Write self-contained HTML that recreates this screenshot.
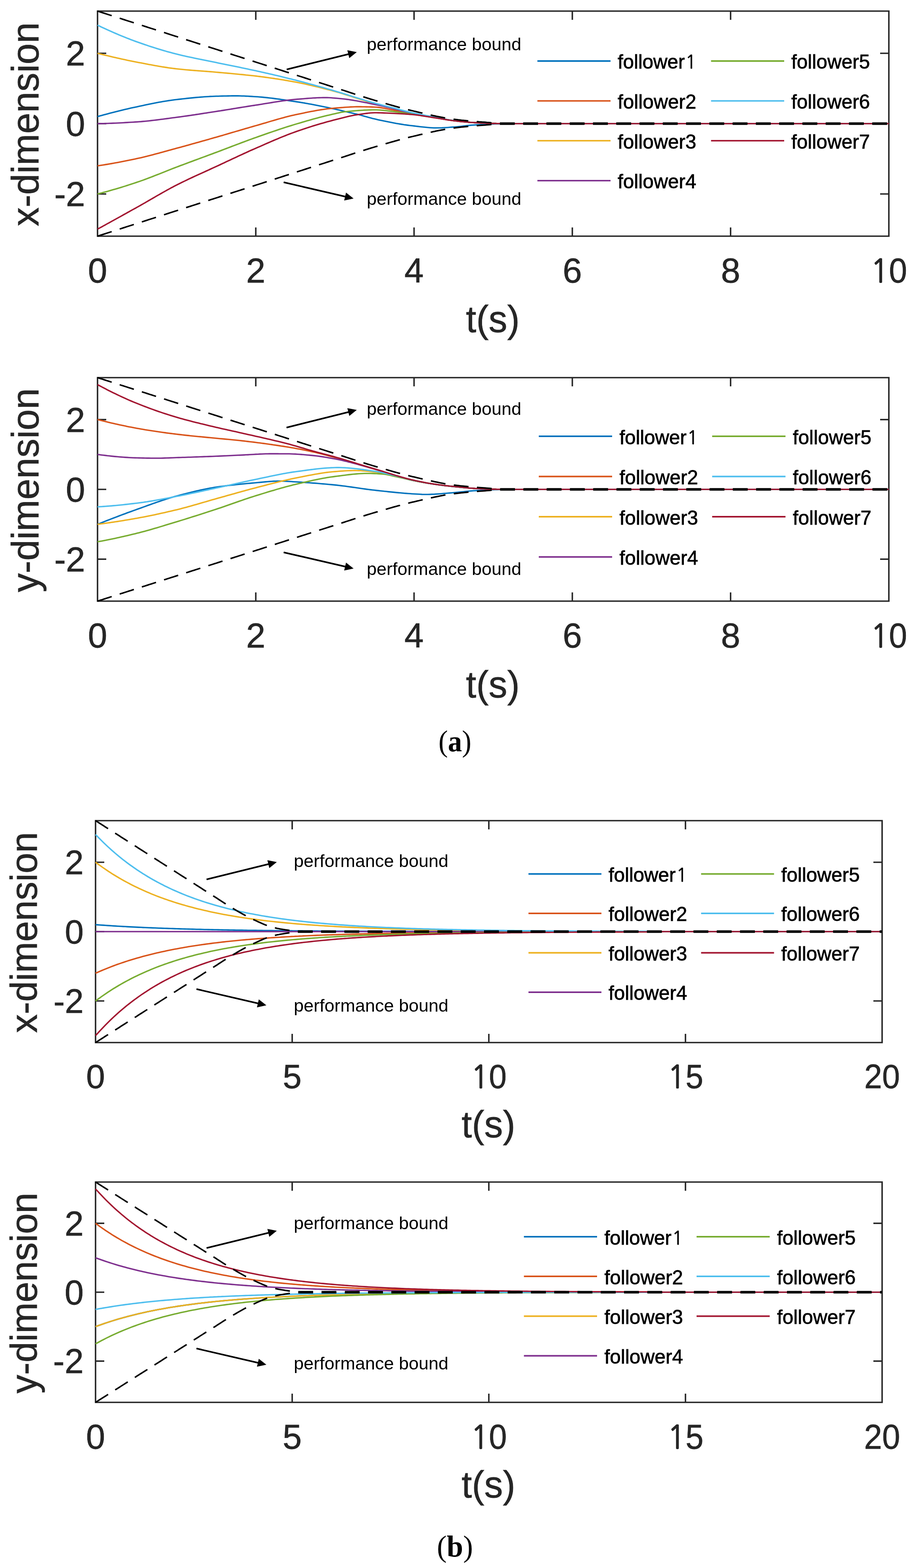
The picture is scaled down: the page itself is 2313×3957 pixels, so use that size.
<!DOCTYPE html>
<html><head><meta charset="utf-8"><title>follower trajectories with performance bounds</title>
<style>
html,body{margin:0;padding:0;background:#fff;}
svg{display:block;}
.ax{font-family:"Liberation Sans",Arial,Helvetica,sans-serif;fill:#262626;stroke:#262626;stroke-width:0.8px;}
.lg{font-family:"Liberation Sans",Arial,Helvetica,sans-serif;fill:#000;stroke:#000;stroke-width:0.9px;}
.an{font-family:"Liberation Sans",Arial,Helvetica,sans-serif;fill:#000;}
.cap{font-family:"Liberation Serif","Times New Roman",serif;fill:#000;}
</style></head><body>
<svg width="2313" height="3957" viewBox="0 0 2313 3957">
<rect width="2313" height="3957" fill="#fff"/>
<g>
<path d="M246 28H2242V596H246ZM246 596V574M246 28V50M645.2 596V574M645.2 28V50M1044.4 596V574M1044.4 28V50M1443.6 596V574M1443.6 28V50M1842.8 596V574M1842.8 28V50M2242 596V574M2242 28V50M246 489.5H268M2242 489.5H2220M246 312H268M2242 312H2220M246 134.5H268M2242 134.5H2220" stroke="#262626" stroke-width="3.7" fill="none"/>
<g fill="none" stroke-width="3.6" stroke-linejoin="round">
<path d="M246 294.2 L251 292.8 L256 291.5 L261 290.1 L266 288.7 L270.9 287.4 L275.9 286 L280.9 284.7 L285.9 283.4 L290.9 282.2 L295.9 280.9 L300.9 279.7 L305.9 278.4 L310.9 277.2 L315.9 276 L320.8 274.9 L325.8 273.7 L330.8 272.6 L335.8 271.5 L340.8 270.4 L345.8 269.4 L350.8 268.3 L355.8 267.2 L360.8 266.2 L365.8 265.1 L370.8 264.1 L375.7 263.1 L380.7 262.1 L385.7 261 L390.7 260.1 L395.7 259.1 L400.7 258.1 L405.7 257.2 L410.7 256.3 L415.7 255.5 L420.6 254.7 L425.6 253.9 L430.6 253.2 L435.6 252.5 L440.6 251.8 L445.6 251.2 L450.6 250.6 L455.6 250.1 L460.6 249.5 L465.6 249 L470.6 248.4 L475.5 247.9 L480.5 247.4 L485.5 246.9 L490.5 246.4 L495.5 245.9 L500.5 245.5 L505.5 245.1 L510.5 244.7 L515.5 244.3 L520.5 244 L525.4 243.7 L530.4 243.4 L535.4 243.2 L540.4 243 L545.4 242.8 L550.4 242.7 L555.4 242.5 L560.4 242.4 L565.4 242.3 L570.3 242.2 L575.3 242.1 L580.3 242 L585.3 241.9 L590.3 241.9 L595.3 241.9 L600.3 241.9 L605.3 242 L610.3 242.2 L615.3 242.3 L620.2 242.6 L625.2 242.8 L630.2 243.1 L635.2 243.4 L640.2 243.7 L645.2 244 L650.2 244.3 L655.2 244.7 L660.2 245.1 L665.2 245.6 L670.1 246.1 L675.1 246.6 L680.1 247.2 L685.1 247.8 L690.1 248.4 L695.1 249.1 L700.1 249.7 L705.1 250.4 L710.1 251.2 L715.1 251.9 L720 252.6 L725 253.4 L730 254.1 L735 254.9 L740 255.6 L745 256.4 L750 257.1 L755 257.9 L760 258.7 L765 259.6 L770 260.4 L774.9 261.3 L779.9 262.2 L784.9 263.1 L789.9 264.1 L794.9 265 L799.9 266 L804.9 267 L809.9 268 L814.9 269 L819.8 270.1 L824.8 271.1 L829.8 272.1 L834.8 273.2 L839.8 274.2 L844.8 275.3 L849.8 276.5 L854.8 277.6 L859.8 278.8 L864.8 280 L869.7 281.2 L874.7 282.3 L879.7 283.5 L884.7 284.6 L889.7 285.7 L894.7 286.9 L899.7 288.1 L904.7 289.3 L909.7 290.6 L914.7 292 L919.6 293.4 L924.6 294.8 L929.6 296.3 L934.6 297.6 L939.6 298.9 L944.6 300.1 L949.6 301.3 L954.6 302.4 L959.6 303.4 L964.6 304.5 L969.5 305.5 L974.5 306.6 L979.5 307.6 L984.5 308.6 L989.5 309.5 L994.5 310.5 L999.5 311.4 L1004.5 312.3 L1009.5 313.1 L1014.5 313.9 L1019.4 314.7 L1024.4 315.4 L1029.4 316.1 L1034.4 316.7 L1039.4 317.3 L1044.4 317.9 L1049.4 318.5 L1054.4 319.1 L1059.4 319.7 L1064.4 320.3 L1069.3 320.8 L1074.3 321.3 L1079.3 321.8 L1084.3 322.2 L1089.3 322.5 L1094.3 322.7 L1099.3 322.8 L1104.3 322.8 L1109.3 322.7 L1114.3 322.6 L1119.2 322.3 L1124.2 322 L1129.2 321.7 L1134.2 321.3 L1139.2 320.9 L1144.2 320.6 L1149.2 320.2 L1154.2 319.7 L1159.2 319.2 L1164.2 318.7 L1169.2 318.1 L1174.1 317.5 L1179.1 316.9 L1184.1 316.4 L1189.1 315.9 L1194.1 315.6 L1199.1 315.2 L1204.1 314.9 L1209.1 314.5 L1214.1 314.2 L1219 313.9 L1224 313.7 L1229 313.4 L1234 313.2 L1239 313 L1244 312.9 L1249 312.8 L1254 312.7 L1259 312.6 L1264 312.4 L1268.9 312.4 L1273.9 312.3 L1278.9 312.2 L1283.9 312.1 L1288.9 312.1 L1293.9 312 L1298.9 312 L1303.9 312 L2242 312" stroke="#0072BD"/>
<path d="M246 418.5 L251 417.8 L256 417 L261 416.2 L266 415.4 L270.9 414.6 L275.9 413.7 L280.9 412.9 L285.9 412 L290.9 411.1 L295.9 410.2 L300.9 409.2 L305.9 408.3 L310.9 407.3 L315.9 406.3 L320.8 405.3 L325.8 404.3 L330.8 403.3 L335.8 402.2 L340.8 401.2 L345.8 400.1 L350.8 399 L355.8 397.9 L360.8 396.7 L365.8 395.5 L370.8 394.3 L375.7 393 L380.7 391.7 L385.7 390.4 L390.7 389.1 L395.7 387.8 L400.7 386.4 L405.7 385.1 L410.7 383.7 L415.7 382.3 L420.6 381 L425.6 379.6 L430.6 378.2 L435.6 376.8 L440.6 375.5 L445.6 374.1 L450.6 372.8 L455.6 371.4 L460.6 370.1 L465.6 368.7 L470.6 367.3 L475.5 365.9 L480.5 364.5 L485.5 363.1 L490.5 361.7 L495.5 360.3 L500.5 358.9 L505.5 357.5 L510.5 356.1 L515.5 354.7 L520.5 353.3 L525.4 351.9 L530.4 350.4 L535.4 349 L540.4 347.6 L545.4 346.2 L550.4 344.7 L555.4 343.3 L560.4 341.9 L565.4 340.4 L570.3 339 L575.3 337.5 L580.3 336 L585.3 334.6 L590.3 333.1 L595.3 331.6 L600.3 330.2 L605.3 328.7 L610.3 327.2 L615.3 325.8 L620.2 324.3 L625.2 322.9 L630.2 321.4 L635.2 320 L640.2 318.6 L645.2 317.1 L650.2 315.7 L655.2 314.3 L660.2 312.8 L665.2 311.3 L670.1 309.9 L675.1 308.4 L680.1 306.9 L685.1 305.4 L690.1 304 L695.1 302.5 L700.1 301.1 L705.1 299.6 L710.1 298.2 L715.1 296.9 L720 295.6 L725 294.3 L730 293 L735 291.8 L740 290.7 L745 289.6 L750 288.5 L755 287.5 L760 286.4 L765 285.4 L770 284.3 L774.9 283.3 L779.9 282.3 L784.9 281.3 L789.9 280.4 L794.9 279.5 L799.9 278.6 L804.9 277.7 L809.9 276.9 L814.9 276.2 L819.8 275.5 L824.8 274.8 L829.8 274.2 L834.8 273.7 L839.8 273.2 L844.8 272.8 L849.8 272.4 L854.8 272 L859.8 271.6 L864.8 271.2 L869.7 270.8 L874.7 270.5 L879.7 270.2 L884.7 269.9 L889.7 269.7 L894.7 269.5 L899.7 269.4 L904.7 269.4 L909.7 269.4 L914.7 269.5 L919.6 269.5 L924.6 269.6 L929.6 269.8 L934.6 269.9 L939.6 270.1 L944.6 270.2 L949.6 270.5 L954.6 270.9 L959.6 271.6 L964.6 272.4 L969.5 273.3 L974.5 274.3 L979.5 275.3 L984.5 276.3 L989.5 277.3 L994.5 278.3 L999.5 279.2 L1004.5 280.2 L1009.5 281.1 L1014.5 282.1 L1019.4 283.2 L1024.4 284.2 L1029.4 285.2 L1034.4 286.1 L1039.4 287 L1044.4 287.9 L1049.4 288.8 L1054.4 289.6 L1059.4 290.4 L1064.4 291.2 L1069.3 292 L1074.3 292.8 L1079.3 293.6 L1084.3 294.4 L1089.3 295.2 L1094.3 296 L1099.3 296.9 L1104.3 297.7 L1109.3 298.6 L1114.3 299.5 L1119.2 300.4 L1124.2 301.3 L1129.2 302.2 L1134.2 303 L1139.2 303.7 L1144.2 304.4 L1149.2 305 L1154.2 305.6 L1159.2 306.2 L1164.2 306.7 L1169.2 307.3 L1174.1 307.8 L1179.1 308.2 L1184.1 308.6 L1189.1 309 L1194.1 309.3 L1199.1 309.6 L1204.1 309.9 L1209.1 310.2 L1214.1 310.5 L1219 310.7 L1224 311 L1229 311.2 L1234 311.3 L1239 311.5 L1244 311.6 L1249 311.6 L1254 311.7 L1259 311.7 L1264 311.8 L1268.9 311.8 L1273.9 311.9 L1278.9 311.9 L1283.9 311.9 L1288.9 312 L1293.9 312 L1298.9 312 L1303.9 312 L2242 312" stroke="#D95319"/>
<path d="M246 134.5 L251 135.8 L256 137 L261 138.2 L266 139.4 L270.9 140.6 L275.9 141.8 L280.9 143 L285.9 144.2 L290.9 145.3 L295.9 146.5 L300.9 147.6 L305.9 148.7 L310.9 149.8 L315.9 150.8 L320.8 151.9 L325.8 152.9 L330.8 154 L335.8 155 L340.8 155.9 L345.8 156.9 L350.8 157.9 L355.8 158.8 L360.8 159.8 L365.8 160.8 L370.8 161.7 L375.7 162.7 L380.7 163.6 L385.7 164.5 L390.7 165.4 L395.7 166.3 L400.7 167.2 L405.7 168 L410.7 168.9 L415.7 169.6 L420.6 170.4 L425.6 171.2 L430.6 171.9 L435.6 172.5 L440.6 173.1 L445.6 173.7 L450.6 174.3 L455.6 174.8 L460.6 175.3 L465.6 175.8 L470.6 176.2 L475.5 176.6 L480.5 177.1 L485.5 177.5 L490.5 177.9 L495.5 178.2 L500.5 178.6 L505.5 179 L510.5 179.4 L515.5 179.7 L520.5 180.1 L525.4 180.5 L530.4 180.9 L535.4 181.3 L540.4 181.8 L545.4 182.2 L550.4 182.6 L555.4 183.1 L560.4 183.5 L565.4 184 L570.3 184.4 L575.3 184.9 L580.3 185.3 L585.3 185.8 L590.3 186.2 L595.3 186.7 L600.3 187.2 L605.3 187.7 L610.3 188.1 L615.3 188.6 L620.2 189.2 L625.2 189.7 L630.2 190.2 L635.2 190.8 L640.2 191.3 L645.2 191.9 L650.2 192.5 L655.2 193.1 L660.2 193.8 L665.2 194.4 L670.1 195.1 L675.1 195.8 L680.1 196.5 L685.1 197.2 L690.1 197.9 L695.1 198.7 L700.1 199.4 L705.1 200.2 L710.1 201 L715.1 201.8 L720 202.7 L725 203.5 L730 204.4 L735 205.3 L740 206.2 L745 207.1 L750 208 L755 209 L760 210 L765 211.1 L770 212.1 L774.9 213.2 L779.9 214.4 L784.9 215.5 L789.9 216.7 L794.9 217.9 L799.9 219.1 L804.9 220.3 L809.9 221.6 L814.9 222.9 L819.8 224.2 L824.8 225.5 L829.8 226.8 L834.8 228.1 L839.8 229.4 L844.8 230.8 L849.8 232.2 L854.8 233.6 L859.8 235.1 L864.8 236.6 L869.7 238.2 L874.7 239.7 L879.7 241.3 L884.7 242.9 L889.7 244.5 L894.7 246.2 L899.7 247.8 L904.7 249.4 L909.7 251 L914.7 252.6 L919.6 254.1 L924.6 255.7 L929.6 257.2 L934.6 258.7 L939.6 260.1 L944.6 261.5 L949.6 262.8 L954.6 264.1 L959.6 265.4 L964.6 266.6 L969.5 267.8 L974.5 269 L979.5 270.2 L984.5 271.4 L989.5 272.6 L994.5 273.8 L999.5 275.1 L1004.5 276.4 L1009.5 277.7 L1014.5 279.1 L1019.4 280.4 L1024.4 281.7 L1029.4 282.9 L1034.4 284.1 L1039.4 285.2 L1044.4 286.3 L1049.4 287.3 L1054.4 288.3 L1059.4 289.3 L1064.4 290.2 L1069.3 291.1 L1074.3 292 L1079.3 292.9 L1084.3 293.8 L1089.3 294.7 L1094.3 295.6 L1099.3 296.5 L1104.3 297.4 L1109.3 298.3 L1114.3 299.3 L1119.2 300.2 L1124.2 301.1 L1129.2 301.9 L1134.2 302.8 L1139.2 303.5 L1144.2 304.2 L1149.2 304.9 L1154.2 305.5 L1159.2 306.1 L1164.2 306.6 L1169.2 307.2 L1174.1 307.7 L1179.1 308.2 L1184.1 308.6 L1189.1 309 L1194.1 309.3 L1199.1 309.6 L1204.1 309.9 L1209.1 310.2 L1214.1 310.5 L1219 310.8 L1224 311 L1229 311.2 L1234 311.3 L1239 311.5 L1244 311.6 L1249 311.6 L1254 311.7 L1259 311.7 L1264 311.8 L1268.9 311.8 L1273.9 311.9 L1278.9 311.9 L1283.9 311.9 L1288.9 312 L1293.9 312 L1298.9 312 L1303.9 312 L2242 312" stroke="#EDB120"/>
<path d="M246 312 L251 311.9 L256 311.9 L261 311.8 L266 311.6 L270.9 311.5 L275.9 311.3 L280.9 311.1 L285.9 310.9 L290.9 310.7 L295.9 310.5 L300.9 310.2 L305.9 310 L310.9 309.7 L315.9 309.4 L320.8 309.1 L325.8 308.8 L330.8 308.5 L335.8 308.2 L340.8 307.9 L345.8 307.6 L350.8 307.2 L355.8 306.9 L360.8 306.4 L365.8 306 L370.8 305.5 L375.7 305 L380.7 304.4 L385.7 303.8 L390.7 303.2 L395.7 302.6 L400.7 302 L405.7 301.3 L410.7 300.7 L415.7 300 L420.6 299.4 L425.6 298.7 L430.6 298 L435.6 297.3 L440.6 296.7 L445.6 296 L450.6 295.4 L455.6 294.7 L460.6 294 L465.6 293.3 L470.6 292.6 L475.5 291.9 L480.5 291.2 L485.5 290.4 L490.5 289.7 L495.5 288.9 L500.5 288.2 L505.5 287.4 L510.5 286.6 L515.5 285.8 L520.5 285.1 L525.4 284.3 L530.4 283.5 L535.4 282.7 L540.4 282 L545.4 281.2 L550.4 280.4 L555.4 279.7 L560.4 278.9 L565.4 278.1 L570.3 277.3 L575.3 276.5 L580.3 275.7 L585.3 274.9 L590.3 274 L595.3 273.2 L600.3 272.4 L605.3 271.6 L610.3 270.8 L615.3 270 L620.2 269.2 L625.2 268.4 L630.2 267.6 L635.2 266.8 L640.2 266.1 L645.2 265.3 L650.2 264.6 L655.2 263.8 L660.2 263 L665.2 262.1 L670.1 261.3 L675.1 260.5 L680.1 259.7 L685.1 258.9 L690.1 258 L695.1 257.3 L700.1 256.5 L705.1 255.7 L710.1 255 L715.1 254.3 L720 253.6 L725 253 L730 252.4 L735 251.8 L740 251.3 L745 250.8 L750 250.4 L755 250 L760 249.6 L765 249.2 L770 248.8 L774.9 248.4 L779.9 248 L784.9 247.7 L789.9 247.3 L794.9 247.1 L799.9 246.8 L804.9 246.6 L809.9 246.5 L814.9 246.4 L819.8 246.3 L824.8 246.4 L829.8 246.5 L834.8 246.8 L839.8 247.2 L844.8 247.6 L849.8 248 L854.8 248.5 L859.8 249 L864.8 249.5 L869.7 250 L874.7 250.6 L879.7 251.3 L884.7 252.1 L889.7 252.9 L894.7 253.7 L899.7 254.6 L904.7 255.5 L909.7 256.4 L914.7 257.4 L919.6 258.4 L924.6 259.3 L929.6 260.4 L934.6 261.4 L939.6 262.4 L944.6 263.4 L949.6 264.4 L954.6 265.4 L959.6 266.5 L964.6 267.6 L969.5 268.8 L974.5 269.9 L979.5 271.1 L984.5 272.3 L989.5 273.5 L994.5 274.7 L999.5 276 L1004.5 277.2 L1009.5 278.6 L1014.5 279.9 L1019.4 281.2 L1024.4 282.6 L1029.4 283.8 L1034.4 285 L1039.4 286.1 L1044.4 287.2 L1049.4 288.2 L1054.4 289.1 L1059.4 290 L1064.4 290.9 L1069.3 291.8 L1074.3 292.6 L1079.3 293.5 L1084.3 294.3 L1089.3 295.2 L1094.3 296 L1099.3 296.9 L1104.3 297.8 L1109.3 298.7 L1114.3 299.6 L1119.2 300.5 L1124.2 301.4 L1129.2 302.2 L1134.2 303 L1139.2 303.7 L1144.2 304.4 L1149.2 305 L1154.2 305.6 L1159.2 306.2 L1164.2 306.7 L1169.2 307.3 L1174.1 307.8 L1179.1 308.2 L1184.1 308.6 L1189.1 309 L1194.1 309.3 L1199.1 309.6 L1204.1 309.9 L1209.1 310.2 L1214.1 310.5 L1219 310.7 L1224 311 L1229 311.2 L1234 311.3 L1239 311.5 L1244 311.6 L1249 311.6 L1254 311.7 L1259 311.7 L1264 311.8 L1268.9 311.8 L1273.9 311.9 L1278.9 311.9 L1283.9 311.9 L1288.9 312 L1293.9 312 L1298.9 312 L1303.9 312 L2242 312" stroke="#7E2F8E"/>
<path d="M246 489.5 L251 488.2 L256 486.9 L261 485.6 L266 484.2 L270.9 482.9 L275.9 481.5 L280.9 480 L285.9 478.6 L290.9 477.2 L295.9 475.7 L300.9 474.2 L305.9 472.7 L310.9 471.1 L315.9 469.6 L320.8 468 L325.8 466.4 L330.8 464.8 L335.8 463.1 L340.8 461.5 L345.8 459.8 L350.8 458.1 L355.8 456.4 L360.8 454.6 L365.8 452.8 L370.8 450.9 L375.7 449 L380.7 447.1 L385.7 445.2 L390.7 443.2 L395.7 441.3 L400.7 439.3 L405.7 437.3 L410.7 435.3 L415.7 433.3 L420.6 431.3 L425.6 429.3 L430.6 427.4 L435.6 425.4 L440.6 423.5 L445.6 421.6 L450.6 419.7 L455.6 417.8 L460.6 416 L465.6 414.1 L470.6 412.3 L475.5 410.4 L480.5 408.5 L485.5 406.7 L490.5 404.8 L495.5 403 L500.5 401.1 L505.5 399.3 L510.5 397.4 L515.5 395.6 L520.5 393.7 L525.4 391.9 L530.4 390 L535.4 388.2 L540.4 386.3 L545.4 384.5 L550.4 382.6 L555.4 380.7 L560.4 378.8 L565.4 376.9 L570.3 375 L575.3 373.1 L580.3 371.2 L585.3 369.3 L590.3 367.4 L595.3 365.5 L600.3 363.6 L605.3 361.7 L610.3 359.8 L615.3 358 L620.2 356.1 L625.2 354.3 L630.2 352.4 L635.2 350.6 L640.2 348.8 L645.2 347.1 L650.2 345.3 L655.2 343.5 L660.2 341.8 L665.2 340 L670.1 338.3 L675.1 336.5 L680.1 334.8 L685.1 333.1 L690.1 331.4 L695.1 329.7 L700.1 328 L705.1 326.3 L710.1 324.6 L715.1 323 L720 321.4 L725 319.8 L730 318.2 L735 316.7 L740 315.1 L745 313.6 L750 312.1 L755 310.7 L760 309.2 L765 307.7 L770 306.3 L774.9 304.8 L779.9 303.4 L784.9 302 L789.9 300.6 L794.9 299.3 L799.9 297.9 L804.9 296.6 L809.9 295.3 L814.9 294 L819.8 292.8 L824.8 291.5 L829.8 290.4 L834.8 289.2 L839.8 288.1 L844.8 287 L849.8 285.8 L854.8 284.7 L859.8 283.6 L864.8 282.7 L869.7 282 L874.7 281.5 L879.7 281 L884.7 280.5 L889.7 280.1 L894.7 279.6 L899.7 279.2 L904.7 278.9 L909.7 278.5 L914.7 278.2 L919.6 277.9 L924.6 277.7 L929.6 277.5 L934.6 277.4 L939.6 277.3 L944.6 277.2 L949.6 277.3 L954.6 277.5 L959.6 277.8 L964.6 278.2 L969.5 278.8 L974.5 279.3 L979.5 280 L984.5 280.6 L989.5 281.2 L994.5 281.8 L999.5 282.4 L1004.5 283 L1009.5 283.7 L1014.5 284.4 L1019.4 285.1 L1024.4 285.8 L1029.4 286.5 L1034.4 287.2 L1039.4 288 L1044.4 288.7 L1049.4 289.4 L1054.4 290.2 L1059.4 291 L1064.4 291.7 L1069.3 292.5 L1074.3 293.3 L1079.3 294.1 L1084.3 294.9 L1089.3 295.7 L1094.3 296.5 L1099.3 297.3 L1104.3 298.1 L1109.3 298.9 L1114.3 299.8 L1119.2 300.6 L1124.2 301.5 L1129.2 302.3 L1134.2 303 L1139.2 303.8 L1144.2 304.4 L1149.2 305 L1154.2 305.6 L1159.2 306.2 L1164.2 306.7 L1169.2 307.3 L1174.1 307.7 L1179.1 308.2 L1184.1 308.6 L1189.1 309 L1194.1 309.3 L1199.1 309.6 L1204.1 309.9 L1209.1 310.2 L1214.1 310.5 L1219 310.7 L1224 311 L1229 311.2 L1234 311.3 L1239 311.5 L1244 311.6 L1249 311.6 L1254 311.7 L1259 311.7 L1264 311.8 L1268.9 311.8 L1273.9 311.9 L1278.9 311.9 L1283.9 311.9 L1288.9 312 L1293.9 312 L1298.9 312 L1303.9 312 L2242 312" stroke="#77AC30"/>
<path d="M246 63.5 L251 65.9 L256 68.3 L261 70.6 L266 72.9 L270.9 75.2 L275.9 77.4 L280.9 79.7 L285.9 81.9 L290.9 84 L295.9 86.2 L300.9 88.3 L305.9 90.4 L310.9 92.4 L315.9 94.4 L320.8 96.4 L325.8 98.3 L330.8 100.3 L335.8 102.1 L340.8 104 L345.8 105.8 L350.8 107.5 L355.8 109.3 L360.8 111 L365.8 112.7 L370.8 114.4 L375.7 116.1 L380.7 117.7 L385.7 119.3 L390.7 120.9 L395.7 122.5 L400.7 124 L405.7 125.5 L410.7 127 L415.7 128.4 L420.6 129.9 L425.6 131.3 L430.6 132.6 L435.6 134 L440.6 135.3 L445.6 136.5 L450.6 137.8 L455.6 139 L460.6 140.2 L465.6 141.3 L470.6 142.4 L475.5 143.5 L480.5 144.6 L485.5 145.6 L490.5 146.7 L495.5 147.7 L500.5 148.7 L505.5 149.7 L510.5 150.7 L515.5 151.7 L520.5 152.7 L525.4 153.7 L530.4 154.7 L535.4 155.7 L540.4 156.8 L545.4 157.8 L550.4 158.9 L555.4 159.9 L560.4 160.9 L565.4 162 L570.3 163 L575.3 164 L580.3 165 L585.3 166 L590.3 167.1 L595.3 168.1 L600.3 169.1 L605.3 170.1 L610.3 171.2 L615.3 172.2 L620.2 173.2 L625.2 174.3 L630.2 175.4 L635.2 176.4 L640.2 177.5 L645.2 178.6 L650.2 179.7 L655.2 180.8 L660.2 181.9 L665.2 183.1 L670.1 184.2 L675.1 185.3 L680.1 186.5 L685.1 187.6 L690.1 188.8 L695.1 190 L700.1 191.1 L705.1 192.3 L710.1 193.5 L715.1 194.7 L720 195.9 L725 197.2 L730 198.4 L735 199.6 L740 200.9 L745 202.1 L750 203.4 L755 204.7 L760 206 L765 207.3 L770 208.7 L774.9 210 L779.9 211.4 L784.9 212.7 L789.9 214.1 L794.9 215.5 L799.9 216.9 L804.9 218.3 L809.9 219.7 L814.9 221.1 L819.8 222.5 L824.8 223.9 L829.8 225.4 L834.8 226.8 L839.8 228.3 L844.8 229.7 L849.8 231.2 L854.8 232.7 L859.8 234.2 L864.8 235.7 L869.7 237.3 L874.7 238.8 L879.7 240.4 L884.7 242 L889.7 243.6 L894.7 245.1 L899.7 246.7 L904.7 248.3 L909.7 249.8 L914.7 251.3 L919.6 252.9 L924.6 254.4 L929.6 255.9 L934.6 257.3 L939.6 258.7 L944.6 260.1 L949.6 261.5 L954.6 262.8 L959.6 264.1 L964.6 265.4 L969.5 266.7 L974.5 267.9 L979.5 269.2 L984.5 270.4 L989.5 271.7 L994.5 272.9 L999.5 274.2 L1004.5 275.5 L1009.5 276.9 L1014.5 278.2 L1019.4 279.5 L1024.4 280.8 L1029.4 282 L1034.4 283.2 L1039.4 284.4 L1044.4 285.4 L1049.4 286.5 L1054.4 287.5 L1059.4 288.5 L1064.4 289.5 L1069.3 290.5 L1074.3 291.4 L1079.3 292.3 L1084.3 293.3 L1089.3 294.2 L1094.3 295.1 L1099.3 296.1 L1104.3 297.1 L1109.3 298 L1114.3 299 L1119.2 300 L1124.2 300.9 L1129.2 301.9 L1134.2 302.7 L1139.2 303.5 L1144.2 304.2 L1149.2 304.9 L1154.2 305.5 L1159.2 306.1 L1164.2 306.7 L1169.2 307.2 L1174.1 307.7 L1179.1 308.2 L1184.1 308.6 L1189.1 309 L1194.1 309.3 L1199.1 309.6 L1204.1 309.9 L1209.1 310.2 L1214.1 310.5 L1219 310.8 L1224 311 L1229 311.2 L1234 311.3 L1239 311.5 L1244 311.6 L1249 311.6 L1254 311.7 L1259 311.7 L1264 311.8 L1268.9 311.8 L1273.9 311.9 L1278.9 311.9 L1283.9 311.9 L1288.9 312 L1293.9 312 L1298.9 312 L1303.9 312 L2242 312" stroke="#4DBEEE"/>
<path d="M246 578.2 L251 575.5 L256 572.8 L261 570 L266 567.3 L270.9 564.5 L275.9 561.8 L280.9 559 L285.9 556.2 L290.9 553.5 L295.9 550.7 L300.9 548 L305.9 545.2 L310.9 542.4 L315.9 539.7 L320.8 536.9 L325.8 534.1 L330.8 531.3 L335.8 528.5 L340.8 525.8 L345.8 523 L350.8 520.2 L355.8 517.4 L360.8 514.5 L365.8 511.7 L370.8 508.8 L375.7 505.9 L380.7 503 L385.7 500.1 L390.7 497.2 L395.7 494.3 L400.7 491.5 L405.7 488.6 L410.7 485.8 L415.7 483 L420.6 480.2 L425.6 477.5 L430.6 474.7 L435.6 472.1 L440.6 469.4 L445.6 466.9 L450.6 464.3 L455.6 461.8 L460.6 459.4 L465.6 457 L470.6 454.6 L475.5 452.2 L480.5 449.8 L485.5 447.5 L490.5 445.2 L495.5 442.9 L500.5 440.6 L505.5 438.3 L510.5 436.1 L515.5 433.8 L520.5 431.5 L525.4 429.3 L530.4 427 L535.4 424.7 L540.4 422.4 L545.4 420.1 L550.4 417.8 L555.4 415.5 L560.4 413.1 L565.4 410.8 L570.3 408.4 L575.3 406.1 L580.3 403.8 L585.3 401.4 L590.3 399.1 L595.3 396.8 L600.3 394.4 L605.3 392.1 L610.3 389.8 L615.3 387.5 L620.2 385.3 L625.2 383 L630.2 380.7 L635.2 378.5 L640.2 376.3 L645.2 374.1 L650.2 371.9 L655.2 369.8 L660.2 367.6 L665.2 365.4 L670.1 363.2 L675.1 361 L680.1 358.8 L685.1 356.7 L690.1 354.5 L695.1 352.4 L700.1 350.3 L705.1 348.2 L710.1 346.2 L715.1 344.1 L720 342.2 L725 340.2 L730 338.3 L735 336.4 L740 334.6 L745 332.8 L750 331 L755 329.3 L760 327.6 L765 325.9 L770 324.2 L774.9 322.6 L779.9 321 L784.9 319.4 L789.9 317.8 L794.9 316.3 L799.9 314.8 L804.9 313.3 L809.9 311.8 L814.9 310.4 L819.8 309 L824.8 307.6 L829.8 306.3 L834.8 304.9 L839.8 303.6 L844.8 302.3 L849.8 301 L854.8 299.7 L859.8 298.4 L864.8 297.2 L869.7 296 L874.7 294.8 L879.7 293.6 L884.7 292.5 L889.7 291.5 L894.7 290.6 L899.7 289.7 L904.7 289 L909.7 288.2 L914.7 287.5 L919.6 286.8 L924.6 286.1 L929.6 285.5 L934.6 285 L939.6 284.7 L944.6 284.5 L949.6 284.5 L954.6 284.6 L959.6 284.7 L964.6 284.9 L969.5 285.1 L974.5 285.3 L979.5 285.5 L984.5 285.8 L989.5 286 L994.5 286.3 L999.5 286.5 L1004.5 286.7 L1009.5 287 L1014.5 287.3 L1019.4 287.5 L1024.4 287.9 L1029.4 288.2 L1034.4 288.6 L1039.4 289 L1044.4 289.4 L1049.4 290 L1054.4 290.6 L1059.4 291.3 L1064.4 292.1 L1069.3 292.9 L1074.3 293.7 L1079.3 294.5 L1084.3 295.3 L1089.3 296.1 L1094.3 296.9 L1099.3 297.7 L1104.3 298.5 L1109.3 299.3 L1114.3 300.1 L1119.2 301 L1124.2 301.8 L1129.2 302.6 L1134.2 303.3 L1139.2 304 L1144.2 304.7 L1149.2 305.3 L1154.2 305.8 L1159.2 306.4 L1164.2 306.9 L1169.2 307.4 L1174.1 307.8 L1179.1 308.3 L1184.1 308.7 L1189.1 309 L1194.1 309.3 L1199.1 309.6 L1204.1 309.9 L1209.1 310.2 L1214.1 310.5 L1219 310.7 L1224 311 L1229 311.2 L1234 311.3 L1239 311.5 L1244 311.6 L1249 311.6 L1254 311.7 L1259 311.7 L1264 311.8 L1268.9 311.8 L1273.9 311.9 L1278.9 311.9 L1283.9 311.9 L1288.9 312 L1293.9 312 L1298.9 312 L1303.9 312 L2242 312" stroke="#A2142F"/>
</g>
<g fill="none" stroke="#000" stroke-width="3.8" stroke-dasharray="37.5 21.2">
<path d="M246 28 L250 29.3 L254 30.6 L258 31.9 L262 33.1 L266 34.4 L270 35.7 L273.9 37 L277.9 38.3 L281.9 39.6 L285.9 40.9 L289.9 42.2 L293.9 43.4 L297.9 44.7 L301.9 46 L305.9 47.3 L309.9 48.6 L313.9 49.9 L317.9 51.2 L321.8 52.5 L325.8 53.7 L329.8 55 L333.8 56.3 L337.8 57.6 L341.8 58.9 L345.8 60.2 L349.8 61.5 L353.8 62.7 L357.8 64 L361.8 65.3 L365.8 66.6 L369.8 67.9 L373.7 69.2 L377.7 70.5 L381.7 71.8 L385.7 73 L389.7 74.3 L393.7 75.6 L397.7 76.9 L401.7 78.2 L405.7 79.5 L409.7 80.8 L413.7 82 L417.7 83.3 L421.6 84.6 L425.6 85.9 L429.6 87.2 L433.6 88.5 L437.6 89.8 L441.6 91.1 L445.6 92.3 L449.6 93.6 L453.6 94.9 L457.6 96.2 L461.6 97.5 L465.6 98.8 L469.6 100.1 L473.5 101.4 L477.5 102.6 L481.5 103.9 L485.5 105.2 L489.5 106.5 L493.5 107.8 L497.5 109.1 L501.5 110.4 L505.5 111.6 L509.5 112.9 L513.5 114.2 L517.5 115.5 L521.4 116.8 L525.4 118.1 L529.4 119.4 L533.4 120.7 L537.4 121.9 L541.4 123.2 L545.4 124.5 L549.4 125.8 L553.4 127.1 L557.4 128.4 L561.4 129.7 L565.4 130.9 L569.4 132.2 L573.3 133.5 L577.3 134.8 L581.3 136.1 L585.3 137.4 L589.3 138.7 L593.3 140 L597.3 141.2 L601.3 142.5 L605.3 143.8 L609.3 145.1 L613.3 146.4 L617.3 147.7 L621.2 149 L625.2 150.3 L629.2 151.5 L633.2 152.8 L637.2 154.1 L641.2 155.4 L645.2 156.7 L649.2 158 L653.2 159.3 L657.2 160.5 L661.2 161.8 L665.2 163.1 L669.2 164.4 L673.1 165.7 L677.1 167 L681.1 168.3 L685.1 169.6 L689.1 170.9 L693.1 172.1 L697.1 173.4 L701.1 174.7 L705.1 176 L709.1 177.3 L713.1 178.6 L717.1 179.9 L721 181.2 L725 182.4 L729 183.7 L733 185 L737 186.3 L741 187.6 L745 188.9 L749 190.2 L753 191.5 L757 192.8 L761 194 L765 195.3 L769 196.6 L772.9 197.9 L776.9 199.2 L780.9 200.5 L784.9 201.8 L788.9 203.1 L792.9 204.3 L796.9 205.6 L800.9 206.9 L804.9 208.2 L808.9 209.5 L812.9 210.8 L816.9 212 L820.8 213.3 L824.8 214.6 L828.8 215.9 L832.8 217.2 L836.8 218.5 L840.8 219.7 L844.8 221 L848.8 222.3 L852.8 223.6 L856.8 224.9 L860.8 226.2 L864.8 227.5 L868.8 228.8 L872.7 230.1 L876.7 231.4 L880.7 232.7 L884.7 234.1 L888.7 235.4 L892.7 236.7 L896.7 238 L900.7 239.3 L904.7 240.6 L908.7 241.8 L912.7 243.1 L916.7 244.4 L920.6 245.6 L924.6 246.9 L928.6 248.1 L932.6 249.4 L936.6 250.6 L940.6 251.8 L944.6 253 L948.6 254.2 L952.6 255.3 L956.6 256.5 L960.6 257.7 L964.6 258.9 L968.6 260 L972.5 261.2 L976.5 262.4 L980.5 263.5 L984.5 264.7 L988.5 265.8 L992.5 266.9 L996.5 268.1 L1000.5 269.2 L1004.5 270.3 L1008.5 271.4 L1012.5 272.4 L1016.5 273.5 L1020.4 274.5 L1024.4 275.6 L1028.4 276.6 L1032.4 277.6 L1036.4 278.6 L1040.4 279.5 L1044.4 280.5 L1048.4 281.4 L1052.4 282.4 L1056.4 283.3 L1060.4 284.3 L1064.4 285.2 L1068.4 286.1 L1072.3 287.1 L1076.3 288 L1080.3 288.9 L1084.3 289.8 L1088.3 290.7 L1092.3 291.6 L1096.3 292.4 L1100.3 293.3 L1104.3 294.1 L1108.3 294.9 L1112.3 295.7 L1116.3 296.4 L1120.2 297.2 L1124.2 297.9 L1128.2 298.5 L1132.2 299.2 L1136.2 299.8 L1140.2 300.4 L1144.2 300.9 L1148.2 301.4 L1152.2 301.9 L1156.2 302.4 L1160.2 302.8 L1164.2 303.3 L1168.2 303.7 L1172.1 304.1 L1176.1 304.5 L1180.1 304.8 L1184.1 305.2 L1188.1 305.6 L1192.1 305.9 L1196.1 306.3 L1200.1 306.6 L1204.1 306.9 L1208.1 307.3 L1212.1 307.6 L1216.1 307.9 L1220 308.1 L1224 308.4 L1228 308.8 L1232 309.1 L1236 309.4 L1240 309.8 L1244 310.3 L1248 310.7 L2242 310.7"/>
<path d="M246 596 L250 594.7 L254 593.4 L258 592.1 L262 590.9 L266 589.6 L270 588.3 L273.9 587 L277.9 585.7 L281.9 584.4 L285.9 583.1 L289.9 581.8 L293.9 580.6 L297.9 579.3 L301.9 578 L305.9 576.7 L309.9 575.4 L313.9 574.1 L317.9 572.8 L321.8 571.5 L325.8 570.3 L329.8 569 L333.8 567.7 L337.8 566.4 L341.8 565.1 L345.8 563.8 L349.8 562.5 L353.8 561.3 L357.8 560 L361.8 558.7 L365.8 557.4 L369.8 556.1 L373.7 554.8 L377.7 553.5 L381.7 552.2 L385.7 551 L389.7 549.7 L393.7 548.4 L397.7 547.1 L401.7 545.8 L405.7 544.5 L409.7 543.2 L413.7 542 L417.7 540.7 L421.6 539.4 L425.6 538.1 L429.6 536.8 L433.6 535.5 L437.6 534.2 L441.6 532.9 L445.6 531.7 L449.6 530.4 L453.6 529.1 L457.6 527.8 L461.6 526.5 L465.6 525.2 L469.6 523.9 L473.5 522.6 L477.5 521.4 L481.5 520.1 L485.5 518.8 L489.5 517.5 L493.5 516.2 L497.5 514.9 L501.5 513.6 L505.5 512.4 L509.5 511.1 L513.5 509.8 L517.5 508.5 L521.4 507.2 L525.4 505.9 L529.4 504.6 L533.4 503.3 L537.4 502.1 L541.4 500.8 L545.4 499.5 L549.4 498.2 L553.4 496.9 L557.4 495.6 L561.4 494.3 L565.4 493.1 L569.4 491.8 L573.3 490.5 L577.3 489.2 L581.3 487.9 L585.3 486.6 L589.3 485.3 L593.3 484 L597.3 482.8 L601.3 481.5 L605.3 480.2 L609.3 478.9 L613.3 477.6 L617.3 476.3 L621.2 475 L625.2 473.7 L629.2 472.5 L633.2 471.2 L637.2 469.9 L641.2 468.6 L645.2 467.3 L649.2 466 L653.2 464.7 L657.2 463.5 L661.2 462.2 L665.2 460.9 L669.2 459.6 L673.1 458.3 L677.1 457 L681.1 455.7 L685.1 454.4 L689.1 453.1 L693.1 451.9 L697.1 450.6 L701.1 449.3 L705.1 448 L709.1 446.7 L713.1 445.4 L717.1 444.1 L721 442.8 L725 441.6 L729 440.3 L733 439 L737 437.7 L741 436.4 L745 435.1 L749 433.8 L753 432.5 L757 431.2 L761 430 L765 428.7 L769 427.4 L772.9 426.1 L776.9 424.8 L780.9 423.5 L784.9 422.2 L788.9 420.9 L792.9 419.7 L796.9 418.4 L800.9 417.1 L804.9 415.8 L808.9 414.5 L812.9 413.2 L816.9 412 L820.8 410.7 L824.8 409.4 L828.8 408.1 L832.8 406.8 L836.8 405.5 L840.8 404.3 L844.8 403 L848.8 401.7 L852.8 400.4 L856.8 399.1 L860.8 397.8 L864.8 396.5 L868.8 395.2 L872.7 393.9 L876.7 392.6 L880.7 391.3 L884.7 389.9 L888.7 388.6 L892.7 387.3 L896.7 386 L900.7 384.7 L904.7 383.4 L908.7 382.2 L912.7 380.9 L916.7 379.6 L920.6 378.4 L924.6 377.1 L928.6 375.9 L932.6 374.6 L936.6 373.4 L940.6 372.2 L944.6 371 L948.6 369.8 L952.6 368.7 L956.6 367.5 L960.6 366.3 L964.6 365.1 L968.6 364 L972.5 362.8 L976.5 361.6 L980.5 360.5 L984.5 359.3 L988.5 358.2 L992.5 357.1 L996.5 355.9 L1000.5 354.8 L1004.5 353.7 L1008.5 352.6 L1012.5 351.6 L1016.5 350.5 L1020.4 349.5 L1024.4 348.4 L1028.4 347.4 L1032.4 346.4 L1036.4 345.4 L1040.4 344.5 L1044.4 343.5 L1048.4 342.6 L1052.4 341.6 L1056.4 340.7 L1060.4 339.7 L1064.4 338.8 L1068.4 337.9 L1072.3 336.9 L1076.3 336 L1080.3 335.1 L1084.3 334.2 L1088.3 333.3 L1092.3 332.4 L1096.3 331.6 L1100.3 330.7 L1104.3 329.9 L1108.3 329.1 L1112.3 328.3 L1116.3 327.6 L1120.2 326.8 L1124.2 326.1 L1128.2 325.5 L1132.2 324.8 L1136.2 324.2 L1140.2 323.6 L1144.2 323.1 L1148.2 322.6 L1152.2 322.1 L1156.2 321.6 L1160.2 321.2 L1164.2 320.7 L1168.2 320.3 L1172.1 319.9 L1176.1 319.5 L1180.1 319.2 L1184.1 318.8 L1188.1 318.4 L1192.1 318.1 L1196.1 317.7 L1200.1 317.4 L1204.1 317.1 L1208.1 316.7 L1212.1 316.4 L1216.1 316.1 L1220 315.9 L1224 315.6 L1228 315.2 L1232 314.9 L1236 314.6 L1240 314.2 L1244 313.7 L1248 313.3 L2242 313.3"/>
</g>
<text class="ax" x="246" y="713" font-size="87.5" text-anchor="middle">0</text>
<text class="ax" x="645.2" y="713" font-size="87.5" text-anchor="middle">2</text>
<text class="ax" x="1044.4" y="713" font-size="87.5" text-anchor="middle">4</text>
<text class="ax" x="1443.6" y="713" font-size="87.5" text-anchor="middle">6</text>
<text class="ax" x="1842.8" y="713" font-size="87.5" text-anchor="middle">8</text>
<text class="ax" x="2242" y="713" font-size="87.5" text-anchor="middle" textLength="91.9" lengthAdjust="spacingAndGlyphs"><tspan font-family="NanumGothic" font-size="81" style="stroke-width:2px">1</tspan>0</text>
<text class="ax" x="214.7" y="165.4" font-size="87.5" text-anchor="end">2</text>
<text class="ax" x="214.7" y="342.9" font-size="87.5" text-anchor="end">0</text>
<text class="ax" x="214.7" y="520.4" font-size="87.5" text-anchor="end">-2</text>
<text class="ax" x="1243" y="837.5" font-size="94" text-anchor="middle">t(s)</text>
<text class="ax" transform="translate(96.9 313.6) rotate(-90)" font-size="95.5" text-anchor="middle">x-dimension</text>
<line x1="723.2" y1="175.3" x2="880.5" y2="136.2" stroke="#000" stroke-width="4.1"/>
<path d="M899.9 131.4L881 146.7L876.1 126.7Z" fill="#000"/>
<text class="an" x="925" y="126.8" font-size="45" textLength="390" lengthAdjust="spacingAndGlyphs">performance bound</text>
<line x1="715.5" y1="459.9" x2="872.4" y2="496.6" stroke="#000" stroke-width="4.1"/>
<path d="M891.9 501.1L868.1 506.1L872.8 486.1Z" fill="#000"/>
<text class="an" x="925" y="516.8" font-size="45" textLength="390" lengthAdjust="spacingAndGlyphs">performance bound</text>
<line x1="1355.5" y1="154" x2="1540" y2="154" stroke="#0072BD" stroke-width="3.8"/>
<text class="lg" x="1558" y="173.3" font-size="49.5" textLength="198.2" lengthAdjust="spacing">follower<tspan dx="1.5" font-family="NanumGothic" font-size="45.8">1</tspan></text>
<line x1="1355.5" y1="254.6" x2="1540" y2="254.6" stroke="#D95319" stroke-width="3.8"/>
<text class="lg" x="1558" y="273.9" font-size="49.5" textLength="198.2" lengthAdjust="spacing">follower2</text>
<line x1="1355.5" y1="355.2" x2="1540" y2="355.2" stroke="#EDB120" stroke-width="3.8"/>
<text class="lg" x="1558" y="374.5" font-size="49.5" textLength="198.2" lengthAdjust="spacing">follower3</text>
<line x1="1355.5" y1="455.8" x2="1540" y2="455.8" stroke="#7E2F8E" stroke-width="3.8"/>
<text class="lg" x="1558" y="475.1" font-size="49.5" textLength="198.2" lengthAdjust="spacing">follower4</text>
<line x1="1793.5" y1="154" x2="1978" y2="154" stroke="#77AC30" stroke-width="3.8"/>
<text class="lg" x="1996" y="173.3" font-size="49.5" textLength="198.2" lengthAdjust="spacing">follower5</text>
<line x1="1793.5" y1="254.6" x2="1978" y2="254.6" stroke="#4DBEEE" stroke-width="3.8"/>
<text class="lg" x="1996" y="273.9" font-size="49.5" textLength="198.2" lengthAdjust="spacing">follower6</text>
<line x1="1793.5" y1="355.2" x2="1978" y2="355.2" stroke="#A2142F" stroke-width="3.8"/>
<text class="lg" x="1996" y="374.5" font-size="49.5" textLength="198.2" lengthAdjust="spacing">follower7</text>
</g>
<g>
<path d="M246 953H2242V1517H246ZM246 1517V1495M246 953V975M645.2 1517V1495M645.2 953V975M1044.4 1517V1495M1044.4 953V975M1443.6 1517V1495M1443.6 953V975M1842.8 1517V1495M1842.8 953V975M2242 1517V1495M2242 953V975M246 1411.2H268M2242 1411.2H2220M246 1235H268M2242 1235H2220M246 1058.8H268M2242 1058.8H2220" stroke="#262626" stroke-width="3.7" fill="none"/>
<g fill="none" stroke-width="3.6" stroke-linejoin="round">
<path d="M246 1323.1 L251 1321.1 L256 1319.1 L261 1317.2 L266 1315.2 L270.9 1313.3 L275.9 1311.3 L280.9 1309.4 L285.9 1307.5 L290.9 1305.6 L295.9 1303.7 L300.9 1301.8 L305.9 1299.9 L310.9 1298 L315.9 1296.2 L320.8 1294.3 L325.8 1292.5 L330.8 1290.7 L335.8 1288.9 L340.8 1287.1 L345.8 1285.3 L350.8 1283.5 L355.8 1281.7 L360.8 1279.9 L365.8 1278.1 L370.8 1276.3 L375.7 1274.5 L380.7 1272.7 L385.7 1270.9 L390.7 1269.2 L395.7 1267.4 L400.7 1265.7 L405.7 1264 L410.7 1262.3 L415.7 1260.7 L420.6 1259.1 L425.6 1257.5 L430.6 1256 L435.6 1254.5 L440.6 1253.1 L445.6 1251.7 L450.6 1250.4 L455.6 1249.1 L460.6 1247.8 L465.6 1246.5 L470.6 1245.2 L475.5 1243.9 L480.5 1242.7 L485.5 1241.4 L490.5 1240.2 L495.5 1239.1 L500.5 1237.9 L505.5 1236.8 L510.5 1235.7 L515.5 1234.7 L520.5 1233.7 L525.4 1232.7 L530.4 1231.8 L535.4 1231 L540.4 1230.1 L545.4 1229.4 L550.4 1228.6 L555.4 1227.9 L560.4 1227.2 L565.4 1226.6 L570.3 1225.9 L575.3 1225.3 L580.3 1224.7 L585.3 1224.1 L590.3 1223.6 L595.3 1223 L600.3 1222.5 L605.3 1222 L610.3 1221.5 L615.3 1221 L620.2 1220.5 L625.2 1220 L630.2 1219.6 L635.2 1219.1 L640.2 1218.7 L645.2 1218.3 L650.2 1217.8 L655.2 1217.4 L660.2 1216.9 L665.2 1216.4 L670.1 1215.9 L675.1 1215.5 L680.1 1215.1 L685.1 1214.7 L690.1 1214.4 L695.1 1214.2 L700.1 1214.1 L705.1 1214 L710.1 1214.1 L715.1 1214.2 L720 1214.4 L725 1214.7 L730 1215 L735 1215.3 L740 1215.7 L745 1216 L750 1216.3 L755 1216.6 L760 1216.9 L765 1217.3 L770 1217.6 L774.9 1217.9 L779.9 1218.3 L784.9 1218.7 L789.9 1219.1 L794.9 1219.4 L799.9 1219.8 L804.9 1220.3 L809.9 1220.7 L814.9 1221.1 L819.8 1221.5 L824.8 1222 L829.8 1222.5 L834.8 1222.9 L839.8 1223.4 L844.8 1223.9 L849.8 1224.4 L854.8 1225 L859.8 1225.6 L864.8 1226.2 L869.7 1226.8 L874.7 1227.5 L879.7 1228.2 L884.7 1228.9 L889.7 1229.6 L894.7 1230.3 L899.7 1231 L904.7 1231.8 L909.7 1232.5 L914.7 1233.2 L919.6 1233.9 L924.6 1234.6 L929.6 1235.2 L934.6 1235.9 L939.6 1236.5 L944.6 1237 L949.6 1237.6 L954.6 1238.1 L959.6 1238.7 L964.6 1239.2 L969.5 1239.8 L974.5 1240.3 L979.5 1240.9 L984.5 1241.4 L989.5 1241.9 L994.5 1242.4 L999.5 1242.9 L1004.5 1243.4 L1009.5 1243.8 L1014.5 1244.3 L1019.4 1244.7 L1024.4 1245.1 L1029.4 1245.5 L1034.4 1245.8 L1039.4 1246.2 L1044.4 1246.5 L1049.4 1246.7 L1054.4 1247 L1059.4 1247.3 L1064.4 1247.6 L1069.3 1247.7 L1074.3 1247.8 L1079.3 1247.7 L1084.3 1247.6 L1089.3 1247.4 L1094.3 1247.2 L1099.3 1246.9 L1104.3 1246.6 L1109.3 1246.2 L1114.3 1245.8 L1119.2 1245.4 L1124.2 1245 L1129.2 1244.5 L1134.2 1244.1 L1139.2 1243.7 L1144.2 1243.2 L1149.2 1242.8 L1154.2 1242.4 L1159.2 1241.9 L1164.2 1241.4 L1169.2 1240.9 L1174.1 1240.3 L1179.1 1239.8 L1184.1 1239.3 L1189.1 1238.9 L1194.1 1238.5 L1199.1 1238.2 L1204.1 1237.9 L1209.1 1237.5 L1214.1 1237.2 L1219 1236.9 L1224 1236.7 L1229 1236.4 L1234 1236.2 L1239 1236 L1244 1235.9 L1249 1235.8 L1254 1235.7 L1259 1235.5 L1264 1235.4 L1268.9 1235.4 L1273.9 1235.3 L1278.9 1235.2 L1283.9 1235.1 L1288.9 1235.1 L1293.9 1235 L1298.9 1235 L1303.9 1235 L2242 1235" stroke="#0072BD"/>
<path d="M246 1058.8 L251 1060 L256 1061.3 L261 1062.6 L266 1063.8 L270.9 1065 L275.9 1066.2 L280.9 1067.4 L285.9 1068.6 L290.9 1069.7 L295.9 1070.8 L300.9 1071.9 L305.9 1073 L310.9 1074.1 L315.9 1075.1 L320.8 1076.2 L325.8 1077.2 L330.8 1078.1 L335.8 1079.1 L340.8 1080 L345.8 1080.9 L350.8 1081.8 L355.8 1082.7 L360.8 1083.5 L365.8 1084.4 L370.8 1085.2 L375.7 1086 L380.7 1086.8 L385.7 1087.5 L390.7 1088.3 L395.7 1089 L400.7 1089.8 L405.7 1090.5 L410.7 1091.2 L415.7 1091.9 L420.6 1092.6 L425.6 1093.2 L430.6 1093.9 L435.6 1094.5 L440.6 1095.1 L445.6 1095.8 L450.6 1096.4 L455.6 1096.9 L460.6 1097.5 L465.6 1098.1 L470.6 1098.6 L475.5 1099.1 L480.5 1099.7 L485.5 1100.2 L490.5 1100.7 L495.5 1101.2 L500.5 1101.7 L505.5 1102.1 L510.5 1102.6 L515.5 1103.1 L520.5 1103.6 L525.4 1104.1 L530.4 1104.5 L535.4 1105 L540.4 1105.5 L545.4 1106 L550.4 1106.5 L555.4 1107 L560.4 1107.4 L565.4 1107.9 L570.3 1108.4 L575.3 1108.8 L580.3 1109.3 L585.3 1109.8 L590.3 1110.2 L595.3 1110.7 L600.3 1111.3 L605.3 1111.8 L610.3 1112.4 L615.3 1112.9 L620.2 1113.5 L625.2 1114.1 L630.2 1114.7 L635.2 1115.3 L640.2 1115.9 L645.2 1116.5 L650.2 1117.2 L655.2 1117.8 L660.2 1118.5 L665.2 1119.1 L670.1 1119.8 L675.1 1120.5 L680.1 1121.2 L685.1 1121.9 L690.1 1122.7 L695.1 1123.4 L700.1 1124.1 L705.1 1124.9 L710.1 1125.7 L715.1 1126.4 L720 1127.2 L725 1128 L730 1128.8 L735 1129.7 L740 1130.6 L745 1131.5 L750 1132.4 L755 1133.3 L760 1134.3 L765 1135.3 L770 1136.3 L774.9 1137.3 L779.9 1138.3 L784.9 1139.4 L789.9 1140.5 L794.9 1141.6 L799.9 1142.7 L804.9 1143.9 L809.9 1145.2 L814.9 1146.4 L819.8 1147.7 L824.8 1149 L829.8 1150.4 L834.8 1151.7 L839.8 1153.1 L844.8 1154.5 L849.8 1155.8 L854.8 1157.2 L859.8 1158.6 L864.8 1160.1 L869.7 1161.5 L874.7 1162.9 L879.7 1164.4 L884.7 1165.9 L889.7 1167.3 L894.7 1168.8 L899.7 1170.3 L904.7 1171.8 L909.7 1173.3 L914.7 1174.8 L919.6 1176.3 L924.6 1177.8 L929.6 1179.3 L934.6 1180.8 L939.6 1182.2 L944.6 1183.7 L949.6 1185.2 L954.6 1186.7 L959.6 1188.2 L964.6 1189.8 L969.5 1191.4 L974.5 1193 L979.5 1194.6 L984.5 1196.2 L989.5 1197.8 L994.5 1199.3 L999.5 1200.9 L1004.5 1202.4 L1009.5 1203.9 L1014.5 1205.3 L1019.4 1206.8 L1024.4 1208.1 L1029.4 1209.4 L1034.4 1210.7 L1039.4 1211.9 L1044.4 1213 L1049.4 1214 L1054.4 1215 L1059.4 1216 L1064.4 1216.9 L1069.3 1217.8 L1074.3 1218.7 L1079.3 1219.5 L1084.3 1220.3 L1089.3 1221 L1094.3 1221.8 L1099.3 1222.5 L1104.3 1223.2 L1109.3 1223.8 L1114.3 1224.5 L1119.2 1225.1 L1124.2 1225.7 L1129.2 1226.3 L1134.2 1226.9 L1139.2 1227.4 L1144.2 1227.9 L1149.2 1228.5 L1154.2 1229 L1159.2 1229.5 L1164.2 1229.9 L1169.2 1230.4 L1174.1 1230.9 L1179.1 1231.3 L1184.1 1231.7 L1189.1 1232 L1194.1 1232.4 L1199.1 1232.7 L1204.1 1232.9 L1209.1 1233.2 L1214.1 1233.5 L1219 1233.7 L1224 1234 L1229 1234.2 L1234 1234.3 L1239 1234.5 L1244 1234.6 L1249 1234.6 L1254 1234.7 L1259 1234.7 L1264 1234.8 L1268.9 1234.8 L1273.9 1234.9 L1278.9 1234.9 L1283.9 1234.9 L1288.9 1235 L1293.9 1235 L1298.9 1235 L1303.9 1235 L2242 1235" stroke="#D95319"/>
<path d="M246 1323.1 L251 1322.5 L256 1321.8 L261 1321.2 L266 1320.5 L270.9 1319.8 L275.9 1319.1 L280.9 1318.3 L285.9 1317.6 L290.9 1316.8 L295.9 1316.1 L300.9 1315.3 L305.9 1314.5 L310.9 1313.7 L315.9 1312.8 L320.8 1312 L325.8 1311.2 L330.8 1310.3 L335.8 1309.4 L340.8 1308.5 L345.8 1307.7 L350.8 1306.7 L355.8 1305.8 L360.8 1304.9 L365.8 1303.9 L370.8 1302.9 L375.7 1301.9 L380.7 1300.9 L385.7 1299.9 L390.7 1298.9 L395.7 1297.8 L400.7 1296.7 L405.7 1295.6 L410.7 1294.5 L415.7 1293.4 L420.6 1292.3 L425.6 1291.1 L430.6 1289.9 L435.6 1288.8 L440.6 1287.6 L445.6 1286.4 L450.6 1285.2 L455.6 1283.9 L460.6 1282.6 L465.6 1281.3 L470.6 1279.9 L475.5 1278.6 L480.5 1277.2 L485.5 1275.8 L490.5 1274.3 L495.5 1272.9 L500.5 1271.5 L505.5 1270 L510.5 1268.6 L515.5 1267.1 L520.5 1265.7 L525.4 1264.2 L530.4 1262.8 L535.4 1261.3 L540.4 1259.9 L545.4 1258.5 L550.4 1257.1 L555.4 1255.7 L560.4 1254.3 L565.4 1252.9 L570.3 1251.5 L575.3 1250.1 L580.3 1248.7 L585.3 1247.3 L590.3 1245.9 L595.3 1244.5 L600.3 1243.1 L605.3 1241.7 L610.3 1240.3 L615.3 1238.9 L620.2 1237.5 L625.2 1236.2 L630.2 1234.8 L635.2 1233.5 L640.2 1232.2 L645.2 1230.9 L650.2 1229.6 L655.2 1228.3 L660.2 1227 L665.2 1225.7 L670.1 1224.4 L675.1 1223.1 L680.1 1221.8 L685.1 1220.5 L690.1 1219.2 L695.1 1217.9 L700.1 1216.7 L705.1 1215.5 L710.1 1214.3 L715.1 1213.1 L720 1211.9 L725 1210.8 L730 1209.7 L735 1208.6 L740 1207.6 L745 1206.6 L750 1205.6 L755 1204.6 L760 1203.6 L765 1202.6 L770 1201.6 L774.9 1200.6 L779.9 1199.6 L784.9 1198.7 L789.9 1197.7 L794.9 1196.8 L799.9 1195.9 L804.9 1195.1 L809.9 1194.3 L814.9 1193.5 L819.8 1192.8 L824.8 1192.1 L829.8 1191.5 L834.8 1191 L839.8 1190.5 L844.8 1190.1 L849.8 1189.7 L854.8 1189.3 L859.8 1188.9 L864.8 1188.6 L869.7 1188.3 L874.7 1188 L879.7 1187.7 L884.7 1187.6 L889.7 1187.5 L894.7 1187.4 L899.7 1187.5 L904.7 1187.6 L909.7 1187.8 L914.7 1188.2 L919.6 1188.5 L924.6 1189 L929.6 1189.4 L934.6 1189.9 L939.6 1190.4 L944.6 1190.9 L949.6 1191.5 L954.6 1192.3 L959.6 1193.1 L964.6 1194.1 L969.5 1195.1 L974.5 1196.2 L979.5 1197.3 L984.5 1198.4 L989.5 1199.5 L994.5 1200.6 L999.5 1201.8 L1004.5 1203 L1009.5 1204.2 L1014.5 1205.6 L1019.4 1206.9 L1024.4 1208.2 L1029.4 1209.5 L1034.4 1210.7 L1039.4 1211.9 L1044.4 1213 L1049.4 1214 L1054.4 1215 L1059.4 1215.9 L1064.4 1216.9 L1069.3 1217.8 L1074.3 1218.6 L1079.3 1219.5 L1084.3 1220.3 L1089.3 1221 L1094.3 1221.8 L1099.3 1222.5 L1104.3 1223.2 L1109.3 1223.8 L1114.3 1224.5 L1119.2 1225.1 L1124.2 1225.7 L1129.2 1226.3 L1134.2 1226.9 L1139.2 1227.4 L1144.2 1227.9 L1149.2 1228.5 L1154.2 1229 L1159.2 1229.5 L1164.2 1229.9 L1169.2 1230.4 L1174.1 1230.9 L1179.1 1231.3 L1184.1 1231.7 L1189.1 1232 L1194.1 1232.4 L1199.1 1232.7 L1204.1 1232.9 L1209.1 1233.2 L1214.1 1233.5 L1219 1233.7 L1224 1234 L1229 1234.2 L1234 1234.3 L1239 1234.5 L1244 1234.6 L1249 1234.6 L1254 1234.7 L1259 1234.7 L1264 1234.8 L1268.9 1234.8 L1273.9 1234.9 L1278.9 1234.9 L1283.9 1234.9 L1288.9 1235 L1293.9 1235 L1298.9 1235 L1303.9 1235 L2242 1235" stroke="#EDB120"/>
<path d="M246 1146.9 L251 1147.5 L256 1148.2 L261 1148.8 L266 1149.4 L270.9 1150 L275.9 1150.5 L280.9 1151.1 L285.9 1151.6 L290.9 1152.1 L295.9 1152.5 L300.9 1153 L305.9 1153.4 L310.9 1153.8 L315.9 1154.1 L320.8 1154.4 L325.8 1154.7 L330.8 1155 L335.8 1155.2 L340.8 1155.4 L345.8 1155.5 L350.8 1155.6 L355.8 1155.7 L360.8 1155.9 L365.8 1156 L370.8 1156.1 L375.7 1156.1 L380.7 1156.2 L385.7 1156.3 L390.7 1156.3 L395.7 1156.3 L400.7 1156.3 L405.7 1156.2 L410.7 1156.1 L415.7 1155.9 L420.6 1155.8 L425.6 1155.6 L430.6 1155.4 L435.6 1155.2 L440.6 1155 L445.6 1154.8 L450.6 1154.6 L455.6 1154.5 L460.6 1154.3 L465.6 1154.2 L470.6 1154 L475.5 1153.8 L480.5 1153.7 L485.5 1153.5 L490.5 1153.3 L495.5 1153.1 L500.5 1153 L505.5 1152.8 L510.5 1152.6 L515.5 1152.4 L520.5 1152.2 L525.4 1152.1 L530.4 1151.9 L535.4 1151.7 L540.4 1151.5 L545.4 1151.3 L550.4 1151.1 L555.4 1150.9 L560.4 1150.6 L565.4 1150.4 L570.3 1150.2 L575.3 1150 L580.3 1149.7 L585.3 1149.5 L590.3 1149.3 L595.3 1149 L600.3 1148.8 L605.3 1148.6 L610.3 1148.4 L615.3 1148.1 L620.2 1147.8 L625.2 1147.6 L630.2 1147.3 L635.2 1147 L640.2 1146.7 L645.2 1146.4 L650.2 1146.2 L655.2 1145.9 L660.2 1145.7 L665.2 1145.5 L670.1 1145.3 L675.1 1145.2 L680.1 1145.1 L685.1 1145.1 L690.1 1145.1 L695.1 1145.1 L700.1 1145.1 L705.1 1145.2 L710.1 1145.2 L715.1 1145.2 L720 1145.2 L725 1145.3 L730 1145.3 L735 1145.5 L740 1145.7 L745 1145.9 L750 1146.2 L755 1146.5 L760 1146.9 L765 1147.3 L770 1147.7 L774.9 1148.2 L779.9 1148.6 L784.9 1149.1 L789.9 1149.6 L794.9 1150.1 L799.9 1150.7 L804.9 1151.4 L809.9 1152.1 L814.9 1152.9 L819.8 1153.7 L824.8 1154.5 L829.8 1155.4 L834.8 1156.3 L839.8 1157.2 L844.8 1158.1 L849.8 1159.1 L854.8 1160.1 L859.8 1161.1 L864.8 1162.2 L869.7 1163.4 L874.7 1164.6 L879.7 1165.9 L884.7 1167.1 L889.7 1168.4 L894.7 1169.8 L899.7 1171.1 L904.7 1172.5 L909.7 1173.9 L914.7 1175.3 L919.6 1176.7 L924.6 1178.1 L929.6 1179.5 L934.6 1180.9 L939.6 1182.3 L944.6 1183.7 L949.6 1185.1 L954.6 1186.6 L959.6 1188 L964.6 1189.6 L969.5 1191.1 L974.5 1192.7 L979.5 1194.3 L984.5 1195.9 L989.5 1197.5 L994.5 1199.1 L999.5 1200.7 L1004.5 1202.2 L1009.5 1203.7 L1014.5 1205.2 L1019.4 1206.7 L1024.4 1208.1 L1029.4 1209.4 L1034.4 1210.7 L1039.4 1211.9 L1044.4 1213 L1049.4 1214 L1054.4 1215 L1059.4 1216 L1064.4 1216.9 L1069.3 1217.8 L1074.3 1218.7 L1079.3 1219.5 L1084.3 1220.3 L1089.3 1221 L1094.3 1221.8 L1099.3 1222.5 L1104.3 1223.2 L1109.3 1223.8 L1114.3 1224.5 L1119.2 1225.1 L1124.2 1225.7 L1129.2 1226.3 L1134.2 1226.9 L1139.2 1227.4 L1144.2 1227.9 L1149.2 1228.5 L1154.2 1229 L1159.2 1229.5 L1164.2 1229.9 L1169.2 1230.4 L1174.1 1230.9 L1179.1 1231.3 L1184.1 1231.7 L1189.1 1232 L1194.1 1232.4 L1199.1 1232.7 L1204.1 1232.9 L1209.1 1233.2 L1214.1 1233.5 L1219 1233.7 L1224 1234 L1229 1234.2 L1234 1234.3 L1239 1234.5 L1244 1234.6 L1249 1234.6 L1254 1234.7 L1259 1234.7 L1264 1234.8 L1268.9 1234.8 L1273.9 1234.9 L1278.9 1234.9 L1283.9 1234.9 L1288.9 1235 L1293.9 1235 L1298.9 1235 L1303.9 1235 L2242 1235" stroke="#7E2F8E"/>
<path d="M246 1367.2 L251 1366.3 L256 1365.4 L261 1364.4 L266 1363.5 L270.9 1362.5 L275.9 1361.5 L280.9 1360.4 L285.9 1359.4 L290.9 1358.4 L295.9 1357.3 L300.9 1356.2 L305.9 1355.1 L310.9 1353.9 L315.9 1352.8 L320.8 1351.7 L325.8 1350.5 L330.8 1349.3 L335.8 1348.1 L340.8 1346.9 L345.8 1345.6 L350.8 1344.4 L355.8 1343.1 L360.8 1341.8 L365.8 1340.4 L370.8 1339.1 L375.7 1337.7 L380.7 1336.2 L385.7 1334.8 L390.7 1333.3 L395.7 1331.9 L400.7 1330.4 L405.7 1328.9 L410.7 1327.4 L415.7 1325.8 L420.6 1324.3 L425.6 1322.8 L430.6 1321.3 L435.6 1319.7 L440.6 1318.2 L445.6 1316.7 L450.6 1315.2 L455.6 1313.6 L460.6 1312.1 L465.6 1310.6 L470.6 1309 L475.5 1307.5 L480.5 1305.9 L485.5 1304.3 L490.5 1302.7 L495.5 1301.2 L500.5 1299.6 L505.5 1298 L510.5 1296.4 L515.5 1294.7 L520.5 1293.1 L525.4 1291.5 L530.4 1289.9 L535.4 1288.3 L540.4 1286.6 L545.4 1285 L550.4 1283.3 L555.4 1281.7 L560.4 1280 L565.4 1278.3 L570.3 1276.5 L575.3 1274.8 L580.3 1273 L585.3 1271.3 L590.3 1269.5 L595.3 1267.8 L600.3 1266 L605.3 1264.3 L610.3 1262.6 L615.3 1260.8 L620.2 1259.1 L625.2 1257.5 L630.2 1255.8 L635.2 1254.2 L640.2 1252.6 L645.2 1251 L650.2 1249.5 L655.2 1248 L660.2 1246.4 L665.2 1244.9 L670.1 1243.4 L675.1 1241.8 L680.1 1240.3 L685.1 1238.8 L690.1 1237.4 L695.1 1235.9 L700.1 1234.4 L705.1 1233 L710.1 1231.6 L715.1 1230.2 L720 1228.8 L725 1227.5 L730 1226.2 L735 1224.9 L740 1223.6 L745 1222.4 L750 1221.2 L755 1220 L760 1218.9 L765 1217.7 L770 1216.6 L774.9 1215.4 L779.9 1214.3 L784.9 1213.2 L789.9 1212.1 L794.9 1211.1 L799.9 1210 L804.9 1209 L809.9 1208.1 L814.9 1207.1 L819.8 1206.2 L824.8 1205.3 L829.8 1204.5 L834.8 1203.8 L839.8 1203.1 L844.8 1202.4 L849.8 1201.8 L854.8 1201.1 L859.8 1200.5 L864.8 1199.8 L869.7 1199.2 L874.7 1198.5 L879.7 1197.9 L884.7 1197.4 L889.7 1196.8 L894.7 1196.4 L899.7 1195.9 L904.7 1195.5 L909.7 1195.2 L914.7 1195 L919.6 1194.8 L924.6 1194.7 L929.6 1194.7 L934.6 1194.8 L939.6 1194.9 L944.6 1195.1 L949.6 1195.3 L954.6 1195.6 L959.6 1195.9 L964.6 1196.2 L969.5 1196.7 L974.5 1197.4 L979.5 1198.4 L984.5 1199.5 L989.5 1200.7 L994.5 1201.9 L999.5 1203.1 L1004.5 1204.2 L1009.5 1205.2 L1014.5 1206.3 L1019.4 1207.5 L1024.4 1208.6 L1029.4 1209.8 L1034.4 1210.9 L1039.4 1212 L1044.4 1213 L1049.4 1213.9 L1054.4 1214.9 L1059.4 1215.9 L1064.4 1216.8 L1069.3 1217.7 L1074.3 1218.6 L1079.3 1219.4 L1084.3 1220.3 L1089.3 1221 L1094.3 1221.8 L1099.3 1222.5 L1104.3 1223.2 L1109.3 1223.8 L1114.3 1224.5 L1119.2 1225.1 L1124.2 1225.7 L1129.2 1226.3 L1134.2 1226.9 L1139.2 1227.4 L1144.2 1227.9 L1149.2 1228.5 L1154.2 1229 L1159.2 1229.5 L1164.2 1229.9 L1169.2 1230.4 L1174.1 1230.9 L1179.1 1231.3 L1184.1 1231.7 L1189.1 1232 L1194.1 1232.4 L1199.1 1232.7 L1204.1 1232.9 L1209.1 1233.2 L1214.1 1233.5 L1219 1233.7 L1224 1234 L1229 1234.2 L1234 1234.3 L1239 1234.5 L1244 1234.6 L1249 1234.6 L1254 1234.7 L1259 1234.7 L1264 1234.8 L1268.9 1234.8 L1273.9 1234.9 L1278.9 1234.9 L1283.9 1234.9 L1288.9 1235 L1293.9 1235 L1298.9 1235 L1303.9 1235 L2242 1235" stroke="#77AC30"/>
<path d="M246 1279.1 L251 1278.8 L256 1278.5 L261 1278.1 L266 1277.8 L270.9 1277.4 L275.9 1277 L280.9 1276.6 L285.9 1276.1 L290.9 1275.7 L295.9 1275.2 L300.9 1274.7 L305.9 1274.2 L310.9 1273.7 L315.9 1273.1 L320.8 1272.6 L325.8 1272 L330.8 1271.4 L335.8 1270.9 L340.8 1270.3 L345.8 1269.7 L350.8 1269 L355.8 1268.4 L360.8 1267.7 L365.8 1266.9 L370.8 1266.2 L375.7 1265.4 L380.7 1264.6 L385.7 1263.7 L390.7 1262.9 L395.7 1262 L400.7 1261.1 L405.7 1260.2 L410.7 1259.2 L415.7 1258.3 L420.6 1257.4 L425.6 1256.4 L430.6 1255.5 L435.6 1254.5 L440.6 1253.6 L445.6 1252.6 L450.6 1251.7 L455.6 1250.7 L460.6 1249.7 L465.6 1248.7 L470.6 1247.7 L475.5 1246.7 L480.5 1245.6 L485.5 1244.6 L490.5 1243.5 L495.5 1242.4 L500.5 1241.4 L505.5 1240.3 L510.5 1239.2 L515.5 1238.1 L520.5 1237 L525.4 1235.9 L530.4 1234.8 L535.4 1233.8 L540.4 1232.7 L545.4 1231.6 L550.4 1230.5 L555.4 1229.4 L560.4 1228.3 L565.4 1227.2 L570.3 1226.1 L575.3 1225 L580.3 1223.9 L585.3 1222.8 L590.3 1221.7 L595.3 1220.5 L600.3 1219.4 L605.3 1218.3 L610.3 1217.2 L615.3 1216.1 L620.2 1215 L625.2 1213.9 L630.2 1212.8 L635.2 1211.8 L640.2 1210.7 L645.2 1209.7 L650.2 1208.7 L655.2 1207.6 L660.2 1206.6 L665.2 1205.5 L670.1 1204.4 L675.1 1203.4 L680.1 1202.3 L685.1 1201.2 L690.1 1200.2 L695.1 1199.2 L700.1 1198.2 L705.1 1197.2 L710.1 1196.2 L715.1 1195.3 L720 1194.4 L725 1193.5 L730 1192.7 L735 1191.9 L740 1191.1 L745 1190.5 L750 1189.8 L755 1189.1 L760 1188.5 L765 1187.8 L770 1187.1 L774.9 1186.4 L779.9 1185.8 L784.9 1185.1 L789.9 1184.5 L794.9 1183.9 L799.9 1183.3 L804.9 1182.8 L809.9 1182.3 L814.9 1181.8 L819.8 1181.4 L824.8 1181 L829.8 1180.7 L834.8 1180.4 L839.8 1180.2 L844.8 1180 L849.8 1179.9 L854.8 1179.9 L859.8 1180 L864.8 1180.2 L869.7 1180.4 L874.7 1180.7 L879.7 1181.1 L884.7 1181.5 L889.7 1182 L894.7 1182.5 L899.7 1183 L904.7 1183.6 L909.7 1184.3 L914.7 1184.9 L919.6 1185.6 L924.6 1186.3 L929.6 1187 L934.6 1187.7 L939.6 1188.5 L944.6 1189.2 L949.6 1189.9 L954.6 1190.8 L959.6 1191.8 L964.6 1192.8 L969.5 1193.9 L974.5 1195 L979.5 1196.2 L984.5 1197.4 L989.5 1198.6 L994.5 1199.8 L999.5 1200.9 L1004.5 1202.2 L1009.5 1203.5 L1014.5 1204.9 L1019.4 1206.2 L1024.4 1207.6 L1029.4 1208.9 L1034.4 1210.2 L1039.4 1211.4 L1044.4 1212.5 L1049.4 1213.6 L1054.4 1214.6 L1059.4 1215.6 L1064.4 1216.6 L1069.3 1217.6 L1074.3 1218.5 L1079.3 1219.4 L1084.3 1220.2 L1089.3 1221 L1094.3 1221.8 L1099.3 1222.5 L1104.3 1223.2 L1109.3 1223.9 L1114.3 1224.5 L1119.2 1225.1 L1124.2 1225.7 L1129.2 1226.3 L1134.2 1226.9 L1139.2 1227.4 L1144.2 1227.9 L1149.2 1228.5 L1154.2 1229 L1159.2 1229.5 L1164.2 1229.9 L1169.2 1230.4 L1174.1 1230.9 L1179.1 1231.3 L1184.1 1231.7 L1189.1 1232 L1194.1 1232.4 L1199.1 1232.7 L1204.1 1232.9 L1209.1 1233.2 L1214.1 1233.5 L1219 1233.7 L1224 1234 L1229 1234.2 L1234 1234.3 L1239 1234.5 L1244 1234.6 L1249 1234.6 L1254 1234.7 L1259 1234.7 L1264 1234.8 L1268.9 1234.8 L1273.9 1234.9 L1278.9 1234.9 L1283.9 1234.9 L1288.9 1235 L1293.9 1235 L1298.9 1235 L1303.9 1235 L2242 1235" stroke="#4DBEEE"/>
<path d="M246 970.6 L251 973.3 L256 976 L261 978.6 L266 981.2 L270.9 983.8 L275.9 986.3 L280.9 988.8 L285.9 991.3 L290.9 993.7 L295.9 996.1 L300.9 998.5 L305.9 1000.9 L310.9 1003.2 L315.9 1005.4 L320.8 1007.7 L325.8 1009.8 L330.8 1012 L335.8 1014.1 L340.8 1016.2 L345.8 1018.2 L350.8 1020.2 L355.8 1022.2 L360.8 1024.1 L365.8 1026 L370.8 1027.9 L375.7 1029.8 L380.7 1031.6 L385.7 1033.4 L390.7 1035.2 L395.7 1037 L400.7 1038.7 L405.7 1040.4 L410.7 1042.1 L415.7 1043.7 L420.6 1045.3 L425.6 1046.9 L430.6 1048.5 L435.6 1050 L440.6 1051.5 L445.6 1053 L450.6 1054.5 L455.6 1055.9 L460.6 1057.3 L465.6 1058.7 L470.6 1060 L475.5 1061.3 L480.5 1062.6 L485.5 1063.9 L490.5 1065.2 L495.5 1066.4 L500.5 1067.6 L505.5 1068.9 L510.5 1070.1 L515.5 1071.3 L520.5 1072.5 L525.4 1073.7 L530.4 1074.9 L535.4 1076 L540.4 1077.2 L545.4 1078.4 L550.4 1079.6 L555.4 1080.7 L560.4 1081.9 L565.4 1083 L570.3 1084.1 L575.3 1085.2 L580.3 1086.3 L585.3 1087.4 L590.3 1088.5 L595.3 1089.6 L600.3 1090.7 L605.3 1091.9 L610.3 1093 L615.3 1094.2 L620.2 1095.3 L625.2 1096.4 L630.2 1097.5 L635.2 1098.6 L640.2 1099.8 L645.2 1100.9 L650.2 1102 L655.2 1103.1 L660.2 1104.3 L665.2 1105.4 L670.1 1106.5 L675.1 1107.7 L680.1 1108.8 L685.1 1110 L690.1 1111.2 L695.1 1112.4 L700.1 1113.6 L705.1 1114.8 L710.1 1116 L715.1 1117.3 L720 1118.5 L725 1119.8 L730 1121.1 L735 1122.5 L740 1123.9 L745 1125.3 L750 1126.7 L755 1128.2 L760 1129.7 L765 1131.1 L770 1132.6 L774.9 1134.1 L779.9 1135.6 L784.9 1137 L789.9 1138.4 L794.9 1139.8 L799.9 1141.2 L804.9 1142.5 L809.9 1143.8 L814.9 1145.2 L819.8 1146.5 L824.8 1147.8 L829.8 1149.1 L834.8 1150.4 L839.8 1151.8 L844.8 1153.1 L849.8 1154.6 L854.8 1156 L859.8 1157.4 L864.8 1158.9 L869.7 1160.4 L874.7 1161.9 L879.7 1163.4 L884.7 1165 L889.7 1166.5 L894.7 1168 L899.7 1169.6 L904.7 1171.1 L909.7 1172.7 L914.7 1174.2 L919.6 1175.7 L924.6 1177.3 L929.6 1178.8 L934.6 1180.3 L939.6 1181.8 L944.6 1183.3 L949.6 1184.8 L954.6 1186.3 L959.6 1187.8 L964.6 1189.3 L969.5 1190.9 L974.5 1192.4 L979.5 1194 L984.5 1195.5 L989.5 1197 L994.5 1198.6 L999.5 1200.1 L1004.5 1201.5 L1009.5 1203 L1014.5 1204.4 L1019.4 1205.8 L1024.4 1207.2 L1029.4 1208.5 L1034.4 1209.7 L1039.4 1210.9 L1044.4 1212.1 L1049.4 1213.2 L1054.4 1214.3 L1059.4 1215.3 L1064.4 1216.3 L1069.3 1217.3 L1074.3 1218.3 L1079.3 1219.2 L1084.3 1220 L1089.3 1220.8 L1094.3 1221.6 L1099.3 1222.3 L1104.3 1223 L1109.3 1223.7 L1114.3 1224.3 L1119.2 1225 L1124.2 1225.6 L1129.2 1226.1 L1134.2 1226.7 L1139.2 1227.2 L1144.2 1227.8 L1149.2 1228.3 L1154.2 1228.8 L1159.2 1229.3 L1164.2 1229.8 L1169.2 1230.3 L1174.1 1230.8 L1179.1 1231.3 L1184.1 1231.7 L1189.1 1232 L1194.1 1232.4 L1199.1 1232.7 L1204.1 1232.9 L1209.1 1233.2 L1214.1 1233.5 L1219 1233.7 L1224 1234 L1229 1234.2 L1234 1234.3 L1239 1234.5 L1244 1234.6 L1249 1234.6 L1254 1234.7 L1259 1234.7 L1264 1234.8 L1268.9 1234.8 L1273.9 1234.9 L1278.9 1234.9 L1283.9 1234.9 L1288.9 1235 L1293.9 1235 L1298.9 1235 L1303.9 1235 L2242 1235" stroke="#A2142F"/>
</g>
<g fill="none" stroke="#000" stroke-width="3.8" stroke-dasharray="37.5 21.2">
<path d="M246 953 L250 954.3 L254 955.6 L258 956.8 L262 958.1 L266 959.4 L270 960.7 L273.9 961.9 L277.9 963.2 L281.9 964.5 L285.9 965.8 L289.9 967.1 L293.9 968.3 L297.9 969.6 L301.9 970.9 L305.9 972.2 L309.9 973.4 L313.9 974.7 L317.9 976 L321.8 977.3 L325.8 978.6 L329.8 979.8 L333.8 981.1 L337.8 982.4 L341.8 983.7 L345.8 984.9 L349.8 986.2 L353.8 987.5 L357.8 988.8 L361.8 990.1 L365.8 991.3 L369.8 992.6 L373.7 993.9 L377.7 995.2 L381.7 996.4 L385.7 997.7 L389.7 999 L393.7 1000.3 L397.7 1001.6 L401.7 1002.8 L405.7 1004.1 L409.7 1005.4 L413.7 1006.7 L417.7 1007.9 L421.6 1009.2 L425.6 1010.5 L429.6 1011.8 L433.6 1013.1 L437.6 1014.3 L441.6 1015.6 L445.6 1016.9 L449.6 1018.2 L453.6 1019.4 L457.6 1020.7 L461.6 1022 L465.6 1023.3 L469.6 1024.6 L473.5 1025.8 L477.5 1027.1 L481.5 1028.4 L485.5 1029.7 L489.5 1030.9 L493.5 1032.2 L497.5 1033.5 L501.5 1034.8 L505.5 1036.1 L509.5 1037.3 L513.5 1038.6 L517.5 1039.9 L521.4 1041.2 L525.4 1042.4 L529.4 1043.7 L533.4 1045 L537.4 1046.3 L541.4 1047.6 L545.4 1048.8 L549.4 1050.1 L553.4 1051.4 L557.4 1052.7 L561.4 1053.9 L565.4 1055.2 L569.4 1056.5 L573.3 1057.8 L577.3 1059.1 L581.3 1060.3 L585.3 1061.6 L589.3 1062.9 L593.3 1064.2 L597.3 1065.4 L601.3 1066.7 L605.3 1068 L609.3 1069.3 L613.3 1070.6 L617.3 1071.8 L621.2 1073.1 L625.2 1074.4 L629.2 1075.7 L633.2 1076.9 L637.2 1078.2 L641.2 1079.5 L645.2 1080.8 L649.2 1082.1 L653.2 1083.3 L657.2 1084.6 L661.2 1085.9 L665.2 1087.2 L669.2 1088.5 L673.1 1089.7 L677.1 1091 L681.1 1092.3 L685.1 1093.6 L689.1 1094.8 L693.1 1096.1 L697.1 1097.4 L701.1 1098.7 L705.1 1100 L709.1 1101.2 L713.1 1102.5 L717.1 1103.8 L721 1105.1 L725 1106.4 L729 1107.6 L733 1108.9 L737 1110.2 L741 1111.5 L745 1112.8 L749 1114 L753 1115.3 L757 1116.6 L761 1117.9 L765 1119.2 L769 1120.4 L772.9 1121.7 L776.9 1123 L780.9 1124.3 L784.9 1125.5 L788.9 1126.8 L792.9 1128.1 L796.9 1129.4 L800.9 1130.6 L804.9 1131.9 L808.9 1133.2 L812.9 1134.5 L816.9 1135.8 L820.8 1137 L824.8 1138.3 L828.8 1139.6 L832.8 1140.9 L836.8 1142.1 L840.8 1143.4 L844.8 1144.7 L848.8 1145.9 L852.8 1147.2 L856.8 1148.5 L860.8 1149.8 L864.8 1151.1 L868.8 1152.4 L872.7 1153.7 L876.7 1155 L880.7 1156.3 L884.7 1157.6 L888.7 1158.9 L892.7 1160.2 L896.7 1161.5 L900.7 1162.8 L904.7 1164.1 L908.7 1165.3 L912.7 1166.6 L916.7 1167.9 L920.6 1169.1 L924.6 1170.4 L928.6 1171.6 L932.6 1172.8 L936.6 1174 L940.6 1175.2 L944.6 1176.4 L948.6 1177.6 L952.6 1178.7 L956.6 1179.9 L960.6 1181.1 L964.6 1182.3 L968.6 1183.4 L972.5 1184.6 L976.5 1185.7 L980.5 1186.9 L984.5 1188 L988.5 1189.1 L992.5 1190.3 L996.5 1191.4 L1000.5 1192.5 L1004.5 1193.6 L1008.5 1194.6 L1012.5 1195.7 L1016.5 1196.8 L1020.4 1197.8 L1024.4 1198.8 L1028.4 1199.8 L1032.4 1200.8 L1036.4 1201.8 L1040.4 1202.8 L1044.4 1203.7 L1048.4 1204.6 L1052.4 1205.6 L1056.4 1206.5 L1060.4 1207.5 L1064.4 1208.4 L1068.4 1209.3 L1072.3 1210.2 L1076.3 1211.2 L1080.3 1212.1 L1084.3 1213 L1088.3 1213.8 L1092.3 1214.7 L1096.3 1215.6 L1100.3 1216.4 L1104.3 1217.2 L1108.3 1218 L1112.3 1218.8 L1116.3 1219.5 L1120.2 1220.3 L1124.2 1221 L1128.2 1221.6 L1132.2 1222.3 L1136.2 1222.9 L1140.2 1223.4 L1144.2 1224 L1148.2 1224.5 L1152.2 1225 L1156.2 1225.4 L1160.2 1225.9 L1164.2 1226.3 L1168.2 1226.7 L1172.1 1227.1 L1176.1 1227.5 L1180.1 1227.9 L1184.1 1228.3 L1188.1 1228.6 L1192.1 1229 L1196.1 1229.3 L1200.1 1229.6 L1204.1 1230 L1208.1 1230.3 L1212.1 1230.6 L1216.1 1230.9 L1220 1231.2 L1224 1231.5 L1228 1231.8 L1232 1232.1 L1236 1232.4 L1240 1232.8 L1244 1233.3 L1248 1233.7 L2242 1233.7"/>
<path d="M246 1517 L250 1515.7 L254 1514.4 L258 1513.2 L262 1511.9 L266 1510.6 L270 1509.3 L273.9 1508.1 L277.9 1506.8 L281.9 1505.5 L285.9 1504.2 L289.9 1502.9 L293.9 1501.7 L297.9 1500.4 L301.9 1499.1 L305.9 1497.8 L309.9 1496.6 L313.9 1495.3 L317.9 1494 L321.8 1492.7 L325.8 1491.4 L329.8 1490.2 L333.8 1488.9 L337.8 1487.6 L341.8 1486.3 L345.8 1485.1 L349.8 1483.8 L353.8 1482.5 L357.8 1481.2 L361.8 1479.9 L365.8 1478.7 L369.8 1477.4 L373.7 1476.1 L377.7 1474.8 L381.7 1473.6 L385.7 1472.3 L389.7 1471 L393.7 1469.7 L397.7 1468.4 L401.7 1467.2 L405.7 1465.9 L409.7 1464.6 L413.7 1463.3 L417.7 1462.1 L421.6 1460.8 L425.6 1459.5 L429.6 1458.2 L433.6 1456.9 L437.6 1455.7 L441.6 1454.4 L445.6 1453.1 L449.6 1451.8 L453.6 1450.6 L457.6 1449.3 L461.6 1448 L465.6 1446.7 L469.6 1445.4 L473.5 1444.2 L477.5 1442.9 L481.5 1441.6 L485.5 1440.3 L489.5 1439.1 L493.5 1437.8 L497.5 1436.5 L501.5 1435.2 L505.5 1433.9 L509.5 1432.7 L513.5 1431.4 L517.5 1430.1 L521.4 1428.8 L525.4 1427.6 L529.4 1426.3 L533.4 1425 L537.4 1423.7 L541.4 1422.4 L545.4 1421.2 L549.4 1419.9 L553.4 1418.6 L557.4 1417.3 L561.4 1416.1 L565.4 1414.8 L569.4 1413.5 L573.3 1412.2 L577.3 1410.9 L581.3 1409.7 L585.3 1408.4 L589.3 1407.1 L593.3 1405.8 L597.3 1404.6 L601.3 1403.3 L605.3 1402 L609.3 1400.7 L613.3 1399.4 L617.3 1398.2 L621.2 1396.9 L625.2 1395.6 L629.2 1394.3 L633.2 1393.1 L637.2 1391.8 L641.2 1390.5 L645.2 1389.2 L649.2 1387.9 L653.2 1386.7 L657.2 1385.4 L661.2 1384.1 L665.2 1382.8 L669.2 1381.5 L673.1 1380.3 L677.1 1379 L681.1 1377.7 L685.1 1376.4 L689.1 1375.2 L693.1 1373.9 L697.1 1372.6 L701.1 1371.3 L705.1 1370 L709.1 1368.8 L713.1 1367.5 L717.1 1366.2 L721 1364.9 L725 1363.6 L729 1362.4 L733 1361.1 L737 1359.8 L741 1358.5 L745 1357.2 L749 1356 L753 1354.7 L757 1353.4 L761 1352.1 L765 1350.8 L769 1349.6 L772.9 1348.3 L776.9 1347 L780.9 1345.7 L784.9 1344.5 L788.9 1343.2 L792.9 1341.9 L796.9 1340.6 L800.9 1339.4 L804.9 1338.1 L808.9 1336.8 L812.9 1335.5 L816.9 1334.2 L820.8 1333 L824.8 1331.7 L828.8 1330.4 L832.8 1329.1 L836.8 1327.9 L840.8 1326.6 L844.8 1325.3 L848.8 1324.1 L852.8 1322.8 L856.8 1321.5 L860.8 1320.2 L864.8 1318.9 L868.8 1317.6 L872.7 1316.3 L876.7 1315 L880.7 1313.7 L884.7 1312.4 L888.7 1311.1 L892.7 1309.8 L896.7 1308.5 L900.7 1307.2 L904.7 1305.9 L908.7 1304.7 L912.7 1303.4 L916.7 1302.1 L920.6 1300.9 L924.6 1299.6 L928.6 1298.4 L932.6 1297.2 L936.6 1296 L940.6 1294.8 L944.6 1293.6 L948.6 1292.4 L952.6 1291.3 L956.6 1290.1 L960.6 1288.9 L964.6 1287.7 L968.6 1286.6 L972.5 1285.4 L976.5 1284.3 L980.5 1283.1 L984.5 1282 L988.5 1280.9 L992.5 1279.7 L996.5 1278.6 L1000.5 1277.5 L1004.5 1276.4 L1008.5 1275.4 L1012.5 1274.3 L1016.5 1273.2 L1020.4 1272.2 L1024.4 1271.2 L1028.4 1270.2 L1032.4 1269.2 L1036.4 1268.2 L1040.4 1267.2 L1044.4 1266.3 L1048.4 1265.4 L1052.4 1264.4 L1056.4 1263.5 L1060.4 1262.5 L1064.4 1261.6 L1068.4 1260.7 L1072.3 1259.8 L1076.3 1258.8 L1080.3 1257.9 L1084.3 1257 L1088.3 1256.2 L1092.3 1255.3 L1096.3 1254.4 L1100.3 1253.6 L1104.3 1252.8 L1108.3 1252 L1112.3 1251.2 L1116.3 1250.5 L1120.2 1249.7 L1124.2 1249 L1128.2 1248.4 L1132.2 1247.7 L1136.2 1247.1 L1140.2 1246.6 L1144.2 1246 L1148.2 1245.5 L1152.2 1245 L1156.2 1244.6 L1160.2 1244.1 L1164.2 1243.7 L1168.2 1243.3 L1172.1 1242.9 L1176.1 1242.5 L1180.1 1242.1 L1184.1 1241.7 L1188.1 1241.4 L1192.1 1241 L1196.1 1240.7 L1200.1 1240.4 L1204.1 1240 L1208.1 1239.7 L1212.1 1239.4 L1216.1 1239.1 L1220 1238.8 L1224 1238.5 L1228 1238.2 L1232 1237.9 L1236 1237.6 L1240 1237.2 L1244 1236.7 L1248 1236.3 L2242 1236.3"/>
</g>
<text class="ax" x="246" y="1633.6" font-size="87.5" text-anchor="middle">0</text>
<text class="ax" x="645.2" y="1633.6" font-size="87.5" text-anchor="middle">2</text>
<text class="ax" x="1044.4" y="1633.6" font-size="87.5" text-anchor="middle">4</text>
<text class="ax" x="1443.6" y="1633.6" font-size="87.5" text-anchor="middle">6</text>
<text class="ax" x="1842.8" y="1633.6" font-size="87.5" text-anchor="middle">8</text>
<text class="ax" x="2242" y="1633.6" font-size="87.5" text-anchor="middle" textLength="91.9" lengthAdjust="spacingAndGlyphs"><tspan font-family="NanumGothic" font-size="81" style="stroke-width:2px">1</tspan>0</text>
<text class="ax" x="214.7" y="1089.6" font-size="87.5" text-anchor="end">2</text>
<text class="ax" x="214.7" y="1265.9" font-size="87.5" text-anchor="end">0</text>
<text class="ax" x="214.7" y="1442.1" font-size="87.5" text-anchor="end">-2</text>
<text class="ax" x="1243" y="1759.5" font-size="94" text-anchor="middle">t(s)</text>
<text class="ax" transform="translate(96.9 1237.1) rotate(-90)" font-size="95.5" text-anchor="middle">y-dimension</text>
<line x1="722.7" y1="1079" x2="880.5" y2="1039.4" stroke="#000" stroke-width="4.1"/>
<path d="M899.9 1034.5L881.1 1049.8L876.1 1029.9Z" fill="#000"/>
<text class="an" x="925" y="1046.8" font-size="45" textLength="390" lengthAdjust="spacingAndGlyphs">performance bound</text>
<line x1="715.5" y1="1394" x2="872.4" y2="1430.2" stroke="#000" stroke-width="4.1"/>
<path d="M891.9 1434.7L868.1 1439.8L872.8 1419.7Z" fill="#000"/>
<text class="an" x="925" y="1450.9" font-size="45" textLength="390" lengthAdjust="spacingAndGlyphs">performance bound</text>
<line x1="1359" y1="1101" x2="1544" y2="1101" stroke="#0072BD" stroke-width="3.8"/>
<text class="lg" x="1562.5" y="1120.7" font-size="49.5" textLength="198.2" lengthAdjust="spacing">follower<tspan dx="1.5" font-family="NanumGothic" font-size="45.8">1</tspan></text>
<line x1="1359" y1="1202.5" x2="1544" y2="1202.5" stroke="#D95319" stroke-width="3.8"/>
<text class="lg" x="1562.5" y="1222.2" font-size="49.5" textLength="198.2" lengthAdjust="spacing">follower2</text>
<line x1="1359" y1="1304" x2="1544" y2="1304" stroke="#EDB120" stroke-width="3.8"/>
<text class="lg" x="1562.5" y="1323.7" font-size="49.5" textLength="198.2" lengthAdjust="spacing">follower3</text>
<line x1="1359" y1="1405.5" x2="1544" y2="1405.5" stroke="#7E2F8E" stroke-width="3.8"/>
<text class="lg" x="1562.5" y="1425.2" font-size="49.5" textLength="198.2" lengthAdjust="spacing">follower4</text>
<line x1="1796.3" y1="1101" x2="1981.3" y2="1101" stroke="#77AC30" stroke-width="3.8"/>
<text class="lg" x="1999.8" y="1120.7" font-size="49.5" textLength="198.2" lengthAdjust="spacing">follower5</text>
<line x1="1796.3" y1="1202.5" x2="1981.3" y2="1202.5" stroke="#4DBEEE" stroke-width="3.8"/>
<text class="lg" x="1999.8" y="1222.2" font-size="49.5" textLength="198.2" lengthAdjust="spacing">follower6</text>
<line x1="1796.3" y1="1304" x2="1981.3" y2="1304" stroke="#A2142F" stroke-width="3.8"/>
<text class="lg" x="1999.8" y="1323.7" font-size="49.5" textLength="198.2" lengthAdjust="spacing">follower7</text>
</g>
<g>
<path d="M241 2071H2225V2631H241ZM241 2631V2609M241 2071V2093M737 2631V2609M737 2071V2093M1233 2631V2609M1233 2071V2093M1729 2631V2609M1729 2071V2093M2225 2631V2609M2225 2071V2093M241 2526H263M2225 2526H2203M241 2351H263M2225 2351H2203M241 2176H263M2225 2176H2203" stroke="#262626" stroke-width="3.7" fill="none"/>
<g fill="none" stroke-width="3.6" stroke-linejoin="round">
<path d="M241 2333.5 L246 2333.9 L251 2334.2 L256 2334.6 L261 2334.9 L266 2335.3 L271 2335.6 L276 2335.9 L281 2336.3 L285.9 2336.6 L290.9 2336.9 L295.9 2337.2 L300.9 2337.5 L305.9 2337.8 L310.9 2338.1 L315.9 2338.3 L320.9 2338.6 L325.9 2338.9 L330.9 2339.1 L335.9 2339.4 L340.9 2339.6 L345.9 2339.9 L350.9 2340.1 L355.9 2340.3 L360.9 2340.6 L365.9 2340.8 L370.9 2341 L375.9 2341.2 L380.8 2341.4 L385.8 2341.6 L390.8 2341.8 L395.8 2342 L400.8 2342.2 L405.8 2342.4 L410.8 2342.6 L415.8 2342.8 L420.8 2342.9 L425.8 2343.1 L430.8 2343.3 L435.8 2343.4 L440.8 2343.6 L445.8 2343.8 L450.8 2343.9 L455.8 2344.1 L460.8 2344.2 L465.8 2344.4 L470.7 2344.5 L475.7 2344.6 L480.7 2344.8 L485.7 2344.9 L490.7 2345 L495.7 2345.2 L500.7 2345.3 L505.7 2345.4 L510.7 2345.5 L515.7 2345.7 L520.7 2345.8 L525.7 2345.9 L530.7 2346 L535.7 2346.1 L540.7 2346.2 L545.7 2346.3 L550.7 2346.4 L555.7 2346.5 L560.6 2346.6 L565.6 2346.7 L570.6 2346.8 L575.6 2346.9 L580.6 2347 L585.6 2347 L590.6 2347.1 L595.6 2347.2 L600.6 2347.3 L605.6 2347.4 L610.6 2347.4 L615.6 2347.5 L620.6 2347.6 L625.6 2347.7 L630.6 2347.7 L635.6 2347.8 L640.6 2347.9 L645.5 2347.9 L650.5 2348 L655.5 2348.1 L660.5 2348.1 L665.5 2348.2 L670.5 2348.3 L675.5 2348.3 L680.5 2348.4 L685.5 2348.4 L690.5 2348.5 L695.5 2348.5 L700.5 2348.6 L705.5 2348.6 L710.5 2348.7 L715.5 2348.7 L720.5 2348.8 L725.5 2348.8 L730.5 2348.9 L735.5 2348.9 L740.4 2349 L745.4 2349 L750.4 2349.1 L755.4 2349.1 L760.4 2349.1 L765.4 2349.2 L770.4 2349.2 L775.4 2349.3 L780.4 2349.3 L785.4 2349.3 L790.4 2349.4 L795.4 2349.4 L800.4 2349.4 L805.4 2349.5 L810.4 2349.5 L815.4 2349.5 L820.4 2349.6 L825.4 2349.6 L830.3 2349.6 L835.3 2349.7 L840.3 2349.7 L845.3 2349.7 L850.3 2349.7 L855.3 2349.8 L860.3 2349.8 L865.3 2349.8 L870.3 2349.8 L875.3 2349.9 L880.3 2349.9 L885.3 2349.9 L890.3 2349.9 L895.3 2350 L900.3 2350 L905.3 2350 L910.3 2350 L915.2 2350 L920.2 2350.1 L925.2 2350.1 L930.2 2350.1 L935.2 2350.1 L940.2 2350.1 L945.2 2350.2 L950.2 2350.2 L955.2 2350.2 L960.2 2350.2 L965.2 2350.2 L970.2 2350.2 L975.2 2350.3 L980.2 2350.3 L985.2 2350.3 L990.2 2350.3 L995.2 2350.3 L1000.2 2350.3 L1005.1 2350.4 L1010.1 2350.4 L1015.1 2350.4 L1020.1 2350.4 L1025.1 2350.4 L1030.1 2350.4 L1035.1 2350.4 L1040.1 2350.4 L1045.1 2350.5 L1050.1 2350.5 L1055.1 2350.5 L1060.1 2350.5 L1065.1 2350.5 L1070.1 2350.5 L1075.1 2350.5 L1080.1 2350.5 L1085.1 2350.5 L1090.1 2350.6 L1095.1 2350.6 L1100 2350.6 L1105 2350.6 L1110 2350.6 L1115 2350.6 L1120 2350.6 L1125 2350.6 L1130 2350.6 L1135 2350.6 L1140 2350.6 L1145 2350.6 L1150 2350.7 L1155 2350.7 L1160 2350.7 L1165 2350.7 L1170 2350.7 L1175 2350.7 L1180 2350.7 L1184.9 2350.7 L1189.9 2350.7 L1194.9 2350.7 L1199.9 2350.7 L1204.9 2350.7 L1209.9 2350.7 L1214.9 2350.7 L1219.9 2350.7 L1224.9 2350.7 L1229.9 2350.8 L1234.9 2350.8 L1239.9 2350.8 L1244.9 2350.8 L1249.9 2350.8 L1254.9 2350.8 L1259.9 2350.8 L1264.9 2350.8 L1269.9 2350.8 L1274.9 2350.8 L1279.8 2350.8 L1284.8 2350.8 L1289.8 2350.8 L1294.8 2350.8 L1299.8 2350.8 L1304.8 2350.8 L1309.8 2350.8 L1314.8 2350.8 L1319.8 2350.8 L1324.8 2350.8 L1329.8 2350.8 L1334.8 2350.8 L1339.8 2350.8 L1344.8 2350.9 L1349.8 2350.9 L1354.8 2350.9 L1359.8 2350.9 L1364.8 2350.9 L1369.7 2350.9 L1374.7 2350.9 L1379.7 2350.9 L1384.7 2350.9 L1389.7 2350.9 L1394.7 2350.9 L1399.7 2350.9 L1404.7 2350.9 L1409.7 2350.9 L1414.7 2350.9 L1419.7 2350.9 L1424.7 2350.9 L1429.7 2350.9 L1434.7 2350.9 L1439.7 2350.9 L1444.7 2350.9 L1449.7 2350.9 L1454.6 2350.9 L1459.6 2350.9 L1464.6 2350.9 L1469.6 2350.9 L1474.6 2350.9 L1479.6 2350.9 L1484.6 2350.9 L1489.6 2350.9 L1494.6 2350.9 L1499.6 2350.9 L1504.6 2350.9 L1509.6 2350.9 L1514.6 2350.9 L1519.6 2350.9 L1524.6 2350.9 L1529.6 2350.9 L1534.6 2350.9 L1539.6 2350.9 L1544.5 2350.9 L1549.5 2350.9 L1554.5 2350.9 L1559.5 2350.9 L1564.5 2350.9 L1569.5 2350.9 L1574.5 2350.9 L1579.5 2350.9 L1584.5 2350.9 L1589.5 2350.9 L1594.5 2350.9 L1599.5 2350.9 L1604.5 2351 L1609.5 2351 L1614.5 2351 L1619.5 2351 L1624.5 2351 L1629.5 2351 L1634.5 2351 L1639.4 2351 L1644.4 2351 L1649.4 2351 L1654.4 2351 L1659.4 2351 L1664.4 2351 L1669.4 2351 L1674.4 2351 L1679.4 2351 L2225 2351" stroke="#0072BD"/>
<path d="M241 2456 L246 2453.8 L251 2451.6 L256 2449.5 L261 2447.4 L266 2445.3 L271 2443.3 L276 2441.3 L281 2439.4 L285.9 2437.5 L290.9 2435.6 L295.9 2433.8 L300.9 2432.1 L305.9 2430.4 L310.9 2428.7 L315.9 2427 L320.9 2425.4 L325.9 2423.8 L330.9 2422.2 L335.9 2420.7 L340.9 2419.2 L345.9 2417.8 L350.9 2416.4 L355.9 2415 L360.9 2413.6 L365.9 2412.3 L370.9 2411 L375.9 2409.7 L380.8 2408.4 L385.8 2407.2 L390.8 2406 L395.8 2404.8 L400.8 2403.7 L405.8 2402.6 L410.8 2401.5 L415.8 2400.4 L420.8 2399.3 L425.8 2398.3 L430.8 2397.3 L435.8 2396.3 L440.8 2395.3 L445.8 2394.4 L450.8 2393.5 L455.8 2392.6 L460.8 2391.7 L465.8 2390.8 L470.7 2390 L475.7 2389.1 L480.7 2388.3 L485.7 2387.5 L490.7 2386.8 L495.7 2386 L500.7 2385.2 L505.7 2384.5 L510.7 2383.8 L515.7 2383.1 L520.7 2382.4 L525.7 2381.7 L530.7 2381.1 L535.7 2380.4 L540.7 2379.8 L545.7 2379.2 L550.7 2378.6 L555.7 2378 L560.6 2377.4 L565.6 2376.9 L570.6 2376.3 L575.6 2375.8 L580.6 2375.3 L585.6 2374.7 L590.6 2374.2 L595.6 2373.7 L600.6 2373.3 L605.6 2372.8 L610.6 2372.3 L615.6 2371.9 L620.6 2371.4 L625.6 2371 L630.6 2370.6 L635.6 2370.1 L640.6 2369.7 L645.5 2369.3 L650.5 2368.9 L655.5 2368.6 L660.5 2368.2 L665.5 2367.8 L670.5 2367.5 L675.5 2367.1 L680.5 2366.8 L685.5 2366.4 L690.5 2366.1 L695.5 2365.8 L700.5 2365.5 L705.5 2365.2 L710.5 2364.9 L715.5 2364.6 L720.5 2364.3 L725.5 2364 L730.5 2363.7 L735.5 2363.4 L740.4 2363.2 L745.4 2362.9 L750.4 2362.7 L755.4 2362.4 L760.4 2362.2 L765.4 2361.9 L770.4 2361.7 L775.4 2361.5 L780.4 2361.2 L785.4 2361 L790.4 2360.8 L795.4 2360.6 L800.4 2360.4 L805.4 2360.2 L810.4 2360 L815.4 2359.8 L820.4 2359.6 L825.4 2359.4 L830.3 2359.3 L835.3 2359.1 L840.3 2358.9 L845.3 2358.7 L850.3 2358.6 L855.3 2358.4 L860.3 2358.3 L865.3 2358.1 L870.3 2358 L875.3 2357.8 L880.3 2357.7 L885.3 2357.5 L890.3 2357.4 L895.3 2357.2 L900.3 2357.1 L905.3 2357 L910.3 2356.9 L915.2 2356.7 L920.2 2356.6 L925.2 2356.5 L930.2 2356.4 L935.2 2356.3 L940.2 2356.1 L945.2 2356 L950.2 2355.9 L955.2 2355.8 L960.2 2355.7 L965.2 2355.6 L970.2 2355.5 L975.2 2355.4 L980.2 2355.3 L985.2 2355.2 L990.2 2355.1 L995.2 2355.1 L1000.2 2355 L1005.1 2354.9 L1010.1 2354.8 L1015.1 2354.7 L1020.1 2354.6 L1025.1 2354.6 L1030.1 2354.5 L1035.1 2354.4 L1040.1 2354.3 L1045.1 2354.3 L1050.1 2354.2 L1055.1 2354.1 L1060.1 2354.1 L1065.1 2354 L1070.1 2353.9 L1075.1 2353.9 L1080.1 2353.8 L1085.1 2353.8 L1090.1 2353.7 L1095.1 2353.6 L1100 2353.6 L1105 2353.5 L1110 2353.5 L1115 2353.4 L1120 2353.4 L1125 2353.3 L1130 2353.3 L1135 2353.2 L1140 2353.2 L1145 2353.1 L1150 2353.1 L1155 2353 L1160 2353 L1165 2352.9 L1170 2352.9 L1175 2352.9 L1180 2352.8 L1184.9 2352.8 L1189.9 2352.8 L1194.9 2352.7 L1199.9 2352.7 L1204.9 2352.6 L1209.9 2352.6 L1214.9 2352.6 L1219.9 2352.5 L1224.9 2352.5 L1229.9 2352.5 L1234.9 2352.4 L1239.9 2352.4 L1244.9 2352.4 L1249.9 2352.4 L1254.9 2352.3 L1259.9 2352.3 L1264.9 2352.3 L1269.9 2352.2 L1274.9 2352.2 L1279.8 2352.2 L1284.8 2352.2 L1289.8 2352.1 L1294.8 2352.1 L1299.8 2352.1 L1304.8 2352.1 L1309.8 2352 L1314.8 2352 L1319.8 2352 L1324.8 2352 L1329.8 2352 L1334.8 2351.9 L1339.8 2351.9 L1344.8 2351.9 L1349.8 2351.9 L1354.8 2351.9 L1359.8 2351.8 L1364.8 2351.8 L1369.7 2351.8 L1374.7 2351.8 L1379.7 2351.8 L1384.7 2351.8 L1389.7 2351.7 L1394.7 2351.7 L1399.7 2351.7 L1404.7 2351.7 L1409.7 2351.7 L1414.7 2351.7 L1419.7 2351.6 L1424.7 2351.6 L1429.7 2351.6 L1434.7 2351.6 L1439.7 2351.6 L1444.7 2351.6 L1449.7 2351.6 L1454.6 2351.6 L1459.6 2351.5 L1464.6 2351.5 L1469.6 2351.5 L1474.6 2351.5 L1479.6 2351.5 L1484.6 2351.5 L1489.6 2351.5 L1494.6 2351.5 L1499.6 2351.5 L1504.6 2351.5 L1509.6 2351.4 L1514.6 2351.4 L1519.6 2351.4 L1524.6 2351.4 L1529.6 2351.4 L1534.6 2351.4 L1539.6 2351.4 L1544.5 2351.4 L1549.5 2351.4 L1554.5 2351.4 L1559.5 2351.4 L1564.5 2351.3 L1569.5 2351.3 L1574.5 2351.3 L1579.5 2351.3 L1584.5 2351.3 L1589.5 2351.3 L1594.5 2351.3 L1599.5 2351.3 L1604.5 2351.3 L1609.5 2351.3 L1614.5 2351.3 L1619.5 2351.3 L1624.5 2351.3 L1629.5 2351.3 L1634.5 2351.2 L1639.4 2351.2 L1644.4 2351.2 L1649.4 2351.2 L1654.4 2351.1 L1659.4 2351.1 L1664.4 2351.1 L1669.4 2351 L1674.4 2351 L1679.4 2351 L2225 2351" stroke="#D95319"/>
<path d="M241 2176 L246 2179.7 L251 2183.3 L256 2186.9 L261 2190.4 L266 2193.8 L271 2197.2 L276 2200.5 L281 2203.7 L285.9 2206.9 L290.9 2209.9 L295.9 2212.9 L300.9 2215.9 L305.9 2218.7 L310.9 2221.6 L315.9 2224.3 L320.9 2227 L325.9 2229.7 L330.9 2232.3 L335.9 2234.8 L340.9 2237.3 L345.9 2239.7 L350.9 2242.1 L355.9 2244.4 L360.9 2246.7 L365.9 2248.9 L370.9 2251.1 L375.9 2253.2 L380.8 2255.3 L385.8 2257.3 L390.8 2259.3 L395.8 2261.3 L400.8 2263.2 L405.8 2265.1 L410.8 2266.9 L415.8 2268.7 L420.8 2270.4 L425.8 2272.2 L430.8 2273.8 L435.8 2275.5 L440.8 2277.1 L445.8 2278.7 L450.8 2280.2 L455.8 2281.7 L460.8 2283.2 L465.8 2284.6 L470.7 2286.1 L475.7 2287.4 L480.7 2288.8 L485.7 2290.1 L490.7 2291.4 L495.7 2292.7 L500.7 2293.9 L505.7 2295.1 L510.7 2296.3 L515.7 2297.5 L520.7 2298.6 L525.7 2299.8 L530.7 2300.9 L535.7 2301.9 L540.7 2303 L545.7 2304 L550.7 2305 L555.7 2306 L560.6 2306.9 L565.6 2307.9 L570.6 2308.8 L575.6 2309.7 L580.6 2310.6 L585.6 2311.4 L590.6 2312.3 L595.6 2313.1 L600.6 2313.9 L605.6 2314.7 L610.6 2315.5 L615.6 2316.2 L620.6 2317 L625.6 2317.7 L630.6 2318.4 L635.6 2319.1 L640.6 2319.8 L645.5 2320.4 L650.5 2321.1 L655.5 2321.7 L660.5 2322.4 L665.5 2323 L670.5 2323.6 L675.5 2324.2 L680.5 2324.7 L685.5 2325.3 L690.5 2325.8 L695.5 2326.4 L700.5 2326.9 L705.5 2327.4 L710.5 2327.9 L715.5 2328.4 L720.5 2328.9 L725.5 2329.4 L730.5 2329.8 L735.5 2330.3 L740.4 2330.7 L745.4 2331.1 L750.4 2331.6 L755.4 2332 L760.4 2332.4 L765.4 2332.8 L770.4 2333.2 L775.4 2333.6 L780.4 2333.9 L785.4 2334.3 L790.4 2334.6 L795.4 2335 L800.4 2335.3 L805.4 2335.7 L810.4 2336 L815.4 2336.3 L820.4 2336.6 L825.4 2336.9 L830.3 2337.2 L835.3 2337.5 L840.3 2337.8 L845.3 2338.1 L850.3 2338.4 L855.3 2338.6 L860.3 2338.9 L865.3 2339.2 L870.3 2339.4 L875.3 2339.7 L880.3 2339.9 L885.3 2340.1 L890.3 2340.4 L895.3 2340.6 L900.3 2340.8 L905.3 2341 L910.3 2341.2 L915.2 2341.5 L920.2 2341.7 L925.2 2341.9 L930.2 2342.1 L935.2 2342.2 L940.2 2342.4 L945.2 2342.6 L950.2 2342.8 L955.2 2343 L960.2 2343.1 L965.2 2343.3 L970.2 2343.5 L975.2 2343.6 L980.2 2343.8 L985.2 2343.9 L990.2 2344.1 L995.2 2344.2 L1000.2 2344.4 L1005.1 2344.5 L1010.1 2344.7 L1015.1 2344.8 L1020.1 2344.9 L1025.1 2345.1 L1030.1 2345.2 L1035.1 2345.3 L1040.1 2345.4 L1045.1 2345.6 L1050.1 2345.7 L1055.1 2345.8 L1060.1 2345.9 L1065.1 2346 L1070.1 2346.1 L1075.1 2346.2 L1080.1 2346.3 L1085.1 2346.4 L1090.1 2346.5 L1095.1 2346.6 L1100 2346.7 L1105 2346.8 L1110 2346.9 L1115 2347 L1120 2347.1 L1125 2347.1 L1130 2347.2 L1135 2347.3 L1140 2347.4 L1145 2347.5 L1150 2347.5 L1155 2347.6 L1160 2347.7 L1165 2347.8 L1170 2347.8 L1175 2347.9 L1180 2348 L1184.9 2348 L1189.9 2348.1 L1194.9 2348.1 L1199.9 2348.2 L1204.9 2348.3 L1209.9 2348.3 L1214.9 2348.4 L1219.9 2348.4 L1224.9 2348.5 L1229.9 2348.5 L1234.9 2348.6 L1239.9 2348.6 L1244.9 2348.7 L1249.9 2348.7 L1254.9 2348.8 L1259.9 2348.8 L1264.9 2348.9 L1269.9 2348.9 L1274.9 2349 L1279.8 2349 L1284.8 2349.1 L1289.8 2349.1 L1294.8 2349.1 L1299.8 2349.2 L1304.8 2349.2 L1309.8 2349.3 L1314.8 2349.3 L1319.8 2349.3 L1324.8 2349.4 L1329.8 2349.4 L1334.8 2349.4 L1339.8 2349.5 L1344.8 2349.5 L1349.8 2349.5 L1354.8 2349.6 L1359.8 2349.6 L1364.8 2349.6 L1369.7 2349.7 L1374.7 2349.7 L1379.7 2349.7 L1384.7 2349.7 L1389.7 2349.8 L1394.7 2349.8 L1399.7 2349.8 L1404.7 2349.8 L1409.7 2349.9 L1414.7 2349.9 L1419.7 2349.9 L1424.7 2349.9 L1429.7 2350 L1434.7 2350 L1439.7 2350 L1444.7 2350 L1449.7 2350 L1454.6 2350.1 L1459.6 2350.1 L1464.6 2350.1 L1469.6 2350.1 L1474.6 2350.1 L1479.6 2350.2 L1484.6 2350.2 L1489.6 2350.2 L1494.6 2350.2 L1499.6 2350.2 L1504.6 2350.2 L1509.6 2350.3 L1514.6 2350.3 L1519.6 2350.3 L1524.6 2350.3 L1529.6 2350.3 L1534.6 2350.3 L1539.6 2350.4 L1544.5 2350.4 L1549.5 2350.4 L1554.5 2350.4 L1559.5 2350.4 L1564.5 2350.4 L1569.5 2350.4 L1574.5 2350.4 L1579.5 2350.5 L1584.5 2350.5 L1589.5 2350.5 L1594.5 2350.5 L1599.5 2350.5 L1604.5 2350.5 L1609.5 2350.5 L1614.5 2350.5 L1619.5 2350.5 L1624.5 2350.5 L1629.5 2350.6 L1634.5 2350.6 L1639.4 2350.6 L1644.4 2350.7 L1649.4 2350.7 L1654.4 2350.8 L1659.4 2350.9 L1664.4 2350.9 L1669.4 2351 L1674.4 2351 L1679.4 2351 L2225 2351" stroke="#EDB120"/>
<path d="M241 2351 L241 2351 L2225 2351" stroke="#7E2F8E"/>
<path d="M241 2526 L246 2522.3 L251 2518.7 L256 2515.1 L261 2511.6 L266 2508.2 L271 2504.8 L276 2501.5 L281 2498.3 L285.9 2495.1 L290.9 2492.1 L295.9 2489.1 L300.9 2486.1 L305.9 2483.3 L310.9 2480.4 L315.9 2477.7 L320.9 2475 L325.9 2472.3 L330.9 2469.7 L335.9 2467.2 L340.9 2464.7 L345.9 2462.3 L350.9 2459.9 L355.9 2457.6 L360.9 2455.3 L365.9 2453.1 L370.9 2450.9 L375.9 2448.8 L380.8 2446.7 L385.8 2444.7 L390.8 2442.7 L395.8 2440.7 L400.8 2438.8 L405.8 2436.9 L410.8 2435.1 L415.8 2433.3 L420.8 2431.6 L425.8 2429.8 L430.8 2428.2 L435.8 2426.5 L440.8 2424.9 L445.8 2423.3 L450.8 2421.8 L455.8 2420.3 L460.8 2418.8 L465.8 2417.4 L470.7 2415.9 L475.7 2414.6 L480.7 2413.2 L485.7 2411.9 L490.7 2410.6 L495.7 2409.3 L500.7 2408.1 L505.7 2406.9 L510.7 2405.7 L515.7 2404.5 L520.7 2403.4 L525.7 2402.2 L530.7 2401.1 L535.7 2400.1 L540.7 2399 L545.7 2398 L550.7 2397 L555.7 2396 L560.6 2395.1 L565.6 2394.1 L570.6 2393.2 L575.6 2392.3 L580.6 2391.4 L585.6 2390.6 L590.6 2389.7 L595.6 2388.9 L600.6 2388.1 L605.6 2387.3 L610.6 2386.5 L615.6 2385.8 L620.6 2385 L625.6 2384.3 L630.6 2383.6 L635.6 2382.9 L640.6 2382.2 L645.5 2381.6 L650.5 2380.9 L655.5 2380.3 L660.5 2379.6 L665.5 2379 L670.5 2378.4 L675.5 2377.8 L680.5 2377.3 L685.5 2376.7 L690.5 2376.2 L695.5 2375.6 L700.5 2375.1 L705.5 2374.6 L710.5 2374.1 L715.5 2373.6 L720.5 2373.1 L725.5 2372.6 L730.5 2372.2 L735.5 2371.7 L740.4 2371.3 L745.4 2370.9 L750.4 2370.4 L755.4 2370 L760.4 2369.6 L765.4 2369.2 L770.4 2368.8 L775.4 2368.4 L780.4 2368.1 L785.4 2367.7 L790.4 2367.4 L795.4 2367 L800.4 2366.7 L805.4 2366.3 L810.4 2366 L815.4 2365.7 L820.4 2365.4 L825.4 2365.1 L830.3 2364.8 L835.3 2364.5 L840.3 2364.2 L845.3 2363.9 L850.3 2363.6 L855.3 2363.4 L860.3 2363.1 L865.3 2362.8 L870.3 2362.6 L875.3 2362.3 L880.3 2362.1 L885.3 2361.9 L890.3 2361.6 L895.3 2361.4 L900.3 2361.2 L905.3 2361 L910.3 2360.8 L915.2 2360.5 L920.2 2360.3 L925.2 2360.1 L930.2 2359.9 L935.2 2359.8 L940.2 2359.6 L945.2 2359.4 L950.2 2359.2 L955.2 2359 L960.2 2358.9 L965.2 2358.7 L970.2 2358.5 L975.2 2358.4 L980.2 2358.2 L985.2 2358.1 L990.2 2357.9 L995.2 2357.8 L1000.2 2357.6 L1005.1 2357.5 L1010.1 2357.3 L1015.1 2357.2 L1020.1 2357.1 L1025.1 2356.9 L1030.1 2356.8 L1035.1 2356.7 L1040.1 2356.6 L1045.1 2356.4 L1050.1 2356.3 L1055.1 2356.2 L1060.1 2356.1 L1065.1 2356 L1070.1 2355.9 L1075.1 2355.8 L1080.1 2355.7 L1085.1 2355.6 L1090.1 2355.5 L1095.1 2355.4 L1100 2355.3 L1105 2355.2 L1110 2355.1 L1115 2355 L1120 2354.9 L1125 2354.9 L1130 2354.8 L1135 2354.7 L1140 2354.6 L1145 2354.5 L1150 2354.5 L1155 2354.4 L1160 2354.3 L1165 2354.2 L1170 2354.2 L1175 2354.1 L1180 2354 L1184.9 2354 L1189.9 2353.9 L1194.9 2353.9 L1199.9 2353.8 L1204.9 2353.7 L1209.9 2353.7 L1214.9 2353.6 L1219.9 2353.6 L1224.9 2353.5 L1229.9 2353.5 L1234.9 2353.4 L1239.9 2353.4 L1244.9 2353.3 L1249.9 2353.3 L1254.9 2353.2 L1259.9 2353.2 L1264.9 2353.1 L1269.9 2353.1 L1274.9 2353 L1279.8 2353 L1284.8 2352.9 L1289.8 2352.9 L1294.8 2352.9 L1299.8 2352.8 L1304.8 2352.8 L1309.8 2352.7 L1314.8 2352.7 L1319.8 2352.7 L1324.8 2352.6 L1329.8 2352.6 L1334.8 2352.6 L1339.8 2352.5 L1344.8 2352.5 L1349.8 2352.5 L1354.8 2352.4 L1359.8 2352.4 L1364.8 2352.4 L1369.7 2352.3 L1374.7 2352.3 L1379.7 2352.3 L1384.7 2352.3 L1389.7 2352.2 L1394.7 2352.2 L1399.7 2352.2 L1404.7 2352.2 L1409.7 2352.1 L1414.7 2352.1 L1419.7 2352.1 L1424.7 2352.1 L1429.7 2352 L1434.7 2352 L1439.7 2352 L1444.7 2352 L1449.7 2352 L1454.6 2351.9 L1459.6 2351.9 L1464.6 2351.9 L1469.6 2351.9 L1474.6 2351.9 L1479.6 2351.8 L1484.6 2351.8 L1489.6 2351.8 L1494.6 2351.8 L1499.6 2351.8 L1504.6 2351.8 L1509.6 2351.7 L1514.6 2351.7 L1519.6 2351.7 L1524.6 2351.7 L1529.6 2351.7 L1534.6 2351.7 L1539.6 2351.6 L1544.5 2351.6 L1549.5 2351.6 L1554.5 2351.6 L1559.5 2351.6 L1564.5 2351.6 L1569.5 2351.6 L1574.5 2351.6 L1579.5 2351.5 L1584.5 2351.5 L1589.5 2351.5 L1594.5 2351.5 L1599.5 2351.5 L1604.5 2351.5 L1609.5 2351.5 L1614.5 2351.5 L1619.5 2351.5 L1624.5 2351.5 L1629.5 2351.4 L1634.5 2351.4 L1639.4 2351.4 L1644.4 2351.3 L1649.4 2351.3 L1654.4 2351.2 L1659.4 2351.1 L1664.4 2351.1 L1669.4 2351 L1674.4 2351 L1679.4 2351 L2225 2351" stroke="#77AC30"/>
<path d="M241 2106 L246 2111.2 L251 2116.3 L256 2121.2 L261 2126.2 L266 2131 L271 2135.7 L276 2140.3 L281 2144.8 L285.9 2149.2 L290.9 2153.5 L295.9 2157.7 L300.9 2161.8 L305.9 2165.8 L310.9 2169.8 L315.9 2173.7 L320.9 2177.5 L325.9 2181.2 L330.9 2184.8 L335.9 2188.3 L340.9 2191.8 L345.9 2195.2 L350.9 2198.5 L355.9 2201.7 L360.9 2204.9 L365.9 2208 L370.9 2211.1 L375.9 2214.1 L380.8 2217 L385.8 2219.9 L390.8 2222.6 L395.8 2225.4 L400.8 2228 L405.8 2230.7 L410.8 2233.2 L415.8 2235.8 L420.8 2238.2 L425.8 2240.6 L430.8 2243 L435.8 2245.3 L440.8 2247.5 L445.8 2249.7 L450.8 2251.9 L455.8 2254 L460.8 2256.1 L465.8 2258.1 L470.7 2260.1 L475.7 2262 L480.7 2263.9 L485.7 2265.8 L490.7 2267.6 L495.7 2269.4 L500.7 2271.1 L505.7 2272.8 L510.7 2274.5 L515.7 2276.1 L520.7 2277.7 L525.7 2279.3 L530.7 2280.8 L535.7 2282.3 L540.7 2283.8 L545.7 2285.2 L550.7 2286.6 L555.7 2288 L560.6 2289.3 L565.6 2290.6 L570.6 2291.9 L575.6 2293.2 L580.6 2294.4 L585.6 2295.6 L590.6 2296.8 L595.6 2297.9 L600.6 2299.1 L605.6 2300.2 L610.6 2301.3 L615.6 2302.3 L620.6 2303.4 L625.6 2304.4 L630.6 2305.4 L635.6 2306.3 L640.6 2307.3 L645.5 2308.2 L650.5 2309.1 L655.5 2310 L660.5 2310.9 L665.5 2311.8 L670.5 2312.6 L675.5 2313.4 L680.5 2314.2 L685.5 2315 L690.5 2315.8 L695.5 2316.5 L700.5 2317.3 L705.5 2318 L710.5 2318.7 L715.5 2319.4 L720.5 2320 L725.5 2320.7 L730.5 2321.4 L735.5 2322 L740.4 2322.6 L745.4 2323.2 L750.4 2323.8 L755.4 2324.4 L760.4 2324.9 L765.4 2325.5 L770.4 2326 L775.4 2326.6 L780.4 2327.1 L785.4 2327.6 L790.4 2328.1 L795.4 2328.6 L800.4 2329.1 L805.4 2329.5 L810.4 2330 L815.4 2330.4 L820.4 2330.9 L825.4 2331.3 L830.3 2331.7 L835.3 2332.1 L840.3 2332.5 L845.3 2332.9 L850.3 2333.3 L855.3 2333.7 L860.3 2334.1 L865.3 2334.4 L870.3 2334.8 L875.3 2335.1 L880.3 2335.5 L885.3 2335.8 L890.3 2336.1 L895.3 2336.4 L900.3 2336.7 L905.3 2337.1 L910.3 2337.3 L915.2 2337.6 L920.2 2337.9 L925.2 2338.2 L930.2 2338.5 L935.2 2338.7 L940.2 2339 L945.2 2339.3 L950.2 2339.5 L955.2 2339.8 L960.2 2340 L965.2 2340.2 L970.2 2340.5 L975.2 2340.7 L980.2 2340.9 L985.2 2341.1 L990.2 2341.3 L995.2 2341.5 L1000.2 2341.7 L1005.1 2341.9 L1010.1 2342.1 L1015.1 2342.3 L1020.1 2342.5 L1025.1 2342.7 L1030.1 2342.9 L1035.1 2343 L1040.1 2343.2 L1045.1 2343.4 L1050.1 2343.5 L1055.1 2343.7 L1060.1 2343.8 L1065.1 2344 L1070.1 2344.2 L1075.1 2344.3 L1080.1 2344.4 L1085.1 2344.6 L1090.1 2344.7 L1095.1 2344.8 L1100 2345 L1105 2345.1 L1110 2345.2 L1115 2345.4 L1120 2345.5 L1125 2345.6 L1130 2345.7 L1135 2345.8 L1140 2345.9 L1145 2346 L1150 2346.1 L1155 2346.3 L1160 2346.4 L1165 2346.5 L1170 2346.5 L1175 2346.6 L1180 2346.7 L1184.9 2346.8 L1189.9 2346.9 L1194.9 2347 L1199.9 2347.1 L1204.9 2347.2 L1209.9 2347.3 L1214.9 2347.3 L1219.9 2347.4 L1224.9 2347.5 L1229.9 2347.6 L1234.9 2347.6 L1239.9 2347.7 L1244.9 2347.8 L1249.9 2347.8 L1254.9 2347.9 L1259.9 2348 L1264.9 2348 L1269.9 2348.1 L1274.9 2348.2 L1279.8 2348.2 L1284.8 2348.3 L1289.8 2348.3 L1294.8 2348.4 L1299.8 2348.5 L1304.8 2348.5 L1309.8 2348.6 L1314.8 2348.6 L1319.8 2348.7 L1324.8 2348.7 L1329.8 2348.8 L1334.8 2348.8 L1339.8 2348.9 L1344.8 2348.9 L1349.8 2349 L1354.8 2349 L1359.8 2349 L1364.8 2349.1 L1369.7 2349.1 L1374.7 2349.2 L1379.7 2349.2 L1384.7 2349.2 L1389.7 2349.3 L1394.7 2349.3 L1399.7 2349.3 L1404.7 2349.4 L1409.7 2349.4 L1414.7 2349.5 L1419.7 2349.5 L1424.7 2349.5 L1429.7 2349.5 L1434.7 2349.6 L1439.7 2349.6 L1444.7 2349.6 L1449.7 2349.7 L1454.6 2349.7 L1459.6 2349.7 L1464.6 2349.8 L1469.6 2349.8 L1474.6 2349.8 L1479.6 2349.8 L1484.6 2349.9 L1489.6 2349.9 L1494.6 2349.9 L1499.6 2349.9 L1504.6 2349.9 L1509.6 2350 L1514.6 2350 L1519.6 2350 L1524.6 2350 L1529.6 2350.1 L1534.6 2350.1 L1539.6 2350.1 L1544.5 2350.1 L1549.5 2350.1 L1554.5 2350.2 L1559.5 2350.2 L1564.5 2350.2 L1569.5 2350.2 L1574.5 2350.2 L1579.5 2350.2 L1584.5 2350.3 L1589.5 2350.3 L1594.5 2350.3 L1599.5 2350.3 L1604.5 2350.3 L1609.5 2350.3 L1614.5 2350.3 L1619.5 2350.3 L1624.5 2350.4 L1629.5 2350.4 L1634.5 2350.4 L1639.4 2350.5 L1644.4 2350.6 L1649.4 2350.6 L1654.4 2350.7 L1659.4 2350.8 L1664.4 2350.9 L1669.4 2350.9 L1674.4 2351 L1679.4 2351 L2225 2351" stroke="#4DBEEE"/>
<path d="M241 2613.5 L246 2608 L251 2602.5 L256 2597.2 L261 2591.9 L266 2586.8 L271 2581.7 L276 2576.8 L281 2571.9 L285.9 2567.2 L290.9 2562.6 L295.9 2558.1 L300.9 2553.7 L305.9 2549.4 L310.9 2545.1 L315.9 2541 L320.9 2536.9 L325.9 2533 L330.9 2529.1 L335.9 2525.3 L340.9 2521.6 L345.9 2518 L350.9 2514.4 L355.9 2510.9 L360.9 2507.5 L365.9 2504.2 L370.9 2500.9 L375.9 2497.7 L380.8 2494.6 L385.8 2491.5 L390.8 2488.5 L395.8 2485.6 L400.8 2482.7 L405.8 2479.9 L410.8 2477.2 L415.8 2474.5 L420.8 2471.8 L425.8 2469.3 L430.8 2466.7 L435.8 2464.3 L440.8 2461.9 L445.8 2459.5 L450.8 2457.2 L455.8 2454.9 L460.8 2452.7 L465.8 2450.5 L470.7 2448.4 L475.7 2446.3 L480.7 2444.3 L485.7 2442.3 L490.7 2440.4 L495.7 2438.5 L500.7 2436.6 L505.7 2434.8 L510.7 2433 L515.7 2431.2 L520.7 2429.5 L525.7 2427.9 L530.7 2426.2 L535.7 2424.6 L540.7 2423.1 L545.7 2421.5 L550.7 2420 L555.7 2418.5 L560.6 2417.1 L565.6 2415.7 L570.6 2414.3 L575.6 2413 L580.6 2411.6 L585.6 2410.3 L590.6 2409.1 L595.6 2407.8 L600.6 2406.6 L605.6 2405.4 L610.6 2404.3 L615.6 2403.1 L620.6 2402 L625.6 2400.9 L630.6 2399.9 L635.6 2398.8 L640.6 2397.8 L645.5 2396.8 L650.5 2395.9 L655.5 2394.9 L660.5 2394 L665.5 2393 L670.5 2392.1 L675.5 2391.3 L680.5 2390.4 L685.5 2389.6 L690.5 2388.7 L695.5 2387.9 L700.5 2387.2 L705.5 2386.4 L710.5 2385.6 L715.5 2384.9 L720.5 2384.2 L725.5 2383.5 L730.5 2382.8 L735.5 2382.1 L740.4 2381.4 L745.4 2380.8 L750.4 2380.1 L755.4 2379.5 L760.4 2378.9 L765.4 2378.3 L770.4 2377.7 L775.4 2377.2 L780.4 2376.6 L785.4 2376.1 L790.4 2375.5 L795.4 2375 L800.4 2374.5 L805.4 2374 L810.4 2373.5 L815.4 2373 L820.4 2372.6 L825.4 2372.1 L830.3 2371.6 L835.3 2371.2 L840.3 2370.8 L845.3 2370.4 L850.3 2369.9 L855.3 2369.5 L860.3 2369.1 L865.3 2368.8 L870.3 2368.4 L875.3 2368 L880.3 2367.6 L885.3 2367.3 L890.3 2366.9 L895.3 2366.6 L900.3 2366.3 L905.3 2365.9 L910.3 2365.6 L915.2 2365.3 L920.2 2365 L925.2 2364.7 L930.2 2364.4 L935.2 2364.1 L940.2 2363.9 L945.2 2363.6 L950.2 2363.3 L955.2 2363 L960.2 2362.8 L965.2 2362.5 L970.2 2362.3 L975.2 2362.1 L980.2 2361.8 L985.2 2361.6 L990.2 2361.4 L995.2 2361.1 L1000.2 2360.9 L1005.1 2360.7 L1010.1 2360.5 L1015.1 2360.3 L1020.1 2360.1 L1025.1 2359.9 L1030.1 2359.7 L1035.1 2359.5 L1040.1 2359.4 L1045.1 2359.2 L1050.1 2359 L1055.1 2358.8 L1060.1 2358.7 L1065.1 2358.5 L1070.1 2358.3 L1075.1 2358.2 L1080.1 2358 L1085.1 2357.9 L1090.1 2357.7 L1095.1 2357.6 L1100 2357.4 L1105 2357.3 L1110 2357.2 L1115 2357 L1120 2356.9 L1125 2356.8 L1130 2356.7 L1135 2356.5 L1140 2356.4 L1145 2356.3 L1150 2356.2 L1155 2356.1 L1160 2356 L1165 2355.9 L1170 2355.8 L1175 2355.7 L1180 2355.6 L1184.9 2355.5 L1189.9 2355.4 L1194.9 2355.3 L1199.9 2355.2 L1204.9 2355.1 L1209.9 2355 L1214.9 2354.9 L1219.9 2354.8 L1224.9 2354.8 L1229.9 2354.7 L1234.9 2354.6 L1239.9 2354.5 L1244.9 2354.5 L1249.9 2354.4 L1254.9 2354.3 L1259.9 2354.2 L1264.9 2354.2 L1269.9 2354.1 L1274.9 2354 L1279.8 2354 L1284.8 2353.9 L1289.8 2353.8 L1294.8 2353.8 L1299.8 2353.7 L1304.8 2353.7 L1309.8 2353.6 L1314.8 2353.6 L1319.8 2353.5 L1324.8 2353.4 L1329.8 2353.4 L1334.8 2353.3 L1339.8 2353.3 L1344.8 2353.2 L1349.8 2353.2 L1354.8 2353.1 L1359.8 2353.1 L1364.8 2353.1 L1369.7 2353 L1374.7 2353 L1379.7 2352.9 L1384.7 2352.9 L1389.7 2352.8 L1394.7 2352.8 L1399.7 2352.8 L1404.7 2352.7 L1409.7 2352.7 L1414.7 2352.7 L1419.7 2352.6 L1424.7 2352.6 L1429.7 2352.6 L1434.7 2352.5 L1439.7 2352.5 L1444.7 2352.5 L1449.7 2352.4 L1454.6 2352.4 L1459.6 2352.4 L1464.6 2352.3 L1469.6 2352.3 L1474.6 2352.3 L1479.6 2352.3 L1484.6 2352.2 L1489.6 2352.2 L1494.6 2352.2 L1499.6 2352.2 L1504.6 2352.1 L1509.6 2352.1 L1514.6 2352.1 L1519.6 2352.1 L1524.6 2352 L1529.6 2352 L1534.6 2352 L1539.6 2352 L1544.5 2351.9 L1549.5 2351.9 L1554.5 2351.9 L1559.5 2351.9 L1564.5 2351.9 L1569.5 2351.9 L1574.5 2351.8 L1579.5 2351.8 L1584.5 2351.8 L1589.5 2351.8 L1594.5 2351.8 L1599.5 2351.8 L1604.5 2351.7 L1609.5 2351.7 L1614.5 2351.7 L1619.5 2351.7 L1624.5 2351.7 L1629.5 2351.7 L1634.5 2351.6 L1639.4 2351.6 L1644.4 2351.5 L1649.4 2351.4 L1654.4 2351.3 L1659.4 2351.2 L1664.4 2351.1 L1669.4 2351.1 L1674.4 2351 L1679.4 2351 L2225 2351" stroke="#A2142F"/>
</g>
<g fill="none" stroke="#000" stroke-width="3.8" stroke-dasharray="37.5 21.2">
<path d="M241 2071 L245 2073.5 L249 2076.1 L253 2078.6 L256.9 2081.2 L260.9 2083.7 L264.9 2086.3 L268.9 2088.8 L272.9 2091.4 L276.9 2093.9 L280.8 2096.5 L284.8 2099 L288.8 2101.6 L292.8 2104.1 L296.8 2106.7 L300.8 2109.2 L304.7 2111.8 L308.7 2114.3 L312.7 2116.9 L316.7 2119.4 L320.7 2122 L324.7 2124.5 L328.6 2127 L332.6 2129.6 L336.6 2132.1 L340.6 2134.7 L344.6 2137.2 L348.6 2139.8 L352.5 2142.3 L356.5 2144.9 L360.5 2147.4 L364.5 2150 L368.5 2152.5 L372.5 2155.1 L376.5 2157.6 L380.4 2160.2 L384.4 2162.7 L388.4 2165.3 L392.4 2167.8 L396.4 2170.4 L400.4 2172.9 L404.3 2175.5 L408.3 2178 L412.3 2180.5 L416.3 2183.1 L420.3 2185.6 L424.3 2188.2 L428.2 2190.7 L432.2 2193.3 L436.2 2195.8 L440.2 2198.4 L444.2 2200.9 L448.2 2203.5 L452.1 2206 L456.1 2208.6 L460.1 2211.1 L464.1 2213.7 L468.1 2216.2 L472.1 2218.8 L476 2221.3 L480 2223.9 L484 2226.4 L488 2229 L492 2231.5 L496 2234.1 L500 2236.6 L503.9 2239.2 L507.9 2241.7 L511.9 2244.3 L515.9 2246.8 L519.9 2249.4 L523.9 2251.9 L527.8 2254.5 L531.8 2257 L535.8 2259.5 L539.8 2262.1 L543.8 2264.6 L547.8 2267.2 L551.7 2269.8 L555.7 2272.4 L559.7 2275 L563.7 2277.6 L567.7 2280.1 L571.7 2282.7 L575.6 2285.2 L579.6 2287.6 L583.6 2290.1 L587.6 2292.5 L591.6 2294.8 L595.6 2297.1 L599.5 2299.5 L603.5 2301.8 L607.5 2304 L611.5 2306.3 L615.5 2308.5 L619.5 2310.7 L623.5 2312.8 L627.4 2314.9 L631.4 2316.9 L635.4 2318.8 L639.4 2320.7 L643.4 2322.5 L647.4 2324.4 L651.3 2326.3 L655.3 2328.1 L659.3 2329.8 L663.3 2331.6 L667.3 2333.2 L671.3 2334.8 L675.2 2336.3 L679.2 2337.6 L683.2 2338.9 L687.2 2340 L691.2 2341 L695.2 2341.9 L699.1 2342.8 L703.1 2343.5 L707.1 2344.3 L711.1 2345 L715.1 2345.7 L719.1 2346.3 L723 2346.9 L727 2347.5 L731 2348.1 L735 2348.8 L739 2349.7 L2225 2349.7"/>
<path d="M241 2631 L245 2628.5 L249 2625.9 L253 2623.4 L256.9 2620.8 L260.9 2618.3 L264.9 2615.7 L268.9 2613.2 L272.9 2610.6 L276.9 2608.1 L280.8 2605.5 L284.8 2603 L288.8 2600.4 L292.8 2597.9 L296.8 2595.3 L300.8 2592.8 L304.7 2590.2 L308.7 2587.7 L312.7 2585.1 L316.7 2582.6 L320.7 2580 L324.7 2577.5 L328.6 2575 L332.6 2572.4 L336.6 2569.9 L340.6 2567.3 L344.6 2564.8 L348.6 2562.2 L352.5 2559.7 L356.5 2557.1 L360.5 2554.6 L364.5 2552 L368.5 2549.5 L372.5 2546.9 L376.5 2544.4 L380.4 2541.8 L384.4 2539.3 L388.4 2536.7 L392.4 2534.2 L396.4 2531.6 L400.4 2529.1 L404.3 2526.5 L408.3 2524 L412.3 2521.5 L416.3 2518.9 L420.3 2516.4 L424.3 2513.8 L428.2 2511.3 L432.2 2508.7 L436.2 2506.2 L440.2 2503.6 L444.2 2501.1 L448.2 2498.5 L452.1 2496 L456.1 2493.4 L460.1 2490.9 L464.1 2488.3 L468.1 2485.8 L472.1 2483.2 L476 2480.7 L480 2478.1 L484 2475.6 L488 2473 L492 2470.5 L496 2467.9 L500 2465.4 L503.9 2462.8 L507.9 2460.3 L511.9 2457.7 L515.9 2455.2 L519.9 2452.6 L523.9 2450.1 L527.8 2447.5 L531.8 2445 L535.8 2442.5 L539.8 2439.9 L543.8 2437.4 L547.8 2434.8 L551.7 2432.2 L555.7 2429.6 L559.7 2427 L563.7 2424.4 L567.7 2421.9 L571.7 2419.3 L575.6 2416.8 L579.6 2414.4 L583.6 2411.9 L587.6 2409.5 L591.6 2407.2 L595.6 2404.9 L599.5 2402.5 L603.5 2400.2 L607.5 2398 L611.5 2395.7 L615.5 2393.5 L619.5 2391.3 L623.5 2389.2 L627.4 2387.1 L631.4 2385.1 L635.4 2383.2 L639.4 2381.3 L643.4 2379.5 L647.4 2377.6 L651.3 2375.7 L655.3 2373.9 L659.3 2372.2 L663.3 2370.4 L667.3 2368.8 L671.3 2367.2 L675.2 2365.7 L679.2 2364.4 L683.2 2363.1 L687.2 2362 L691.2 2361 L695.2 2360.1 L699.1 2359.2 L703.1 2358.5 L707.1 2357.7 L711.1 2357 L715.1 2356.3 L719.1 2355.7 L723 2355.1 L727 2354.5 L731 2353.9 L735 2353.2 L739 2352.3 L2225 2352.3"/>
</g>
<text class="ax" x="241" y="2746" font-size="85.5" text-anchor="middle">0</text>
<text class="ax" x="737" y="2746" font-size="85.5" text-anchor="middle">5</text>
<text class="ax" x="1233" y="2746" font-size="85.5" text-anchor="middle" textLength="89.8" lengthAdjust="spacingAndGlyphs"><tspan font-family="NanumGothic" font-size="79.2" style="stroke-width:2px">1</tspan>0</text>
<text class="ax" x="1729" y="2746" font-size="85.5" text-anchor="middle" textLength="89.8" lengthAdjust="spacingAndGlyphs"><tspan font-family="NanumGothic" font-size="79.2" style="stroke-width:2px">1</tspan>5</text>
<text class="ax" x="2225" y="2746" font-size="85.5" text-anchor="middle" textLength="89.8" lengthAdjust="spacingAndGlyphs">20</text>
<text class="ax" x="211" y="2206.2" font-size="85.5" text-anchor="end">2</text>
<text class="ax" x="211" y="2381.2" font-size="85.5" text-anchor="end">0</text>
<text class="ax" x="211" y="2556.2" font-size="85.5" text-anchor="end">-2</text>
<text class="ax" x="1232" y="2869.5" font-size="94" text-anchor="middle">t(s)</text>
<text class="ax" transform="translate(92.8 2353) rotate(-90)" font-size="94" text-anchor="middle">x-dimension</text>
<line x1="521" y1="2219.3" x2="678.8" y2="2180.3" stroke="#000" stroke-width="4.1"/>
<path d="M698.2 2175.5L679.3 2190.8L674.4 2170.8Z" fill="#000"/>
<text class="an" x="741" y="2187.8" font-size="45" textLength="390" lengthAdjust="spacingAndGlyphs">performance bound</text>
<line x1="495.5" y1="2496.1" x2="652.4" y2="2532.6" stroke="#000" stroke-width="4.1"/>
<path d="M671.9 2537.1L648.1 2542.2L652.8 2522.1Z" fill="#000"/>
<text class="an" x="741" y="2552.7" font-size="45" textLength="390" lengthAdjust="spacingAndGlyphs">performance bound</text>
<line x1="1333" y1="2205.5" x2="1517" y2="2205.5" stroke="#0072BD" stroke-width="3.8"/>
<text class="lg" x="1535" y="2224.6" font-size="49.5" textLength="198.2" lengthAdjust="spacing">follower<tspan dx="1.5" font-family="NanumGothic" font-size="45.8">1</tspan></text>
<line x1="1333" y1="2305" x2="1517" y2="2305" stroke="#D95319" stroke-width="3.8"/>
<text class="lg" x="1535" y="2324.1" font-size="49.5" textLength="198.2" lengthAdjust="spacing">follower2</text>
<line x1="1333" y1="2404.5" x2="1517" y2="2404.5" stroke="#EDB120" stroke-width="3.8"/>
<text class="lg" x="1535" y="2423.6" font-size="49.5" textLength="198.2" lengthAdjust="spacing">follower3</text>
<line x1="1333" y1="2504" x2="1517" y2="2504" stroke="#7E2F8E" stroke-width="3.8"/>
<text class="lg" x="1535" y="2523.1" font-size="49.5" textLength="198.2" lengthAdjust="spacing">follower4</text>
<line x1="1768.4" y1="2205.5" x2="1952.4" y2="2205.5" stroke="#77AC30" stroke-width="3.8"/>
<text class="lg" x="1970.4" y="2224.6" font-size="49.5" textLength="198.2" lengthAdjust="spacing">follower5</text>
<line x1="1768.4" y1="2305" x2="1952.4" y2="2305" stroke="#4DBEEE" stroke-width="3.8"/>
<text class="lg" x="1970.4" y="2324.1" font-size="49.5" textLength="198.2" lengthAdjust="spacing">follower6</text>
<line x1="1768.4" y1="2404.5" x2="1952.4" y2="2404.5" stroke="#A2142F" stroke-width="3.8"/>
<text class="lg" x="1970.4" y="2423.6" font-size="49.5" textLength="198.2" lengthAdjust="spacing">follower7</text>
</g>
<g>
<path d="M241 2983H2225V3539H241ZM241 3539V3517M241 2983V3005M737 3539V3517M737 2983V3005M1233 3539V3517M1233 2983V3005M1729 3539V3517M1729 2983V3005M2225 3539V3517M2225 2983V3005M241 3434.8H263M2225 3434.8H2203M241 3261H263M2225 3261H2203M241 3087.2H263M2225 3087.2H2203" stroke="#262626" stroke-width="3.7" fill="none"/>
<g fill="none" stroke-width="3.6" stroke-linejoin="round">
<path d="M241 3347.9 L246 3346 L251 3344.2 L256 3342.5 L261 3340.7 L266 3339 L271 3337.4 L276 3335.7 L281 3334.1 L285.9 3332.6 L290.9 3331 L295.9 3329.5 L300.9 3328.1 L305.9 3326.7 L310.9 3325.3 L315.9 3323.9 L320.9 3322.5 L325.9 3321.2 L330.9 3319.9 L335.9 3318.7 L340.9 3317.5 L345.9 3316.3 L350.9 3315.1 L355.9 3313.9 L360.9 3312.8 L365.9 3311.7 L370.9 3310.6 L375.9 3309.6 L380.8 3308.5 L385.8 3307.5 L390.8 3306.5 L395.8 3305.5 L400.8 3304.6 L405.8 3303.7 L410.8 3302.8 L415.8 3301.9 L420.8 3301 L425.8 3300.1 L430.8 3299.3 L435.8 3298.5 L440.8 3297.7 L445.8 3296.9 L450.8 3296.1 L455.8 3295.4 L460.8 3294.7 L465.8 3293.9 L470.7 3293.2 L475.7 3292.6 L480.7 3291.9 L485.7 3291.2 L490.7 3290.6 L495.7 3289.9 L500.7 3289.3 L505.7 3288.7 L510.7 3288.1 L515.7 3287.6 L520.7 3287 L525.7 3286.4 L530.7 3285.9 L535.7 3285.4 L540.7 3284.8 L545.7 3284.3 L550.7 3283.8 L555.7 3283.4 L560.6 3282.9 L565.6 3282.4 L570.6 3282 L575.6 3281.5 L580.6 3281.1 L585.6 3280.6 L590.6 3280.2 L595.6 3279.8 L600.6 3279.4 L605.6 3279 L610.6 3278.6 L615.6 3278.3 L620.6 3277.9 L625.6 3277.5 L630.6 3277.2 L635.6 3276.8 L640.6 3276.5 L645.5 3276.2 L650.5 3275.8 L655.5 3275.5 L660.5 3275.2 L665.5 3274.9 L670.5 3274.6 L675.5 3274.3 L680.5 3274 L685.5 3273.8 L690.5 3273.5 L695.5 3273.2 L700.5 3273 L705.5 3272.7 L710.5 3272.5 L715.5 3272.2 L720.5 3272 L725.5 3271.7 L730.5 3271.5 L735.5 3271.3 L740.4 3271.1 L745.4 3270.9 L750.4 3270.6 L755.4 3270.4 L760.4 3270.2 L765.4 3270 L770.4 3269.8 L775.4 3269.7 L780.4 3269.5 L785.4 3269.3 L790.4 3269.1 L795.4 3268.9 L800.4 3268.8 L805.4 3268.6 L810.4 3268.4 L815.4 3268.3 L820.4 3268.1 L825.4 3268 L830.3 3267.8 L835.3 3267.7 L840.3 3267.5 L845.3 3267.4 L850.3 3267.3 L855.3 3267.1 L860.3 3267 L865.3 3266.9 L870.3 3266.8 L875.3 3266.6 L880.3 3266.5 L885.3 3266.4 L890.3 3266.3 L895.3 3266.2 L900.3 3266.1 L905.3 3265.9 L910.3 3265.8 L915.2 3265.7 L920.2 3265.6 L925.2 3265.5 L930.2 3265.4 L935.2 3265.3 L940.2 3265.3 L945.2 3265.2 L950.2 3265.1 L955.2 3265 L960.2 3264.9 L965.2 3264.8 L970.2 3264.7 L975.2 3264.7 L980.2 3264.6 L985.2 3264.5 L990.2 3264.4 L995.2 3264.4 L1000.2 3264.3 L1005.1 3264.2 L1010.1 3264.1 L1015.1 3264.1 L1020.1 3264 L1025.1 3263.9 L1030.1 3263.9 L1035.1 3263.8 L1040.1 3263.8 L1045.1 3263.7 L1050.1 3263.6 L1055.1 3263.6 L1060.1 3263.5 L1065.1 3263.5 L1070.1 3263.4 L1075.1 3263.4 L1080.1 3263.3 L1085.1 3263.3 L1090.1 3263.2 L1095.1 3263.2 L1100 3263.1 L1105 3263.1 L1110 3263 L1115 3263 L1120 3263 L1125 3262.9 L1130 3262.9 L1135 3262.8 L1140 3262.8 L1145 3262.8 L1150 3262.7 L1155 3262.7 L1160 3262.6 L1165 3262.6 L1170 3262.6 L1175 3262.5 L1180 3262.5 L1184.9 3262.5 L1189.9 3262.4 L1194.9 3262.4 L1199.9 3262.4 L1204.9 3262.4 L1209.9 3262.3 L1214.9 3262.3 L1219.9 3262.3 L1224.9 3262.2 L1229.9 3262.2 L1234.9 3262.2 L1239.9 3262.2 L1244.9 3262.1 L1249.9 3262.1 L1254.9 3262.1 L1259.9 3262.1 L1264.9 3262 L1269.9 3262 L1274.9 3262 L1279.8 3262 L1284.8 3262 L1289.8 3261.9 L1294.8 3261.9 L1299.8 3261.9 L1304.8 3261.9 L1309.8 3261.9 L1314.8 3261.8 L1319.8 3261.8 L1324.8 3261.8 L1329.8 3261.8 L1334.8 3261.8 L1339.8 3261.8 L1344.8 3261.7 L1349.8 3261.7 L1354.8 3261.7 L1359.8 3261.7 L1364.8 3261.7 L1369.7 3261.7 L1374.7 3261.7 L1379.7 3261.6 L1384.7 3261.6 L1389.7 3261.6 L1394.7 3261.6 L1399.7 3261.6 L1404.7 3261.6 L1409.7 3261.6 L1414.7 3261.5 L1419.7 3261.5 L1424.7 3261.5 L1429.7 3261.5 L1434.7 3261.5 L1439.7 3261.5 L1444.7 3261.5 L1449.7 3261.5 L1454.6 3261.5 L1459.6 3261.5 L1464.6 3261.4 L1469.6 3261.4 L1474.6 3261.4 L1479.6 3261.4 L1484.6 3261.4 L1489.6 3261.4 L1494.6 3261.4 L1499.6 3261.4 L1504.6 3261.4 L1509.6 3261.4 L1514.6 3261.4 L1519.6 3261.3 L1524.6 3261.3 L1529.6 3261.3 L1534.6 3261.3 L1539.6 3261.3 L1544.5 3261.3 L1549.5 3261.3 L1554.5 3261.3 L1559.5 3261.3 L1564.5 3261.3 L1569.5 3261.3 L1574.5 3261.3 L1579.5 3261.3 L1584.5 3261.3 L1589.5 3261.3 L1594.5 3261.3 L1599.5 3261.3 L1604.5 3261.2 L1609.5 3261.2 L1614.5 3261.2 L1619.5 3261.2 L1624.5 3261.2 L1629.5 3261.2 L1634.5 3261.2 L1639.4 3261.2 L1644.4 3261.2 L1649.4 3261.1 L1654.4 3261.1 L1659.4 3261.1 L1664.4 3261 L1669.4 3261 L1674.4 3261 L1679.4 3261 L2225 3261" stroke="#0072BD"/>
<path d="M241 3087.2 L246 3090.9 L251 3094.5 L256 3098.1 L261 3101.5 L266 3105 L271 3108.3 L276 3111.6 L281 3114.8 L285.9 3117.9 L290.9 3120.9 L295.9 3123.9 L300.9 3126.8 L305.9 3129.7 L310.9 3132.5 L315.9 3135.2 L320.9 3137.9 L325.9 3140.6 L330.9 3143.1 L335.9 3145.6 L340.9 3148.1 L345.9 3150.5 L350.9 3152.8 L355.9 3155.1 L360.9 3157.4 L365.9 3159.6 L370.9 3161.8 L375.9 3163.9 L380.8 3166 L385.8 3168 L390.8 3170 L395.8 3171.9 L400.8 3173.8 L405.8 3175.7 L410.8 3177.5 L415.8 3179.3 L420.8 3181 L425.8 3182.7 L430.8 3184.4 L435.8 3186 L440.8 3187.6 L445.8 3189.2 L450.8 3190.7 L455.8 3192.2 L460.8 3193.7 L465.8 3195.1 L470.7 3196.5 L475.7 3197.9 L480.7 3199.2 L485.7 3200.6 L490.7 3201.8 L495.7 3203.1 L500.7 3204.3 L505.7 3205.5 L510.7 3206.7 L515.7 3207.9 L520.7 3209 L525.7 3210.1 L530.7 3211.2 L535.7 3212.3 L540.7 3213.3 L545.7 3214.3 L550.7 3215.3 L555.7 3216.3 L560.6 3217.2 L565.6 3218.2 L570.6 3219.1 L575.6 3220 L580.6 3220.9 L585.6 3221.7 L590.6 3222.6 L595.6 3223.4 L600.6 3224.2 L605.6 3225 L610.6 3225.7 L615.6 3226.5 L620.6 3227.2 L625.6 3227.9 L630.6 3228.6 L635.6 3229.3 L640.6 3230 L645.5 3230.7 L650.5 3231.3 L655.5 3231.9 L660.5 3232.6 L665.5 3233.2 L670.5 3233.8 L675.5 3234.3 L680.5 3234.9 L685.5 3235.5 L690.5 3236 L695.5 3236.5 L700.5 3237.1 L705.5 3237.6 L710.5 3238.1 L715.5 3238.6 L720.5 3239 L725.5 3239.5 L730.5 3240 L735.5 3240.4 L740.4 3240.9 L745.4 3241.3 L750.4 3241.7 L755.4 3242.1 L760.4 3242.5 L765.4 3242.9 L770.4 3243.3 L775.4 3243.7 L780.4 3244 L785.4 3244.4 L790.4 3244.8 L795.4 3245.1 L800.4 3245.4 L805.4 3245.8 L810.4 3246.1 L815.4 3246.4 L820.4 3246.7 L825.4 3247 L830.3 3247.3 L835.3 3247.6 L840.3 3247.9 L845.3 3248.2 L850.3 3248.5 L855.3 3248.7 L860.3 3249 L865.3 3249.2 L870.3 3249.5 L875.3 3249.7 L880.3 3250 L885.3 3250.2 L890.3 3250.4 L895.3 3250.7 L900.3 3250.9 L905.3 3251.1 L910.3 3251.3 L915.2 3251.5 L920.2 3251.7 L925.2 3251.9 L930.2 3252.1 L935.2 3252.3 L940.2 3252.5 L945.2 3252.7 L950.2 3252.9 L955.2 3253 L960.2 3253.2 L965.2 3253.4 L970.2 3253.5 L975.2 3253.7 L980.2 3253.8 L985.2 3254 L990.2 3254.1 L995.2 3254.3 L1000.2 3254.4 L1005.1 3254.6 L1010.1 3254.7 L1015.1 3254.8 L1020.1 3255 L1025.1 3255.1 L1030.1 3255.2 L1035.1 3255.4 L1040.1 3255.5 L1045.1 3255.6 L1050.1 3255.7 L1055.1 3255.8 L1060.1 3255.9 L1065.1 3256 L1070.1 3256.1 L1075.1 3256.2 L1080.1 3256.3 L1085.1 3256.4 L1090.1 3256.5 L1095.1 3256.6 L1100 3256.7 L1105 3256.8 L1110 3256.9 L1115 3257 L1120 3257.1 L1125 3257.2 L1130 3257.2 L1135 3257.3 L1140 3257.4 L1145 3257.5 L1150 3257.6 L1155 3257.6 L1160 3257.7 L1165 3257.8 L1170 3257.8 L1175 3257.9 L1180 3258 L1184.9 3258 L1189.9 3258.1 L1194.9 3258.2 L1199.9 3258.2 L1204.9 3258.3 L1209.9 3258.3 L1214.9 3258.4 L1219.9 3258.5 L1224.9 3258.5 L1229.9 3258.6 L1234.9 3258.6 L1239.9 3258.7 L1244.9 3258.7 L1249.9 3258.8 L1254.9 3258.8 L1259.9 3258.9 L1264.9 3258.9 L1269.9 3258.9 L1274.9 3259 L1279.8 3259 L1284.8 3259.1 L1289.8 3259.1 L1294.8 3259.2 L1299.8 3259.2 L1304.8 3259.2 L1309.8 3259.3 L1314.8 3259.3 L1319.8 3259.3 L1324.8 3259.4 L1329.8 3259.4 L1334.8 3259.4 L1339.8 3259.5 L1344.8 3259.5 L1349.8 3259.5 L1354.8 3259.6 L1359.8 3259.6 L1364.8 3259.6 L1369.7 3259.7 L1374.7 3259.7 L1379.7 3259.7 L1384.7 3259.8 L1389.7 3259.8 L1394.7 3259.8 L1399.7 3259.8 L1404.7 3259.9 L1409.7 3259.9 L1414.7 3259.9 L1419.7 3259.9 L1424.7 3259.9 L1429.7 3260 L1434.7 3260 L1439.7 3260 L1444.7 3260 L1449.7 3260.1 L1454.6 3260.1 L1459.6 3260.1 L1464.6 3260.1 L1469.6 3260.1 L1474.6 3260.2 L1479.6 3260.2 L1484.6 3260.2 L1489.6 3260.2 L1494.6 3260.2 L1499.6 3260.2 L1504.6 3260.3 L1509.6 3260.3 L1514.6 3260.3 L1519.6 3260.3 L1524.6 3260.3 L1529.6 3260.3 L1534.6 3260.3 L1539.6 3260.4 L1544.5 3260.4 L1549.5 3260.4 L1554.5 3260.4 L1559.5 3260.4 L1564.5 3260.4 L1569.5 3260.4 L1574.5 3260.4 L1579.5 3260.5 L1584.5 3260.5 L1589.5 3260.5 L1594.5 3260.5 L1599.5 3260.5 L1604.5 3260.5 L1609.5 3260.5 L1614.5 3260.5 L1619.5 3260.5 L1624.5 3260.5 L1629.5 3260.6 L1634.5 3260.6 L1639.4 3260.6 L1644.4 3260.7 L1649.4 3260.7 L1654.4 3260.8 L1659.4 3260.9 L1664.4 3260.9 L1669.4 3261 L1674.4 3261 L1679.4 3261 L2225 3261" stroke="#D95319"/>
<path d="M241 3347.9 L246 3346 L251 3344.2 L256 3342.5 L261 3340.7 L266 3339 L271 3337.4 L276 3335.7 L281 3334.1 L285.9 3332.6 L290.9 3331 L295.9 3329.5 L300.9 3328.1 L305.9 3326.7 L310.9 3325.3 L315.9 3323.9 L320.9 3322.5 L325.9 3321.2 L330.9 3319.9 L335.9 3318.7 L340.9 3317.5 L345.9 3316.3 L350.9 3315.1 L355.9 3313.9 L360.9 3312.8 L365.9 3311.7 L370.9 3310.6 L375.9 3309.6 L380.8 3308.5 L385.8 3307.5 L390.8 3306.5 L395.8 3305.5 L400.8 3304.6 L405.8 3303.7 L410.8 3302.8 L415.8 3301.9 L420.8 3301 L425.8 3300.1 L430.8 3299.3 L435.8 3298.5 L440.8 3297.7 L445.8 3296.9 L450.8 3296.1 L455.8 3295.4 L460.8 3294.7 L465.8 3293.9 L470.7 3293.2 L475.7 3292.6 L480.7 3291.9 L485.7 3291.2 L490.7 3290.6 L495.7 3289.9 L500.7 3289.3 L505.7 3288.7 L510.7 3288.1 L515.7 3287.6 L520.7 3287 L525.7 3286.4 L530.7 3285.9 L535.7 3285.4 L540.7 3284.8 L545.7 3284.3 L550.7 3283.8 L555.7 3283.4 L560.6 3282.9 L565.6 3282.4 L570.6 3282 L575.6 3281.5 L580.6 3281.1 L585.6 3280.6 L590.6 3280.2 L595.6 3279.8 L600.6 3279.4 L605.6 3279 L610.6 3278.6 L615.6 3278.3 L620.6 3277.9 L625.6 3277.5 L630.6 3277.2 L635.6 3276.8 L640.6 3276.5 L645.5 3276.2 L650.5 3275.8 L655.5 3275.5 L660.5 3275.2 L665.5 3274.9 L670.5 3274.6 L675.5 3274.3 L680.5 3274 L685.5 3273.8 L690.5 3273.5 L695.5 3273.2 L700.5 3273 L705.5 3272.7 L710.5 3272.5 L715.5 3272.2 L720.5 3272 L725.5 3271.7 L730.5 3271.5 L735.5 3271.3 L740.4 3271.1 L745.4 3270.9 L750.4 3270.6 L755.4 3270.4 L760.4 3270.2 L765.4 3270 L770.4 3269.8 L775.4 3269.7 L780.4 3269.5 L785.4 3269.3 L790.4 3269.1 L795.4 3268.9 L800.4 3268.8 L805.4 3268.6 L810.4 3268.4 L815.4 3268.3 L820.4 3268.1 L825.4 3268 L830.3 3267.8 L835.3 3267.7 L840.3 3267.5 L845.3 3267.4 L850.3 3267.3 L855.3 3267.1 L860.3 3267 L865.3 3266.9 L870.3 3266.8 L875.3 3266.6 L880.3 3266.5 L885.3 3266.4 L890.3 3266.3 L895.3 3266.2 L900.3 3266.1 L905.3 3265.9 L910.3 3265.8 L915.2 3265.7 L920.2 3265.6 L925.2 3265.5 L930.2 3265.4 L935.2 3265.3 L940.2 3265.3 L945.2 3265.2 L950.2 3265.1 L955.2 3265 L960.2 3264.9 L965.2 3264.8 L970.2 3264.7 L975.2 3264.7 L980.2 3264.6 L985.2 3264.5 L990.2 3264.4 L995.2 3264.4 L1000.2 3264.3 L1005.1 3264.2 L1010.1 3264.1 L1015.1 3264.1 L1020.1 3264 L1025.1 3263.9 L1030.1 3263.9 L1035.1 3263.8 L1040.1 3263.8 L1045.1 3263.7 L1050.1 3263.6 L1055.1 3263.6 L1060.1 3263.5 L1065.1 3263.5 L1070.1 3263.4 L1075.1 3263.4 L1080.1 3263.3 L1085.1 3263.3 L1090.1 3263.2 L1095.1 3263.2 L1100 3263.1 L1105 3263.1 L1110 3263 L1115 3263 L1120 3263 L1125 3262.9 L1130 3262.9 L1135 3262.8 L1140 3262.8 L1145 3262.8 L1150 3262.7 L1155 3262.7 L1160 3262.6 L1165 3262.6 L1170 3262.6 L1175 3262.5 L1180 3262.5 L1184.9 3262.5 L1189.9 3262.4 L1194.9 3262.4 L1199.9 3262.4 L1204.9 3262.4 L1209.9 3262.3 L1214.9 3262.3 L1219.9 3262.3 L1224.9 3262.2 L1229.9 3262.2 L1234.9 3262.2 L1239.9 3262.2 L1244.9 3262.1 L1249.9 3262.1 L1254.9 3262.1 L1259.9 3262.1 L1264.9 3262 L1269.9 3262 L1274.9 3262 L1279.8 3262 L1284.8 3262 L1289.8 3261.9 L1294.8 3261.9 L1299.8 3261.9 L1304.8 3261.9 L1309.8 3261.9 L1314.8 3261.8 L1319.8 3261.8 L1324.8 3261.8 L1329.8 3261.8 L1334.8 3261.8 L1339.8 3261.8 L1344.8 3261.7 L1349.8 3261.7 L1354.8 3261.7 L1359.8 3261.7 L1364.8 3261.7 L1369.7 3261.7 L1374.7 3261.7 L1379.7 3261.6 L1384.7 3261.6 L1389.7 3261.6 L1394.7 3261.6 L1399.7 3261.6 L1404.7 3261.6 L1409.7 3261.6 L1414.7 3261.5 L1419.7 3261.5 L1424.7 3261.5 L1429.7 3261.5 L1434.7 3261.5 L1439.7 3261.5 L1444.7 3261.5 L1449.7 3261.5 L1454.6 3261.5 L1459.6 3261.5 L1464.6 3261.4 L1469.6 3261.4 L1474.6 3261.4 L1479.6 3261.4 L1484.6 3261.4 L1489.6 3261.4 L1494.6 3261.4 L1499.6 3261.4 L1504.6 3261.4 L1509.6 3261.4 L1514.6 3261.4 L1519.6 3261.3 L1524.6 3261.3 L1529.6 3261.3 L1534.6 3261.3 L1539.6 3261.3 L1544.5 3261.3 L1549.5 3261.3 L1554.5 3261.3 L1559.5 3261.3 L1564.5 3261.3 L1569.5 3261.3 L1574.5 3261.3 L1579.5 3261.3 L1584.5 3261.3 L1589.5 3261.3 L1594.5 3261.3 L1599.5 3261.3 L1604.5 3261.2 L1609.5 3261.2 L1614.5 3261.2 L1619.5 3261.2 L1624.5 3261.2 L1629.5 3261.2 L1634.5 3261.2 L1639.4 3261.2 L1644.4 3261.2 L1649.4 3261.1 L1654.4 3261.1 L1659.4 3261.1 L1664.4 3261 L1669.4 3261 L1674.4 3261 L1679.4 3261 L2225 3261" stroke="#EDB120"/>
<path d="M241 3174.1 L246 3176 L251 3177.8 L256 3179.5 L261 3181.3 L266 3183 L271 3184.6 L276 3186.3 L281 3187.9 L285.9 3189.4 L290.9 3191 L295.9 3192.5 L300.9 3193.9 L305.9 3195.3 L310.9 3196.7 L315.9 3198.1 L320.9 3199.5 L325.9 3200.8 L330.9 3202.1 L335.9 3203.3 L340.9 3204.5 L345.9 3205.7 L350.9 3206.9 L355.9 3208.1 L360.9 3209.2 L365.9 3210.3 L370.9 3211.4 L375.9 3212.4 L380.8 3213.5 L385.8 3214.5 L390.8 3215.5 L395.8 3216.5 L400.8 3217.4 L405.8 3218.3 L410.8 3219.2 L415.8 3220.1 L420.8 3221 L425.8 3221.9 L430.8 3222.7 L435.8 3223.5 L440.8 3224.3 L445.8 3225.1 L450.8 3225.9 L455.8 3226.6 L460.8 3227.3 L465.8 3228.1 L470.7 3228.8 L475.7 3229.4 L480.7 3230.1 L485.7 3230.8 L490.7 3231.4 L495.7 3232.1 L500.7 3232.7 L505.7 3233.3 L510.7 3233.9 L515.7 3234.4 L520.7 3235 L525.7 3235.6 L530.7 3236.1 L535.7 3236.6 L540.7 3237.2 L545.7 3237.7 L550.7 3238.2 L555.7 3238.6 L560.6 3239.1 L565.6 3239.6 L570.6 3240 L575.6 3240.5 L580.6 3240.9 L585.6 3241.4 L590.6 3241.8 L595.6 3242.2 L600.6 3242.6 L605.6 3243 L610.6 3243.4 L615.6 3243.7 L620.6 3244.1 L625.6 3244.5 L630.6 3244.8 L635.6 3245.2 L640.6 3245.5 L645.5 3245.8 L650.5 3246.2 L655.5 3246.5 L660.5 3246.8 L665.5 3247.1 L670.5 3247.4 L675.5 3247.7 L680.5 3248 L685.5 3248.2 L690.5 3248.5 L695.5 3248.8 L700.5 3249 L705.5 3249.3 L710.5 3249.5 L715.5 3249.8 L720.5 3250 L725.5 3250.3 L730.5 3250.5 L735.5 3250.7 L740.4 3250.9 L745.4 3251.1 L750.4 3251.4 L755.4 3251.6 L760.4 3251.8 L765.4 3252 L770.4 3252.2 L775.4 3252.3 L780.4 3252.5 L785.4 3252.7 L790.4 3252.9 L795.4 3253.1 L800.4 3253.2 L805.4 3253.4 L810.4 3253.6 L815.4 3253.7 L820.4 3253.9 L825.4 3254 L830.3 3254.2 L835.3 3254.3 L840.3 3254.5 L845.3 3254.6 L850.3 3254.7 L855.3 3254.9 L860.3 3255 L865.3 3255.1 L870.3 3255.2 L875.3 3255.4 L880.3 3255.5 L885.3 3255.6 L890.3 3255.7 L895.3 3255.8 L900.3 3255.9 L905.3 3256.1 L910.3 3256.2 L915.2 3256.3 L920.2 3256.4 L925.2 3256.5 L930.2 3256.6 L935.2 3256.7 L940.2 3256.7 L945.2 3256.8 L950.2 3256.9 L955.2 3257 L960.2 3257.1 L965.2 3257.2 L970.2 3257.3 L975.2 3257.3 L980.2 3257.4 L985.2 3257.5 L990.2 3257.6 L995.2 3257.6 L1000.2 3257.7 L1005.1 3257.8 L1010.1 3257.9 L1015.1 3257.9 L1020.1 3258 L1025.1 3258.1 L1030.1 3258.1 L1035.1 3258.2 L1040.1 3258.2 L1045.1 3258.3 L1050.1 3258.4 L1055.1 3258.4 L1060.1 3258.5 L1065.1 3258.5 L1070.1 3258.6 L1075.1 3258.6 L1080.1 3258.7 L1085.1 3258.7 L1090.1 3258.8 L1095.1 3258.8 L1100 3258.9 L1105 3258.9 L1110 3259 L1115 3259 L1120 3259 L1125 3259.1 L1130 3259.1 L1135 3259.2 L1140 3259.2 L1145 3259.2 L1150 3259.3 L1155 3259.3 L1160 3259.4 L1165 3259.4 L1170 3259.4 L1175 3259.5 L1180 3259.5 L1184.9 3259.5 L1189.9 3259.6 L1194.9 3259.6 L1199.9 3259.6 L1204.9 3259.6 L1209.9 3259.7 L1214.9 3259.7 L1219.9 3259.7 L1224.9 3259.8 L1229.9 3259.8 L1234.9 3259.8 L1239.9 3259.8 L1244.9 3259.9 L1249.9 3259.9 L1254.9 3259.9 L1259.9 3259.9 L1264.9 3260 L1269.9 3260 L1274.9 3260 L1279.8 3260 L1284.8 3260 L1289.8 3260.1 L1294.8 3260.1 L1299.8 3260.1 L1304.8 3260.1 L1309.8 3260.1 L1314.8 3260.2 L1319.8 3260.2 L1324.8 3260.2 L1329.8 3260.2 L1334.8 3260.2 L1339.8 3260.2 L1344.8 3260.3 L1349.8 3260.3 L1354.8 3260.3 L1359.8 3260.3 L1364.8 3260.3 L1369.7 3260.3 L1374.7 3260.3 L1379.7 3260.4 L1384.7 3260.4 L1389.7 3260.4 L1394.7 3260.4 L1399.7 3260.4 L1404.7 3260.4 L1409.7 3260.4 L1414.7 3260.5 L1419.7 3260.5 L1424.7 3260.5 L1429.7 3260.5 L1434.7 3260.5 L1439.7 3260.5 L1444.7 3260.5 L1449.7 3260.5 L1454.6 3260.5 L1459.6 3260.5 L1464.6 3260.6 L1469.6 3260.6 L1474.6 3260.6 L1479.6 3260.6 L1484.6 3260.6 L1489.6 3260.6 L1494.6 3260.6 L1499.6 3260.6 L1504.6 3260.6 L1509.6 3260.6 L1514.6 3260.6 L1519.6 3260.7 L1524.6 3260.7 L1529.6 3260.7 L1534.6 3260.7 L1539.6 3260.7 L1544.5 3260.7 L1549.5 3260.7 L1554.5 3260.7 L1559.5 3260.7 L1564.5 3260.7 L1569.5 3260.7 L1574.5 3260.7 L1579.5 3260.7 L1584.5 3260.7 L1589.5 3260.7 L1594.5 3260.7 L1599.5 3260.7 L1604.5 3260.8 L1609.5 3260.8 L1614.5 3260.8 L1619.5 3260.8 L1624.5 3260.8 L1629.5 3260.8 L1634.5 3260.8 L1639.4 3260.8 L1644.4 3260.8 L1649.4 3260.9 L1654.4 3260.9 L1659.4 3260.9 L1664.4 3261 L1669.4 3261 L1674.4 3261 L1679.4 3261 L2225 3261" stroke="#7E2F8E"/>
<path d="M241 3391.3 L246 3388.6 L251 3385.9 L256 3383.2 L261 3380.6 L266 3378 L271 3375.5 L276 3373.1 L281 3370.7 L285.9 3368.3 L290.9 3366.1 L295.9 3363.8 L300.9 3361.6 L305.9 3359.5 L310.9 3357.4 L315.9 3355.3 L320.9 3353.3 L325.9 3351.3 L330.9 3349.4 L335.9 3347.5 L340.9 3345.7 L345.9 3343.9 L350.9 3342.1 L355.9 3340.4 L360.9 3338.7 L365.9 3337 L370.9 3335.4 L375.9 3333.8 L380.8 3332.3 L385.8 3330.8 L390.8 3329.3 L395.8 3327.8 L400.8 3326.4 L405.8 3325 L410.8 3323.6 L415.8 3322.3 L420.8 3321 L425.8 3319.7 L430.8 3318.5 L435.8 3317.2 L440.8 3316 L445.8 3314.9 L450.8 3313.7 L455.8 3312.6 L460.8 3311.5 L465.8 3310.4 L470.7 3309.4 L475.7 3308.3 L480.7 3307.3 L485.7 3306.3 L490.7 3305.4 L495.7 3304.4 L500.7 3303.5 L505.7 3302.6 L510.7 3301.7 L515.7 3300.8 L520.7 3300 L525.7 3299.2 L530.7 3298.3 L535.7 3297.5 L540.7 3296.8 L545.7 3296 L550.7 3295.3 L555.7 3294.5 L560.6 3293.8 L565.6 3293.1 L570.6 3292.4 L575.6 3291.8 L580.6 3291.1 L585.6 3290.5 L590.6 3289.8 L595.6 3289.2 L600.6 3288.6 L605.6 3288 L610.6 3287.5 L615.6 3286.9 L620.6 3286.3 L625.6 3285.8 L630.6 3285.3 L635.6 3284.7 L640.6 3284.2 L645.5 3283.8 L650.5 3283.3 L655.5 3282.8 L660.5 3282.3 L665.5 3281.9 L670.5 3281.4 L675.5 3281 L680.5 3280.6 L685.5 3280.1 L690.5 3279.7 L695.5 3279.3 L700.5 3278.9 L705.5 3278.6 L710.5 3278.2 L715.5 3277.8 L720.5 3277.5 L725.5 3277.1 L730.5 3276.8 L735.5 3276.4 L740.4 3276.1 L745.4 3275.8 L750.4 3275.5 L755.4 3275.2 L760.4 3274.9 L765.4 3274.6 L770.4 3274.3 L775.4 3274 L780.4 3273.7 L785.4 3273.4 L790.4 3273.2 L795.4 3272.9 L800.4 3272.7 L805.4 3272.4 L810.4 3272.2 L815.4 3271.9 L820.4 3271.7 L825.4 3271.5 L830.3 3271.2 L835.3 3271 L840.3 3270.8 L845.3 3270.6 L850.3 3270.4 L855.3 3270.2 L860.3 3270 L865.3 3269.8 L870.3 3269.6 L875.3 3269.4 L880.3 3269.3 L885.3 3269.1 L890.3 3268.9 L895.3 3268.7 L900.3 3268.6 L905.3 3268.4 L910.3 3268.3 L915.2 3268.1 L920.2 3268 L925.2 3267.8 L930.2 3267.7 L935.2 3267.5 L940.2 3267.4 L945.2 3267.2 L950.2 3267.1 L955.2 3267 L960.2 3266.9 L965.2 3266.7 L970.2 3266.6 L975.2 3266.5 L980.2 3266.4 L985.2 3266.3 L990.2 3266.1 L995.2 3266 L1000.2 3265.9 L1005.1 3265.8 L1010.1 3265.7 L1015.1 3265.6 L1020.1 3265.5 L1025.1 3265.4 L1030.1 3265.3 L1035.1 3265.2 L1040.1 3265.1 L1045.1 3265.1 L1050.1 3265 L1055.1 3264.9 L1060.1 3264.8 L1065.1 3264.7 L1070.1 3264.6 L1075.1 3264.6 L1080.1 3264.5 L1085.1 3264.4 L1090.1 3264.3 L1095.1 3264.3 L1100 3264.2 L1105 3264.1 L1110 3264.1 L1115 3264 L1120 3263.9 L1125 3263.9 L1130 3263.8 L1135 3263.8 L1140 3263.7 L1145 3263.6 L1150 3263.6 L1155 3263.5 L1160 3263.5 L1165 3263.4 L1170 3263.4 L1175 3263.3 L1180 3263.3 L1184.9 3263.2 L1189.9 3263.2 L1194.9 3263.1 L1199.9 3263.1 L1204.9 3263 L1209.9 3263 L1214.9 3263 L1219.9 3262.9 L1224.9 3262.9 L1229.9 3262.8 L1234.9 3262.8 L1239.9 3262.8 L1244.9 3262.7 L1249.9 3262.7 L1254.9 3262.6 L1259.9 3262.6 L1264.9 3262.6 L1269.9 3262.5 L1274.9 3262.5 L1279.8 3262.5 L1284.8 3262.4 L1289.8 3262.4 L1294.8 3262.4 L1299.8 3262.4 L1304.8 3262.3 L1309.8 3262.3 L1314.8 3262.3 L1319.8 3262.2 L1324.8 3262.2 L1329.8 3262.2 L1334.8 3262.2 L1339.8 3262.1 L1344.8 3262.1 L1349.8 3262.1 L1354.8 3262.1 L1359.8 3262 L1364.8 3262 L1369.7 3262 L1374.7 3262 L1379.7 3262 L1384.7 3261.9 L1389.7 3261.9 L1394.7 3261.9 L1399.7 3261.9 L1404.7 3261.9 L1409.7 3261.8 L1414.7 3261.8 L1419.7 3261.8 L1424.7 3261.8 L1429.7 3261.8 L1434.7 3261.8 L1439.7 3261.7 L1444.7 3261.7 L1449.7 3261.7 L1454.6 3261.7 L1459.6 3261.7 L1464.6 3261.7 L1469.6 3261.6 L1474.6 3261.6 L1479.6 3261.6 L1484.6 3261.6 L1489.6 3261.6 L1494.6 3261.6 L1499.6 3261.6 L1504.6 3261.6 L1509.6 3261.5 L1514.6 3261.5 L1519.6 3261.5 L1524.6 3261.5 L1529.6 3261.5 L1534.6 3261.5 L1539.6 3261.5 L1544.5 3261.5 L1549.5 3261.5 L1554.5 3261.5 L1559.5 3261.4 L1564.5 3261.4 L1569.5 3261.4 L1574.5 3261.4 L1579.5 3261.4 L1584.5 3261.4 L1589.5 3261.4 L1594.5 3261.4 L1599.5 3261.4 L1604.5 3261.4 L1609.5 3261.4 L1614.5 3261.4 L1619.5 3261.3 L1624.5 3261.3 L1629.5 3261.3 L1634.5 3261.3 L1639.4 3261.3 L1644.4 3261.2 L1649.4 3261.2 L1654.4 3261.1 L1659.4 3261.1 L1664.4 3261.1 L1669.4 3261 L1674.4 3261 L1679.4 3261 L2225 3261" stroke="#77AC30"/>
<path d="M241 3304.4 L246 3303.5 L251 3302.6 L256 3301.7 L261 3300.9 L266 3300 L271 3299.2 L276 3298.4 L281 3297.6 L285.9 3296.8 L290.9 3296 L295.9 3295.3 L300.9 3294.5 L305.9 3293.8 L310.9 3293.1 L315.9 3292.4 L320.9 3291.8 L325.9 3291.1 L330.9 3290.5 L335.9 3289.8 L340.9 3289.2 L345.9 3288.6 L350.9 3288 L355.9 3287.5 L360.9 3286.9 L365.9 3286.3 L370.9 3285.8 L375.9 3285.3 L380.8 3284.8 L385.8 3284.3 L390.8 3283.8 L395.8 3283.3 L400.8 3282.8 L405.8 3282.3 L410.8 3281.9 L415.8 3281.4 L420.8 3281 L425.8 3280.6 L430.8 3280.2 L435.8 3279.7 L440.8 3279.3 L445.8 3279 L450.8 3278.6 L455.8 3278.2 L460.8 3277.8 L465.8 3277.5 L470.7 3277.1 L475.7 3276.8 L480.7 3276.4 L485.7 3276.1 L490.7 3275.8 L495.7 3275.5 L500.7 3275.2 L505.7 3274.9 L510.7 3274.6 L515.7 3274.3 L520.7 3274 L525.7 3273.7 L530.7 3273.4 L535.7 3273.2 L540.7 3272.9 L545.7 3272.7 L550.7 3272.4 L555.7 3272.2 L560.6 3271.9 L565.6 3271.7 L570.6 3271.5 L575.6 3271.3 L580.6 3271 L585.6 3270.8 L590.6 3270.6 L595.6 3270.4 L600.6 3270.2 L605.6 3270 L610.6 3269.8 L615.6 3269.6 L620.6 3269.4 L625.6 3269.3 L630.6 3269.1 L635.6 3268.9 L640.6 3268.7 L645.5 3268.6 L650.5 3268.4 L655.5 3268.3 L660.5 3268.1 L665.5 3268 L670.5 3267.8 L675.5 3267.7 L680.5 3267.5 L685.5 3267.4 L690.5 3267.2 L695.5 3267.1 L700.5 3267 L705.5 3266.9 L710.5 3266.7 L715.5 3266.6 L720.5 3266.5 L725.5 3266.4 L730.5 3266.3 L735.5 3266.1 L740.4 3266 L745.4 3265.9 L750.4 3265.8 L755.4 3265.7 L760.4 3265.6 L765.4 3265.5 L770.4 3265.4 L775.4 3265.3 L780.4 3265.2 L785.4 3265.1 L790.4 3265.1 L795.4 3265 L800.4 3264.9 L805.4 3264.8 L810.4 3264.7 L815.4 3264.6 L820.4 3264.6 L825.4 3264.5 L830.3 3264.4 L835.3 3264.3 L840.3 3264.3 L845.3 3264.2 L850.3 3264.1 L855.3 3264.1 L860.3 3264 L865.3 3263.9 L870.3 3263.9 L875.3 3263.8 L880.3 3263.8 L885.3 3263.7 L890.3 3263.6 L895.3 3263.6 L900.3 3263.5 L905.3 3263.5 L910.3 3263.4 L915.2 3263.4 L920.2 3263.3 L925.2 3263.3 L930.2 3263.2 L935.2 3263.2 L940.2 3263.1 L945.2 3263.1 L950.2 3263 L955.2 3263 L960.2 3263 L965.2 3262.9 L970.2 3262.9 L975.2 3262.8 L980.2 3262.8 L985.2 3262.8 L990.2 3262.7 L995.2 3262.7 L1000.2 3262.6 L1005.1 3262.6 L1010.1 3262.6 L1015.1 3262.5 L1020.1 3262.5 L1025.1 3262.5 L1030.1 3262.4 L1035.1 3262.4 L1040.1 3262.4 L1045.1 3262.4 L1050.1 3262.3 L1055.1 3262.3 L1060.1 3262.3 L1065.1 3262.2 L1070.1 3262.2 L1075.1 3262.2 L1080.1 3262.2 L1085.1 3262.1 L1090.1 3262.1 L1095.1 3262.1 L1100 3262.1 L1105 3262 L1110 3262 L1115 3262 L1120 3262 L1125 3262 L1130 3261.9 L1135 3261.9 L1140 3261.9 L1145 3261.9 L1150 3261.9 L1155 3261.8 L1160 3261.8 L1165 3261.8 L1170 3261.8 L1175 3261.8 L1180 3261.8 L1184.9 3261.7 L1189.9 3261.7 L1194.9 3261.7 L1199.9 3261.7 L1204.9 3261.7 L1209.9 3261.7 L1214.9 3261.7 L1219.9 3261.6 L1224.9 3261.6 L1229.9 3261.6 L1234.9 3261.6 L1239.9 3261.6 L1244.9 3261.6 L1249.9 3261.6 L1254.9 3261.5 L1259.9 3261.5 L1264.9 3261.5 L1269.9 3261.5 L1274.9 3261.5 L1279.8 3261.5 L1284.8 3261.5 L1289.8 3261.5 L1294.8 3261.5 L1299.8 3261.5 L1304.8 3261.4 L1309.8 3261.4 L1314.8 3261.4 L1319.8 3261.4 L1324.8 3261.4 L1329.8 3261.4 L1334.8 3261.4 L1339.8 3261.4 L1344.8 3261.4 L1349.8 3261.4 L1354.8 3261.4 L1359.8 3261.3 L1364.8 3261.3 L1369.7 3261.3 L1374.7 3261.3 L1379.7 3261.3 L1384.7 3261.3 L1389.7 3261.3 L1394.7 3261.3 L1399.7 3261.3 L1404.7 3261.3 L1409.7 3261.3 L1414.7 3261.3 L1419.7 3261.3 L1424.7 3261.3 L1429.7 3261.3 L1434.7 3261.3 L1439.7 3261.2 L1444.7 3261.2 L1449.7 3261.2 L1454.6 3261.2 L1459.6 3261.2 L1464.6 3261.2 L1469.6 3261.2 L1474.6 3261.2 L1479.6 3261.2 L1484.6 3261.2 L1489.6 3261.2 L1494.6 3261.2 L1499.6 3261.2 L1504.6 3261.2 L1509.6 3261.2 L1514.6 3261.2 L1519.6 3261.2 L1524.6 3261.2 L1529.6 3261.2 L1534.6 3261.2 L1539.6 3261.2 L1544.5 3261.2 L1549.5 3261.2 L1554.5 3261.2 L1559.5 3261.1 L1564.5 3261.1 L1569.5 3261.1 L1574.5 3261.1 L1579.5 3261.1 L1584.5 3261.1 L1589.5 3261.1 L1594.5 3261.1 L1599.5 3261.1 L1604.5 3261.1 L1609.5 3261.1 L1614.5 3261.1 L1619.5 3261.1 L1624.5 3261.1 L1629.5 3261.1 L1634.5 3261.1 L1639.4 3261.1 L1644.4 3261.1 L1649.4 3261.1 L1654.4 3261 L1659.4 3261 L1664.4 3261 L1669.4 3261 L1674.4 3261 L1679.4 3261 L2225 3261" stroke="#4DBEEE"/>
<path d="M241 3000.4 L246 3005.9 L251 3011.3 L256 3016.6 L261 3021.8 L266 3026.9 L271 3031.9 L276 3036.8 L281 3041.6 L285.9 3046.3 L290.9 3050.9 L295.9 3055.4 L300.9 3059.7 L305.9 3064 L310.9 3068.2 L315.9 3072.4 L320.9 3076.4 L325.9 3080.3 L330.9 3084.2 L335.9 3087.9 L340.9 3091.6 L345.9 3095.2 L350.9 3098.8 L355.9 3102.2 L360.9 3105.6 L365.9 3108.9 L370.9 3112.2 L375.9 3115.3 L380.8 3118.5 L385.8 3121.5 L390.8 3124.5 L395.8 3127.4 L400.8 3130.2 L405.8 3133 L410.8 3135.7 L415.8 3138.4 L420.8 3141 L425.8 3143.6 L430.8 3146.1 L435.8 3148.5 L440.8 3150.9 L445.8 3153.3 L450.8 3155.6 L455.8 3157.8 L460.8 3160 L465.8 3162.2 L470.7 3164.3 L475.7 3166.3 L480.7 3168.4 L485.7 3170.3 L490.7 3172.3 L495.7 3174.2 L500.7 3176 L505.7 3177.8 L510.7 3179.6 L515.7 3181.3 L520.7 3183 L525.7 3184.7 L530.7 3186.3 L535.7 3187.9 L540.7 3189.5 L545.7 3191 L550.7 3192.5 L555.7 3193.9 L560.6 3195.4 L565.6 3196.8 L570.6 3198.1 L575.6 3199.5 L580.6 3200.8 L585.6 3202.1 L590.6 3203.3 L595.6 3204.6 L600.6 3205.8 L605.6 3206.9 L610.6 3208.1 L615.6 3209.2 L620.6 3210.3 L625.6 3211.4 L630.6 3212.5 L635.6 3213.5 L640.6 3214.5 L645.5 3215.5 L650.5 3216.5 L655.5 3217.4 L660.5 3218.3 L665.5 3219.3 L670.5 3220.2 L675.5 3221 L680.5 3221.9 L685.5 3222.7 L690.5 3223.5 L695.5 3224.3 L700.5 3225.1 L705.5 3225.9 L710.5 3226.6 L715.5 3227.4 L720.5 3228.1 L725.5 3228.8 L730.5 3229.5 L735.5 3230.1 L740.4 3230.8 L745.4 3231.4 L750.4 3232.1 L755.4 3232.7 L760.4 3233.3 L765.4 3233.9 L770.4 3234.5 L775.4 3235 L780.4 3235.6 L785.4 3236.1 L790.4 3236.6 L795.4 3237.2 L800.4 3237.7 L805.4 3238.2 L810.4 3238.7 L815.4 3239.1 L820.4 3239.6 L825.4 3240.1 L830.3 3240.5 L835.3 3240.9 L840.3 3241.4 L845.3 3241.8 L850.3 3242.2 L855.3 3242.6 L860.3 3243 L865.3 3243.4 L870.3 3243.7 L875.3 3244.1 L880.3 3244.5 L885.3 3244.8 L890.3 3245.2 L895.3 3245.5 L900.3 3245.8 L905.3 3246.2 L910.3 3246.5 L915.2 3246.8 L920.2 3247.1 L925.2 3247.4 L930.2 3247.7 L935.2 3248 L940.2 3248.2 L945.2 3248.5 L950.2 3248.8 L955.2 3249 L960.2 3249.3 L965.2 3249.5 L970.2 3249.8 L975.2 3250 L980.2 3250.3 L985.2 3250.5 L990.2 3250.7 L995.2 3250.9 L1000.2 3251.1 L1005.1 3251.4 L1010.1 3251.6 L1015.1 3251.8 L1020.1 3252 L1025.1 3252.2 L1030.1 3252.3 L1035.1 3252.5 L1040.1 3252.7 L1045.1 3252.9 L1050.1 3253.1 L1055.1 3253.2 L1060.1 3253.4 L1065.1 3253.6 L1070.1 3253.7 L1075.1 3253.9 L1080.1 3254 L1085.1 3254.2 L1090.1 3254.3 L1095.1 3254.5 L1100 3254.6 L1105 3254.7 L1110 3254.9 L1115 3255 L1120 3255.1 L1125 3255.3 L1130 3255.4 L1135 3255.5 L1140 3255.6 L1145 3255.7 L1150 3255.8 L1155 3255.9 L1160 3256.1 L1165 3256.2 L1170 3256.3 L1175 3256.4 L1180 3256.5 L1184.9 3256.6 L1189.9 3256.7 L1194.9 3256.7 L1199.9 3256.8 L1204.9 3256.9 L1209.9 3257 L1214.9 3257.1 L1219.9 3257.2 L1224.9 3257.3 L1229.9 3257.3 L1234.9 3257.4 L1239.9 3257.5 L1244.9 3257.6 L1249.9 3257.6 L1254.9 3257.7 L1259.9 3257.8 L1264.9 3257.9 L1269.9 3257.9 L1274.9 3258 L1279.8 3258.1 L1284.8 3258.1 L1289.8 3258.2 L1294.8 3258.2 L1299.8 3258.3 L1304.8 3258.4 L1309.8 3258.4 L1314.8 3258.5 L1319.8 3258.5 L1324.8 3258.6 L1329.8 3258.6 L1334.8 3258.7 L1339.8 3258.7 L1344.8 3258.8 L1349.8 3258.8 L1354.8 3258.9 L1359.8 3258.9 L1364.8 3259 L1369.7 3259 L1374.7 3259 L1379.7 3259.1 L1384.7 3259.1 L1389.7 3259.2 L1394.7 3259.2 L1399.7 3259.2 L1404.7 3259.3 L1409.7 3259.3 L1414.7 3259.4 L1419.7 3259.4 L1424.7 3259.4 L1429.7 3259.5 L1434.7 3259.5 L1439.7 3259.5 L1444.7 3259.6 L1449.7 3259.6 L1454.6 3259.6 L1459.6 3259.6 L1464.6 3259.7 L1469.6 3259.7 L1474.6 3259.7 L1479.6 3259.8 L1484.6 3259.8 L1489.6 3259.8 L1494.6 3259.8 L1499.6 3259.9 L1504.6 3259.9 L1509.6 3259.9 L1514.6 3259.9 L1519.6 3260 L1524.6 3260 L1529.6 3260 L1534.6 3260 L1539.6 3260 L1544.5 3260.1 L1549.5 3260.1 L1554.5 3260.1 L1559.5 3260.1 L1564.5 3260.1 L1569.5 3260.2 L1574.5 3260.2 L1579.5 3260.2 L1584.5 3260.2 L1589.5 3260.2 L1594.5 3260.2 L1599.5 3260.2 L1604.5 3260.3 L1609.5 3260.3 L1614.5 3260.3 L1619.5 3260.3 L1624.5 3260.3 L1629.5 3260.3 L1634.5 3260.4 L1639.4 3260.4 L1644.4 3260.5 L1649.4 3260.6 L1654.4 3260.7 L1659.4 3260.8 L1664.4 3260.9 L1669.4 3260.9 L1674.4 3261 L1679.4 3261 L2225 3261" stroke="#A2142F"/>
</g>
<g fill="none" stroke="#000" stroke-width="3.8" stroke-dasharray="37.5 21.2">
<path d="M241 2983 L245 2985.5 L249 2988.1 L253 2990.6 L256.9 2993.1 L260.9 2995.6 L264.9 2998.2 L268.9 3000.7 L272.9 3003.2 L276.9 3005.8 L280.8 3008.3 L284.8 3010.8 L288.8 3013.4 L292.8 3015.9 L296.8 3018.4 L300.8 3020.9 L304.7 3023.5 L308.7 3026 L312.7 3028.5 L316.7 3031.1 L320.7 3033.6 L324.7 3036.1 L328.6 3038.6 L332.6 3041.2 L336.6 3043.7 L340.6 3046.2 L344.6 3048.8 L348.6 3051.3 L352.5 3053.8 L356.5 3056.4 L360.5 3058.9 L364.5 3061.4 L368.5 3063.9 L372.5 3066.5 L376.5 3069 L380.4 3071.5 L384.4 3074.1 L388.4 3076.6 L392.4 3079.1 L396.4 3081.6 L400.4 3084.2 L404.3 3086.7 L408.3 3089.2 L412.3 3091.8 L416.3 3094.3 L420.3 3096.8 L424.3 3099.4 L428.2 3101.9 L432.2 3104.4 L436.2 3106.9 L440.2 3109.5 L444.2 3112 L448.2 3114.5 L452.1 3117.1 L456.1 3119.6 L460.1 3122.1 L464.1 3124.7 L468.1 3127.2 L472.1 3129.7 L476 3132.3 L480 3134.8 L484 3137.3 L488 3139.9 L492 3142.4 L496 3144.9 L500 3147.4 L503.9 3150 L507.9 3152.5 L511.9 3155 L515.9 3157.6 L519.9 3160.1 L523.9 3162.6 L527.8 3165.1 L531.8 3167.7 L535.8 3170.2 L539.8 3172.7 L543.8 3175.2 L547.8 3177.8 L551.7 3180.4 L555.7 3182.9 L559.7 3185.5 L563.7 3188.1 L567.7 3190.6 L571.7 3193.2 L575.6 3195.6 L579.6 3198.1 L583.6 3200.5 L587.6 3202.9 L591.6 3205.2 L595.6 3207.5 L599.5 3209.8 L603.5 3212.1 L607.5 3214.4 L611.5 3216.6 L615.5 3218.8 L619.5 3221 L623.5 3223.1 L627.4 3225.1 L631.4 3227.1 L635.4 3229 L639.4 3230.9 L643.4 3232.7 L647.4 3234.6 L651.3 3236.4 L655.3 3238.2 L659.3 3240 L663.3 3241.7 L667.3 3243.3 L671.3 3244.9 L675.2 3246.4 L679.2 3247.7 L683.2 3249 L687.2 3250.1 L691.2 3251.1 L695.2 3252 L699.1 3252.8 L703.1 3253.6 L707.1 3254.3 L711.1 3255 L715.1 3255.7 L719.1 3256.4 L723 3256.9 L727 3257.5 L731 3258.1 L735 3258.8 L739 3259.7 L2225 3259.7"/>
<path d="M241 3539 L245 3536.5 L249 3533.9 L253 3531.4 L256.9 3528.9 L260.9 3526.4 L264.9 3523.8 L268.9 3521.3 L272.9 3518.8 L276.9 3516.2 L280.8 3513.7 L284.8 3511.2 L288.8 3508.6 L292.8 3506.1 L296.8 3503.6 L300.8 3501.1 L304.7 3498.5 L308.7 3496 L312.7 3493.5 L316.7 3490.9 L320.7 3488.4 L324.7 3485.9 L328.6 3483.4 L332.6 3480.8 L336.6 3478.3 L340.6 3475.8 L344.6 3473.2 L348.6 3470.7 L352.5 3468.2 L356.5 3465.6 L360.5 3463.1 L364.5 3460.6 L368.5 3458.1 L372.5 3455.5 L376.5 3453 L380.4 3450.5 L384.4 3447.9 L388.4 3445.4 L392.4 3442.9 L396.4 3440.4 L400.4 3437.8 L404.3 3435.3 L408.3 3432.8 L412.3 3430.2 L416.3 3427.7 L420.3 3425.2 L424.3 3422.6 L428.2 3420.1 L432.2 3417.6 L436.2 3415.1 L440.2 3412.5 L444.2 3410 L448.2 3407.5 L452.1 3404.9 L456.1 3402.4 L460.1 3399.9 L464.1 3397.3 L468.1 3394.8 L472.1 3392.3 L476 3389.7 L480 3387.2 L484 3384.7 L488 3382.1 L492 3379.6 L496 3377.1 L500 3374.6 L503.9 3372 L507.9 3369.5 L511.9 3367 L515.9 3364.4 L519.9 3361.9 L523.9 3359.4 L527.8 3356.9 L531.8 3354.3 L535.8 3351.8 L539.8 3349.3 L543.8 3346.8 L547.8 3344.2 L551.7 3341.6 L555.7 3339.1 L559.7 3336.5 L563.7 3333.9 L567.7 3331.4 L571.7 3328.8 L575.6 3326.4 L579.6 3323.9 L583.6 3321.5 L587.6 3319.1 L591.6 3316.8 L595.6 3314.5 L599.5 3312.2 L603.5 3309.9 L607.5 3307.6 L611.5 3305.4 L615.5 3303.2 L619.5 3301 L623.5 3298.9 L627.4 3296.9 L631.4 3294.9 L635.4 3293 L639.4 3291.1 L643.4 3289.3 L647.4 3287.4 L651.3 3285.6 L655.3 3283.8 L659.3 3282 L663.3 3280.3 L667.3 3278.7 L671.3 3277.1 L675.2 3275.6 L679.2 3274.3 L683.2 3273 L687.2 3271.9 L691.2 3270.9 L695.2 3270 L699.1 3269.2 L703.1 3268.4 L707.1 3267.7 L711.1 3267 L715.1 3266.3 L719.1 3265.6 L723 3265.1 L727 3264.5 L731 3263.9 L735 3263.2 L739 3262.3 L2225 3262.3"/>
</g>
<text class="ax" x="241" y="3656" font-size="86.5" text-anchor="middle">0</text>
<text class="ax" x="737" y="3656" font-size="86.5" text-anchor="middle">5</text>
<text class="ax" x="1233" y="3656" font-size="86.5" text-anchor="middle" textLength="90.9" lengthAdjust="spacingAndGlyphs"><tspan font-family="NanumGothic" font-size="80.1" style="stroke-width:2px">1</tspan>0</text>
<text class="ax" x="1729" y="3656" font-size="86.5" text-anchor="middle" textLength="90.9" lengthAdjust="spacingAndGlyphs"><tspan font-family="NanumGothic" font-size="80.1" style="stroke-width:2px">1</tspan>5</text>
<text class="ax" x="2225" y="3656" font-size="86.5" text-anchor="middle" textLength="90.9" lengthAdjust="spacingAndGlyphs">20</text>
<text class="ax" x="211" y="3117.8" font-size="86.5" text-anchor="end">2</text>
<text class="ax" x="211" y="3291.5" font-size="86.5" text-anchor="end">0</text>
<text class="ax" x="211" y="3465.3" font-size="86.5" text-anchor="end">-2</text>
<text class="ax" x="1232" y="3779" font-size="94" text-anchor="middle">t(s)</text>
<text class="ax" transform="translate(92.8 3263.1) rotate(-90)" font-size="94" text-anchor="middle">y-dimension</text>
<line x1="521" y1="3149.6" x2="678.8" y2="3110.7" stroke="#000" stroke-width="4.1"/>
<path d="M698.2 3105.9L679.3 3121.2L674.4 3101.2Z" fill="#000"/>
<text class="an" x="741" y="3101.9" font-size="45" textLength="390" lengthAdjust="spacingAndGlyphs">performance bound</text>
<line x1="495.5" y1="3403.1" x2="652.4" y2="3439.4" stroke="#000" stroke-width="4.1"/>
<path d="M671.9 3443.9L648.1 3449L652.8 3428.9Z" fill="#000"/>
<text class="an" x="741" y="3455.7" font-size="45" textLength="390" lengthAdjust="spacingAndGlyphs">performance bound</text>
<line x1="1321.5" y1="3121" x2="1506" y2="3121" stroke="#0072BD" stroke-width="3.8"/>
<text class="lg" x="1524.5" y="3140.7" font-size="49.5" textLength="198.2" lengthAdjust="spacing">follower<tspan dx="1.5" font-family="NanumGothic" font-size="45.8">1</tspan></text>
<line x1="1321.5" y1="3221" x2="1506" y2="3221" stroke="#D95319" stroke-width="3.8"/>
<text class="lg" x="1524.5" y="3240.7" font-size="49.5" textLength="198.2" lengthAdjust="spacing">follower2</text>
<line x1="1321.5" y1="3321.5" x2="1506" y2="3321.5" stroke="#EDB120" stroke-width="3.8"/>
<text class="lg" x="1524.5" y="3341.2" font-size="49.5" textLength="198.2" lengthAdjust="spacing">follower3</text>
<line x1="1321.5" y1="3421.5" x2="1506" y2="3421.5" stroke="#7E2F8E" stroke-width="3.8"/>
<text class="lg" x="1524.5" y="3441.2" font-size="49.5" textLength="198.2" lengthAdjust="spacing">follower4</text>
<line x1="1757" y1="3121" x2="1941.5" y2="3121" stroke="#77AC30" stroke-width="3.8"/>
<text class="lg" x="1960" y="3140.7" font-size="49.5" textLength="198.2" lengthAdjust="spacing">follower5</text>
<line x1="1757" y1="3221" x2="1941.5" y2="3221" stroke="#4DBEEE" stroke-width="3.8"/>
<text class="lg" x="1960" y="3240.7" font-size="49.5" textLength="198.2" lengthAdjust="spacing">follower6</text>
<line x1="1757" y1="3321.5" x2="1941.5" y2="3321.5" stroke="#A2142F" stroke-width="3.8"/>
<text class="lg" x="1960" y="3341.2" font-size="49.5" textLength="198.2" lengthAdjust="spacing">follower7</text>
</g>
<text class="cap" x="1147.5" y="1896.4" font-size="76" text-anchor="middle" textLength="83" lengthAdjust="spacingAndGlyphs">(<tspan font-weight="bold">a</tspan>)</text>
<text class="cap" x="1147.5" y="3928.2" font-size="76" text-anchor="middle" textLength="91" lengthAdjust="spacingAndGlyphs">(<tspan font-weight="bold">b</tspan>)</text>
</svg></body></html>
